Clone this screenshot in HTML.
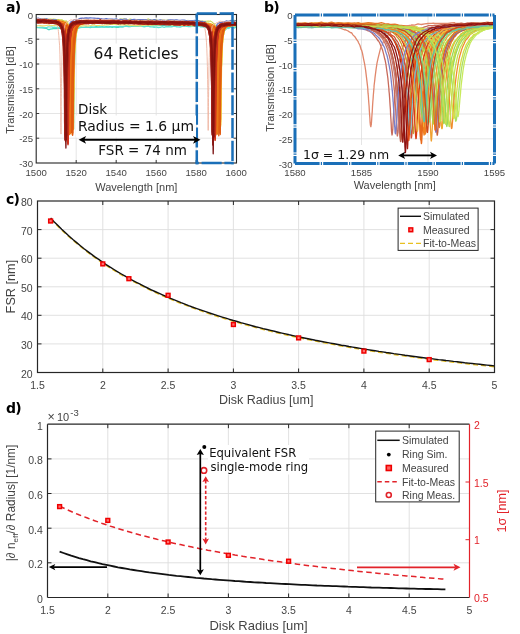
<!DOCTYPE html>
<html><head><meta charset="utf-8"><title>Figure</title>
<style>html,body{margin:0;padding:0;background:#fff;}svg{display:block;}</style>
</head><body>
<svg width="520" height="634" viewBox="0 0 520 634">
<rect width="520" height="634" fill="#fff"/>
<defs><clipPath id="ca"><rect x="36.2" y="14.5" width="200.3" height="148.5"/></clipPath><clipPath id="cb"><rect x="295" y="15" width="199.5" height="148.5"/></clipPath></defs>
<line x1="76.2" y1="14.5" x2="76.2" y2="163.0" stroke="#dedede" stroke-width="0.8"/>
<line x1="116.2" y1="14.5" x2="116.2" y2="163.0" stroke="#dedede" stroke-width="0.8"/>
<line x1="156.2" y1="14.5" x2="156.2" y2="163.0" stroke="#dedede" stroke-width="0.8"/>
<line x1="196.2" y1="14.5" x2="196.2" y2="163.0" stroke="#dedede" stroke-width="0.8"/>
<line x1="36.2" y1="39.2" x2="236.5" y2="39.2" stroke="#dedede" stroke-width="0.8"/>
<line x1="36.2" y1="64" x2="236.5" y2="64" stroke="#dedede" stroke-width="0.8"/>
<line x1="36.2" y1="88.8" x2="236.5" y2="88.8" stroke="#dedede" stroke-width="0.8"/>
<line x1="36.2" y1="113.5" x2="236.5" y2="113.5" stroke="#dedede" stroke-width="0.8"/>
<line x1="36.2" y1="138.2" x2="236.5" y2="138.2" stroke="#dedede" stroke-width="0.8"/>
<g clip-path="url(#ca)" fill="none" stroke-width="1.4" stroke-linejoin="round">
<polyline points="36.2,27.3 38.2,27.6 40.2,27.5 42.2,27.9 44.2,28 46.2,28.3 48.2,29.5 49.3,29.6 50.2,29.2 52.2,28.8 54.2,28.4 56.2,28.5 58,28.3 58.2,28.1 60.2,28.3 61.3,28.5 62.2,29.8 63.1,30.5 64.2,32.9 64.2,32.4 65,35.5 65.6,38.3 66.1,42.4 66.2,44.1 66.5,48.3 66.8,53.7 67.1,61 67.4,70.2 67.6,82.8 67.7,87.7 67.7,90.5 67.8,93.1 67.8,95.3 67.9,98.3 67.9,98.7 67.9,101.4 67.9,105 68,108 68,110.9 68.1,113.7 68.1,115.8 68.1,116.1 68.1,117.4 68.2,119.3 68.2,118.6 68.2,118.7 68.3,118.1 68.3,115.5 68.3,115 68.3,114.2 68.4,111 68.4,107.8 68.5,105 68.5,101.5 68.5,98.7 68.5,97.9 68.6,95.3 68.6,93.1 68.7,90.1 68.7,87.8 68.8,82.3 69,70.8 69.3,61.2 69.6,53.6 69.9,47.2 70.2,43.8 70.3,43.1 70.8,38.8 71.4,35 72.2,33.2 72.2,32.7 73.3,30.4 74.2,29 75.1,28.6 76.2,28.4 78.2,27.9 78.4,27.8 80.2,26.9 82.2,27.4 84.2,27.3 86.2,27 87.1,27.2 88.2,27.2 90.2,27.5 92.2,27.1 94.2,27.2 96.2,26.6 98.2,26.8 100.2,27 102.2,26.7 104.2,27.1 106.2,26.6 108.2,26.9 110.2,26.7 112.2,27.3 114.2,26.7 116.2,27.3 118.2,27.4 120.2,26.7 122.2,26.9 124.2,26.5 126.2,25.7 128.2,26.7 130.2,26.6 132.2,26.2 134.2,26 136.2,26.2 138.2,26.2 140.2,25.8 142.2,25.8 144.2,26.3 146.2,25.9 148.2,25.8 150.2,26.1 152.2,25.6 154.2,26 156.2,25.3 158.2,25.5 160.2,25.5 162.2,25.7 164.2,25.5 166.2,26.2 168.2,25.9 170.2,25.3 172.2,26.2 174.2,25.2 176.2,26.1 178.2,25.2 180.2,25.8 182.2,25.3 184.2,25.5 186.2,26.2 188.2,25.3 190.2,25.3 192.2,25.8 194.2,26 196.2,26.1 196.5,26.4 198.2,25.8 200.2,26.5 202.2,26.5 204.2,27.1 205.2,27.2 206.2,27.7 208.2,27.7 208.5,28.3 210.2,29.6 210.3,30 211.4,32.4 212.2,35 212.2,35.2 212.8,38.3 213.3,42.5 213.7,47.4 214,53.8 214.2,58.6 214.3,60.2 214.6,70.4 214.8,82.5 214.9,87.3 214.9,89.5 215,93.2 215,95.6 215.1,98.1 215.1,99.1 215.1,101.2 215.1,104.6 215.2,107.6 215.2,110.9 215.3,113.2 215.3,115 215.3,115.8 215.3,117.8 215.4,118.8 215.4,117.9 215.5,117.6 215.5,115.6 215.5,114.9 215.5,113.6 215.6,110.8 215.6,107.5 215.7,104.7 215.7,101.6 215.7,98.5 215.7,97.5 215.8,95.3 215.8,92.6 215.9,90.2 215.9,87.9 216,81.9 216.2,71.5 216.2,70.2 216.5,60.7 216.8,53.2 217.1,47.1 217.5,42.2 218,38.6 218.2,36.7 218.6,35.5 219.4,32.1 220.2,30.6 220.5,30 222.2,28.1 222.3,28.2 224.2,28.3 225.6,28.2 226.2,27.2 228.2,27.7 230.2,27.2 232.2,26.8 234.2,27.6 234.3,27.8 236.2,26.9" stroke="#3fd8c4" stroke-width="1.3"/>
<polyline points="36.2,27.2 38.2,27.5 40.2,27.7 42.2,27.2 44.2,27.5 46.2,27.7 48.2,26.9 50.2,27 52.2,26.8 52.5,27.3 54.2,27.1 56.2,27.3 58.2,27.3 60.2,27.1 61.2,27.6 62.2,27.4 64.2,28.1 64.5,27.7 66.2,30.4 66.3,29.7 67.4,32.2 68.2,34.9 68.2,35.4 68.8,38.3 69.3,42 69.7,47.2 70,53.1 70.2,58 70.3,60.2 70.6,69.9 70.8,82.4 70.9,86.9 70.9,89.8 71,92.9 71,94.6 71.1,96.4 71.1,97.3 71.1,100.6 71.1,103.4 71.2,105.6 71.2,108.7 71.3,111.2 71.3,112.7 71.3,113.3 71.3,114.6 71.4,115.5 71.4,115.7 71.5,115.3 71.5,113.3 71.5,112.9 71.5,111 71.6,109.3 71.6,106.1 71.7,103.2 71.7,100.8 71.7,96.8 71.8,96.3 71.8,94.8 71.8,91.6 71.9,89.1 71.9,87.7 72,81.6 72.2,71.9 72.2,69.8 72.5,61 72.8,53.3 73.2,47.3 73.6,41.9 74,38.1 74.2,37.2 74.6,34.4 75.4,32.5 76.2,30.8 76.5,30.8 78.2,28.1 78.3,28.3 80.2,27.6 81.7,27.3 82.2,27.5 84.2,27.3 86.2,27.4 88.2,27.3 90.2,27.2 90.4,26.7 92.2,27.1 94.2,27.3 96.2,27.5 98.2,27.5 100.2,26.7 102.2,27.1 104.2,27.2 106.2,27.2 108.2,27.4 110.2,27 112.2,26.5 114.2,26.9 116.2,26.7 118.2,26.6 120.2,26.4 122.2,26.9 124.2,26.4 126.2,26.5 128.2,25.9 130.2,26.4 132.2,26 134.2,25.7 136.2,26.4 138.2,26.5 140.2,26.3 142.2,26.5 144.2,26.9 146.2,26.5 148.2,26.1 150.2,26.9 152.2,27 154.2,27.4 156.2,27 158.2,27.6 160.2,27.5 162.2,26.7 164.2,27.5 166.2,26.8 168.2,26.6 170.2,26.9 172.2,26.8 174.2,26.2 176.2,26.8 178.2,26.9 180.2,27.1 182.2,26.5 184.2,25.9 186.2,26 188.2,26.7 190.2,26.6 192.2,26.5 194.2,26.2 196.2,26.5 198.2,26.4 199.7,26.4 200.2,26.7 202.2,26.7 204.2,26.9 206.2,27.2 208.2,27.4 208.4,27 210.2,28 211.7,28.9 212.2,29.9 213.5,30.5 214.2,32.6 214.6,33.4 215.4,35.3 216,38.7 216.2,40.7 216.5,43.6 216.9,48 217.2,54.1 217.5,61 217.8,69.5 218,81.7 218.1,87 218.1,89.5 218.2,91.6 218.2,92.9 218.2,94.6 218.3,96.2 218.3,97.2 218.3,99.1 218.3,101.8 218.4,104.4 218.4,107.5 218.5,109.4 218.5,110.7 218.5,111.5 218.5,112.8 218.6,113.9 218.6,113.9 218.7,112.4 218.7,111.5 218.7,110.6 218.7,109.2 218.8,107.9 218.8,105.1 218.9,102.1 218.9,99.4 218.9,97 218.9,95.9 219,94.1 219,92 219.1,89.5 219.1,86.5 219.2,81.7 219.4,71 219.7,60.8 220,53.8 220.2,49.9 220.3,48.2 220.7,43.2 221.2,39.5 221.8,34.9 222.2,34.4 222.6,32.6 223.7,31.2 224.2,30.4 225.5,29.9 226.2,29.1 228.2,27.9 228.8,28.6 230.2,27.5 232.2,27.5 234.2,27.7 236.2,27.4" stroke="#5ee4d4" stroke-width="1.2"/>
<polyline points="36.2,25.6 38.2,25.8 40.2,25.6 42.2,25.9 44.2,25.9 46.2,25.5 48.2,25.1 50.2,25.8 50.8,25.3 52.2,25.5 54.2,25.6 56.2,25 58.2,25.6 59.5,25 60.2,26 62.2,26.2 62.8,26.7 64.2,28.1 64.6,28.1 65.7,30.5 66.2,31.8 66.5,33.2 67.1,36.9 67.6,40.7 68,45.6 68.2,49.4 68.3,52 68.6,59.2 68.9,69.3 69.1,80.7 69.2,86.7 69.2,89.6 69.3,91.8 69.3,94.4 69.4,97.8 69.4,98.3 69.4,101.4 69.4,104.9 69.5,107.7 69.5,111.5 69.6,114.5 69.6,115.9 69.6,117.2 69.6,118.8 69.7,120.3 69.7,120.4 69.8,119.6 69.8,116.3 69.8,116.1 69.8,114.2 69.9,111.2 69.9,107.9 70,104.5 70,100.5 70,98.3 70.1,97.9 70.1,95.2 70.1,92.3 70.2,88.8 70.2,86.6 70.2,86.7 70.3,81.5 70.5,68.9 70.8,58.8 71.1,52.8 71.5,45.6 71.9,41.2 72.2,37.3 72.3,37.1 72.9,33.5 73.7,31.2 74.2,30 74.8,28.1 76.2,27.1 76.6,27.2 78.2,26.8 80,26.8 80.2,26.2 82.2,25.9 84.2,25.8 86.2,25.8 88.2,26.1 88.7,25.7 90.2,25.7 92.2,25.1 94.2,24.9 96.2,25.5 98.2,25.6 100.2,25.2 102.2,25.2 104.2,25.1 106.2,24.8 108.2,25 110.2,24.4 112.2,24.5 114.2,24.4 116.2,24.5 118.2,24.8 120.2,24.9 122.2,24.7 124.2,24.9 126.2,24.8 128.2,25 130.2,25.6 132.2,25.2 134.2,25.8 136.2,25.6 138.2,25.5 140.2,26.2 142.2,25.4 144.2,25.3 146.2,25.3 148.2,25.3 150.2,25.2 152.2,25.3 154.2,24.9 156.2,24.9 158.2,24.6 160.2,25 162.2,24.4 164.2,24.4 166.2,24.5 168.2,24.6 170.2,24.4 172.2,25.2 174.2,24.6 176.2,24.8 178.2,24.9 180.2,25 182.2,25.5 184.2,25.5 186.2,25.2 188.2,25.4 190.2,25.5 192.2,26.1 194.2,25.4 196.2,25.1 198.1,25.1 198.2,25.4 200.2,26 202.2,25.1 204.2,25.5 206.2,26.5 206.8,25.6 208.2,26.5 210.1,27.2 210.2,27 211.9,27.9 212.2,29 213,30.4 213.8,32.6 214.2,34.8 214.4,36.5 214.9,40.7 215.3,46 215.6,51.8 215.9,58.9 216.2,68.3 216.2,70.1 216.4,80.3 216.5,86.2 216.5,88.6 216.6,91.1 216.6,94 216.7,96.3 216.7,97.1 216.7,100.5 216.7,103.5 216.8,107.3 216.8,110.6 216.9,112.8 216.9,114.6 216.9,115.4 216.9,117.9 217,118.5 217,118.5 217.1,117.6 217.1,116.3 217.1,114.7 217.1,112.7 217.2,109.9 217.2,107.1 217.3,103.7 217.3,100.2 217.3,98.3 217.3,96.7 217.4,94.1 217.4,91.1 217.5,88 217.5,85.6 217.6,80.5 217.8,68.4 218.1,58.8 218.2,56.8 218.4,51.6 218.7,45.3 219.1,40 219.6,36.6 220.2,33.3 220.2,33.2 221,30.1 222.1,28.4 222.2,27.8 223.9,27.2 224.2,26.8 226.2,26.1 227.2,25.6 228.2,25.4 230.2,26.2 232.2,25.9 234.2,25.5 235.9,25.9 236.2,26.2" stroke="#e8e070" stroke-width="1.1"/>
<polyline points="36.2,18.8 38.2,19.1 40.2,18.6 42.2,19 44.2,18.6 46.2,19.3 48.2,19.3 50.2,19 52.2,19.4 53.9,19 54.2,19.1 56.2,19.6 58.2,19.5 60.2,19.9 62.2,19.8 62.6,20.4 64.2,20.8 65.9,21.1 66.2,20.9 67.7,22.5 68.2,24.1 68.8,25.4 69.6,27.7 70.2,31.6 70.2,32 70.7,35.7 71.1,40.6 71.4,47.2 71.7,55.1 72,64.8 72.2,75.6 72.2,77.3 72.3,82.8 72.3,85.6 72.4,88.5 72.4,92.1 72.5,94.6 72.5,95.8 72.5,99.3 72.5,103.4 72.6,106.7 72.6,111.2 72.7,115.4 72.7,117.5 72.7,118.8 72.7,121.2 72.8,123.5 72.8,123.3 72.9,121.6 72.9,117.8 72.9,117.2 72.9,115.1 73,110.9 73,106.3 73.1,103.1 73.1,99.3 73.1,95 73.2,94.6 73.2,91.7 73.2,88.9 73.3,85 73.3,82.2 73.4,77 73.6,64.1 73.9,55.4 74.2,47.2 74.2,47.1 74.6,40.8 75,35.7 75.4,31.9 76,29.1 76.2,27.6 76.8,26 77.9,23.8 78.2,23.5 79.7,22.2 80.2,22.6 82.2,20.7 83.1,20.9 84.2,20.4 86.2,20 88.2,20.5 90.2,21.1 91.8,20.7 92.2,20.8 94.2,20.6 96.2,20.3 98.2,21 100.2,20.1 102.2,20.7 104.2,20.1 106.2,20.2 108.2,20.2 110.2,20 112.2,20.1 114.2,20.1 116.2,20.4 118.2,19.8 120.2,19.1 122.2,19 124.2,19.1 126.2,19.3 128.2,19.8 130.2,19 132.2,19.5 134.2,19.5 136.2,19.6 138.2,19.5 140.2,19.7 142.2,19.6 144.2,20 146.2,19.8 148.2,18.9 150.2,19.8 152.2,20 154.2,19.8 156.2,19.8 158.2,20.5 160.2,20.3 162.2,20 164.2,20.3 166.2,20.4 168.2,20 170.2,20.8 172.2,20.6 174.2,20.9 176.2,20.3 178.2,21.5 180.2,21.1 182.2,21.1 184.2,20.7 186.2,20.7 188.2,20.4 190.2,21.4 192.2,20.6 194.2,20.9 196.2,21.1 198.2,20.6 200.2,21.1 200.9,21.5 202.2,21 204.2,21.4 206.2,21.2 208.2,21 209.6,21.2 210.2,20.9 212.2,22.1 212.9,23 214.2,23.8 214.7,24.4 215.8,26.6 216.2,27.3 216.6,29.2 217.2,33 217.7,36.2 218.1,41.5 218.2,43.7 218.4,47.5 218.7,54.9 219,64.8 219.2,77.2 219.3,83.1 219.3,86 219.4,89.1 219.4,93 219.5,95.3 219.5,96 219.5,99.5 219.5,103.9 219.6,106.9 219.6,111.5 219.7,115.9 219.7,118.2 219.7,119.1 219.7,121.7 219.8,123.5 219.8,123.2 219.9,121.9 219.9,118.8 219.9,117.9 219.9,115.5 220,111.2 220,106.6 220.1,103.8 220.1,99.8 220.1,96.2 220.1,94.9 220.2,92.9 220.2,91 220.2,89.2 220.3,86.5 220.3,83.6 220.4,77.7 220.6,65.6 220.9,55.6 221.2,47.7 221.5,41.3 221.9,36.5 222.2,34.6 222.4,32.4 223,28.6 223.8,26 224.2,25.3 224.9,24.3 226.2,22.5 226.7,22.6 228.2,22.1 230,21.5 230.2,20.7 232.2,20.9 234.2,20.4 236.2,20.9" stroke="#c8d850" stroke-width="1.1"/>
<polyline points="36.2,18.9 38.2,18 40.2,18.7 42.2,19.2 44.2,19.1 46.2,19 46.2,18.7 48.2,19.4 50.2,20 52.2,19.6 54.2,19.8 54.9,19.9 56.2,19.8 58.2,21 58.3,20.9 60,23.2 60.2,22.8 61.2,24.3 62,27.5 62.2,28.8 62.6,31.1 63,34.7 63.4,40.7 63.8,46.7 64.1,54.2 64.2,58.2 64.3,64.5 64.6,77.5 64.7,83.9 64.7,86.9 64.8,90.3 64.8,94.3 64.8,97.1 64.8,97.6 64.9,102.6 64.9,107 65,111.8 65,117.9 65,123.2 65.1,127.1 65.1,128.5 65.1,132.9 65.2,135.8 65.2,136.5 65.2,133.3 65.3,128.7 65.3,126.8 65.3,122.6 65.4,117.9 65.4,111.6 65.4,106.9 65.5,101.7 65.5,97.8 65.5,97.2 65.6,93.8 65.6,89.9 65.6,86.8 65.7,83.5 65.8,77.9 66,65 66.2,57.3 66.3,54.1 66.6,46.5 66.9,40.3 67.3,34.9 67.8,31.3 68.2,29 68.4,27.8 69.2,24.6 70.2,23.4 70.3,22.3 72.1,21.3 72.2,21.4 74.2,19.6 75.4,19.7 76.2,19.9 78.2,19.2 80.2,18.4 82.2,18.1 84.1,18.4 84.2,18.1 86.2,17.8 88.2,18.2 90.2,17.8 92.2,18 94.2,18.2 96.2,18.4 98.2,18.3 100.2,18.5 102.2,18.9 104.2,19.1 106.2,18.7 108.2,19.1 110.2,19 112.2,19 114.2,19.3 116.2,18.7 118.2,19.8 120.2,19.3 122.2,19.7 124.2,19 126.2,19.1 128.2,20.3 130.2,20 132.2,19.5 134.2,19.4 136.2,19.5 138.2,19.8 140.2,19.6 142.2,19.6 144.2,19.8 146.2,19.5 148.2,20.6 150.2,19.7 152.2,20.3 154.2,19.6 156.2,20 158.2,20.3 160.2,19.9 162.2,20.3 164.2,20.4 166.2,20.6 168.2,20.1 170.2,19.9 172.2,19.8 174.2,20.2 176.2,19.8 178.2,20.2 180.2,20.3 182.2,20.1 184.2,20 186.2,20.5 188.2,20.5 190.2,20.5 192.2,20.5 193.3,20.9 194.2,20.3 196.2,20.9 198.2,20.7 200.2,21.4 202,21.3 202.2,21.3 204.2,22.2 205.3,21.9 206.2,23.2 207.1,23.7 208.2,26.2 208.2,26.7 209,29.4 209.6,32.5 210.1,36.8 210.2,38.4 210.5,41.9 210.8,48.7 211.1,55.8 211.4,66.4 211.6,78.7 211.7,85 211.7,88.1 211.8,91.2 211.8,94.6 211.9,98.2 211.9,99.1 211.9,103 211.9,107.8 212,112.1 212,116.3 212.1,122.3 212.1,124.6 212.1,127.2 212.1,130.6 212.2,133.1 212.2,133.3 212.2,132.8 212.3,130.1 212.3,126.7 212.3,124.8 212.3,122.2 212.4,116.6 212.4,111.9 212.5,106.8 212.5,102.6 212.5,97.9 212.5,98.4 212.6,94.8 212.6,90.8 212.7,88 212.7,85.1 212.8,78.9 213,66.1 213.3,55.7 213.6,47.2 213.9,41.5 214.2,38.8 214.3,37.1 214.8,32.8 215.4,29 216.2,26.9 216.2,26.8 217.3,24.1 218.2,23.1 219.1,22.9 220.2,22.6 222.2,22.2 222.4,21.8 224.2,22.1 226.2,20.9 228.2,21.3 230.2,20.8 231.1,20.3 232.2,20.5 234.2,21.3 236.2,20.6" stroke="#5a6ec8" stroke-width="1.2"/>
<polyline points="36.2,22 38.2,21.7 40.2,21.7 42.2,21.6 44.2,21.6 46.2,21.8 48.2,21.4 50.2,22.5 52.2,21.8 54.2,22.2 54.7,21.9 56.2,21.9 58.2,22.4 60.2,22.5 62.2,22.3 63.4,22.6 64.2,23.2 66.2,23 66.7,23.2 68.2,25.8 68.5,25.6 69.6,27 70.2,29.4 70.4,30.6 71,34.1 71.5,38.3 71.9,43.3 72.2,48.9 72.2,49.1 72.5,57.2 72.8,66.9 73.1,80.3 73.1,85.6 73.2,88.8 73.2,91.7 73.3,94.7 73.3,97.8 73.3,98.5 73.3,102.4 73.4,106.7 73.4,111 73.5,115.6 73.5,119.6 73.5,122.9 73.5,123.4 73.6,127.1 73.6,129.2 73.7,129.1 73.7,127.4 73.7,123.9 73.8,122.7 73.8,119.5 73.8,115.8 73.9,111.9 73.9,107 73.9,103.3 74,98.8 74,97.6 74,94.9 74.1,92.2 74.1,88.8 74.1,85 74.2,81.4 74.2,79.8 74.5,66.5 74.8,56.2 75,49 75.4,43.2 75.8,38.1 76.2,34.3 76.3,34.3 76.9,31.1 77.6,28 78.2,27.2 78.8,25.9 80.2,24.5 80.6,23.5 82.2,23.9 83.9,23.2 84.2,23.2 86.2,22.7 88.2,22.4 90.2,22.9 92.2,23 92.6,23.2 94.2,23 96.2,22.5 98.2,22.7 100.2,23.1 102.2,22.9 104.2,22.8 106.2,22.6 108.2,23.1 110.2,23 112.2,23.5 114.2,23.3 116.2,22.4 118.2,23.8 120.2,23.1 122.2,23 124.2,23.2 126.2,23.4 128.2,23.1 130.2,23.1 132.2,23.2 134.2,23.8 136.2,23.2 138.2,23.5 140.2,23.4 142.2,23.1 144.2,22.9 146.2,22.9 148.2,23.3 150.2,22.9 152.2,22.8 154.2,22.8 156.2,22.7 158.2,23.2 160.2,23.3 162.2,22.9 164.2,23.7 166.2,23.2 168.2,23.4 170.2,23.4 172.2,23.9 174.2,23.6 176.2,23.4 178.2,23.1 180.2,23.1 182.2,23.5 184.2,23.6 186.2,23.9 188.2,23.5 190.2,23.8 192.2,23.5 194.2,23.2 196.2,23.9 198.2,24.5 200.2,24.4 201.6,24.7 202.2,24.6 204.2,23.9 206.2,24.4 208.2,25.3 210.2,24.9 210.3,24.7 212.2,25.8 213.6,26.6 214.2,26.9 215.4,28 216.2,29.2 216.5,29.9 217.3,32.6 217.9,36 218.2,38 218.4,40.2 218.8,46 219.1,51.6 219.4,58.9 219.7,68.6 220,80.4 220,86.2 220.1,89 220.1,91 220.2,94.2 220.2,96.8 220.2,96.7 220.2,97.2 220.2,100.6 220.3,104.9 220.3,107.6 220.4,110.8 220.4,114 220.4,115.3 220.4,115.8 220.5,118.3 220.5,119.6 220.6,118.5 220.6,118.3 220.6,116.7 220.7,115.2 220.7,113.5 220.7,110.9 220.8,107.1 220.8,104.2 220.8,101.1 220.9,97.5 220.9,96.7 220.9,94.7 221,91.4 221,88.8 221,85.1 221.1,81 221.4,68 221.7,59.1 222,51.6 222.2,46.8 222.3,45.2 222.7,40.1 223.2,36.4 223.8,33.4 224.2,31.7 224.6,30.3 225.7,28.1 226.2,27.2 227.5,26.5 228.2,25.9 230.2,25.2 230.8,25.5 232.2,25.9 234.2,25.6 236.2,25.6" stroke="#8ed050" stroke-width="1.2"/>
<polyline points="36.2,20.4 38.2,20.4 40.2,20.4 42.2,20.7 44.2,20.6 46.2,20.1 48.2,21.3 50.2,20.7 52.2,21.2 53.8,20.9 54.2,20.7 56.2,21.2 58.2,21 60.2,22.1 62.2,21.4 62.5,22.1 64.2,22.1 65.9,23 66.2,24.2 67.6,25 68.2,25.6 68.8,26.4 69.6,29.6 70.2,32.9 70.2,33.8 70.6,36.6 71,41.5 71.4,48.2 71.7,55.9 71.9,66 72.2,77.6 72.2,77.4 72.3,83.3 72.3,85.9 72.4,89.1 72.4,92.7 72.4,94.6 72.4,96.1 72.5,99.3 72.5,102.7 72.6,106.2 72.6,110.1 72.6,113.7 72.7,116.2 72.7,117.4 72.7,119.3 72.8,120.8 72.8,121 72.8,119.7 72.9,117.1 72.9,116.4 72.9,114.3 73,110.9 73,106.5 73,102.7 73.1,98.5 73.1,96.2 73.1,95.3 73.2,92.1 73.2,89.4 73.2,86.4 73.3,82.9 73.4,78.1 73.6,65.8 73.9,56.3 74.2,48.1 74.2,48 74.5,42.6 74.9,37.5 75.4,32.9 76,29.5 76.2,29.1 76.8,26.7 77.9,24.6 78.2,25 79.7,23.2 80.2,22.7 82.2,22.3 83,22.7 84.2,21.8 86.2,21.2 88.2,20.8 90.2,22 91.7,20.3 92.2,21.6 94.2,20.8 96.2,20.6 98.2,20.7 100.2,21 102.2,21.4 104.2,20.8 106.2,21.2 108.2,21.8 110.2,20 112.2,20.7 114.2,20.4 116.2,21.3 118.2,20.5 120.2,20.5 122.2,20.6 124.2,21.2 126.2,21.6 128.2,21.3 130.2,22.1 132.2,21.9 134.2,21.4 136.2,21.8 138.2,21.6 140.2,21.6 142.2,21 144.2,21.3 146.2,21.8 148.2,21.4 150.2,22.2 152.2,22.1 154.2,21.7 156.2,22.5 158.2,22.2 160.2,22.6 162.2,22.2 164.2,21.7 166.2,22.6 168.2,22.3 170.2,22.7 172.2,22.8 174.2,22.9 176.2,22 178.2,21.7 180.2,22.4 182.2,22.8 184.2,22.3 186.2,22.7 188.2,22.3 190.2,22.5 192.2,22.6 194.2,22.5 196.2,22.9 198.2,22.9 200.2,23.4 200.8,22.9 202.2,23.3 204.2,23 206.2,23.4 208.2,23.2 209.5,23.3 210.2,24.1 212.2,24.6 212.9,25 214.2,25.5 214.6,25.7 215.8,28.2 216.2,29.9 216.6,30.7 217.2,35.1 217.6,38.1 218,43.9 218.2,47.3 218.4,48.8 218.7,56.7 218.9,67.1 219.2,79 219.3,84.6 219.3,87.2 219.4,90.6 219.4,93.3 219.4,95.4 219.4,96.1 219.5,99.1 219.5,102.9 219.6,105.5 219.6,110 219.6,112.8 219.7,115.3 219.7,116.1 219.7,117.2 219.8,119.1 219.8,118.6 219.8,117.7 219.9,115.9 219.9,114.8 219.9,113 220,109.8 220,106 220,102.6 220.1,99.6 220.1,96.5 220.1,95.4 220.2,93 220.2,89.8 220.2,89.1 220.2,86.8 220.3,84.5 220.4,79.2 220.6,67 220.9,57.6 221.2,50.1 221.5,43.8 221.9,38.8 222.2,35.9 222.4,34.7 223,31.3 223.8,28.9 224.2,27 224.9,26.2 226.2,24.5 226.7,24.5 228.2,23.6 230,23.7 230.2,23.3 232.2,22.4 234.2,23.6 236.2,22.7" stroke="#a8d848" stroke-width="1.2"/>
<polyline points="36.2,20.5 38.2,20.5 40.2,20.4 42.2,20.4 44.2,20.4 46.2,21.2 48.2,20.1 50.2,20.5 51.5,20.7 52.2,21.1 54.2,21.2 56.2,21.2 58.2,21.5 60.2,22.6 60.2,21.7 62.2,21.6 63.6,24 64.2,23.4 65.3,24.9 66.2,26.6 66.5,26.7 67.3,30.4 67.9,33.3 68.2,35.5 68.3,37.5 68.7,42.6 69.1,48.6 69.4,56.4 69.6,65.3 69.9,78.8 70,83.8 70,87.4 70.1,89.7 70.1,93.2 70.1,96.8 70.1,96.6 70.2,100.5 70.2,101.8 70.2,103.4 70.3,108.2 70.3,112 70.3,114.9 70.4,117.6 70.4,118.2 70.4,121.1 70.5,123 70.5,122.7 70.5,120.8 70.6,118.4 70.6,117.5 70.6,115.4 70.7,111.7 70.7,108 70.7,103.3 70.8,100.2 70.8,97 70.8,96.1 70.9,93 70.9,89.8 70.9,87.1 71,84.4 71.1,78.5 71.3,66.5 71.6,56.7 71.9,48.4 72.2,43.2 72.2,42.4 72.6,37.1 73.1,33.2 73.7,30.1 74.2,27.5 74.5,27.2 75.6,25.4 76.2,24.3 77.4,23.5 78.2,23.5 80.2,22.6 80.7,22.6 82.2,23 84.2,22.2 86.2,22.1 88.2,22 89.4,22.4 90.2,21.9 92.2,21.8 94.2,21.7 96.2,22.1 98.2,21.4 100.2,22.1 102.2,21.7 104.2,21.1 106.2,21.8 108.2,21.7 110.2,21.1 112.2,21.6 114.2,21.6 116.2,21.4 118.2,21.1 120.2,22.2 122.2,21.7 124.2,21.8 126.2,21.8 128.2,21.8 130.2,21.8 132.2,21.4 134.2,21.8 136.2,21.5 138.2,21.4 140.2,21.8 142.2,21.6 144.2,21.1 146.2,21.6 148.2,22 150.2,21.8 152.2,22.2 154.2,21.8 156.2,21.7 158.2,22.4 160.2,22.2 162.2,21.8 164.2,22.5 166.2,22.3 168.2,22.8 170.2,22.8 172.2,22.8 174.2,21.9 176.2,22.9 178.2,23 180.2,23 182.2,23 184.2,22.7 186.2,23 188.2,22.4 190.2,23.1 192.2,22.7 194.2,23.2 196.2,23.1 198.2,23.9 198.7,23.5 200.2,23.5 202.2,23.7 204.2,24.5 206.2,23.7 207.4,24.3 208.2,24.5 210.2,25.2 210.7,25.4 212.2,26.5 212.5,27.4 213.6,29.5 214.2,31 214.4,31.8 215,35.3 215.5,39.5 215.9,44.5 216.2,50.3 216.2,50.1 216.5,58.2 216.8,66.8 217,79.3 217.1,85 217.1,87.2 217.2,90.8 217.2,93.8 217.3,96.3 217.3,96.5 217.3,99.6 217.3,103 217.4,106.1 217.4,110.2 217.5,112.3 217.5,114.7 217.5,115.3 217.5,117.2 217.6,118.5 217.6,118.6 217.7,117.5 217.7,115.2 217.7,114 217.7,112.4 217.8,109.9 217.8,106.6 217.9,103.3 217.9,99.5 217.9,97.1 217.9,95.4 218,93.5 218,90.6 218.1,87.4 218.1,84.5 218.2,79.4 218.2,78.5 218.4,67.2 218.7,57.4 219,49.9 219.4,44.3 219.7,38.8 220.2,35.2 220.2,35.1 220.8,32.1 221.6,29.2 222.2,27.5 222.7,27.4 224.2,25.2 224.5,25.1 226.2,24.4 227.8,24.8 228.2,24 230.2,23.5 232.2,23.8 234.2,23.4 236.2,24.1" stroke="#6cc8a0" stroke-width="1.2"/>
<polyline points="36.2,20.5 38.2,20.5 40.2,19.6 42.2,20.7 44.2,20.8 46.2,20.7 48.2,21.1 50.2,20.4 50.9,20.3 52.2,21.2 54.2,21.8 56.2,21 58.2,21.3 59.6,21.6 60.2,21.7 62.2,23.1 62.9,23.3 64.2,24.8 64.7,25.4 65.8,26.8 66.2,28.4 66.6,29 67.2,33.1 67.7,37.5 68.1,41.9 68.2,43 68.4,48 68.7,56 69,64.7 69.3,76.2 69.4,81.9 69.4,84.4 69.4,86.4 69.5,89.5 69.5,92.3 69.5,92.5 69.6,95.5 69.6,98.1 69.6,101 69.7,103.4 69.7,106.1 69.7,108.3 69.8,108.3 69.8,109.7 69.8,110.7 69.9,110.5 69.9,110.3 70,108.9 70,107.4 70,106.8 70,104.7 70.1,100.8 70.1,98.5 70.2,95.5 70.2,93 70.2,92.6 70.2,92.3 70.2,89.8 70.3,86.8 70.3,85.1 70.4,81.5 70.4,77.1 70.7,65.3 71,55.4 71.3,48.3 71.6,42.8 72,36.7 72.2,35.7 72.5,33.2 73.1,29.9 73.9,26.8 74.2,26.7 75,24.8 76.2,24.2 76.8,23.2 78.2,23.2 80.1,22.6 80.2,21.8 82.2,22 84.2,21.9 86.2,21.1 88.2,21.7 88.8,22.1 90.2,21.5 92.2,22.1 94.2,21.3 96.2,21.2 98.2,21.8 100.2,21.8 102.2,21.5 104.2,21.5 106.2,21.8 108.2,21.3 110.2,22.1 112.2,21.6 114.2,21.5 116.2,21.5 118.2,21.3 120.2,21.8 122.2,21.2 124.2,21.4 126.2,21.6 128.2,21.8 130.2,21.8 132.2,21.3 134.2,21.7 136.2,21.4 138.2,21.1 140.2,21.1 142.2,21 144.2,21.7 146.2,22 148.2,21.3 150.2,21.6 152.2,21.4 154.2,21.9 156.2,21.5 158.2,21.7 160.2,21.8 162.2,22 164.2,22.1 166.2,22.2 168.2,22.3 170.2,22.1 172.2,22.7 174.2,22 176.2,22.7 178.2,22.4 180.2,22.8 182.2,23 184.2,22.2 186.2,23.1 188.2,23.5 190.2,23.3 192.2,23.3 194.2,22.5 196.2,23.2 198.2,23 198.2,23.7 200.2,23.3 202.2,23.3 204.2,23.1 206.2,24.2 206.9,23.9 208.2,24.3 210.2,25.6 210.2,25.3 212,27 212.2,28 213.1,28.8 213.9,31.5 214.2,33.4 214.5,35.5 215,38.6 215.4,43.9 215.7,49.7 216,56.9 216.2,64.3 216.3,66.3 216.5,78.5 216.6,83.4 216.6,85.9 216.7,88.5 216.7,90.8 216.8,93.4 216.8,94.1 216.8,97 216.8,99.6 216.9,102.9 216.9,105.5 217,107.8 217,109.4 217,109.9 217,111.6 217.1,111.5 217.1,111.7 217.2,111.2 217.2,109.9 217.2,108.4 217.2,107.7 217.3,105.4 217.3,102.5 217.4,99.7 217.4,96.4 217.4,94 217.5,92.7 217.5,91.5 217.5,88.3 217.6,86.3 217.6,82.8 217.7,78.5 217.9,66.6 218.2,57.5 218.2,56.9 218.5,50.4 218.9,44.1 219.2,39.6 219.7,35 220.2,32.3 220.3,31.8 221.1,29.2 222.2,27 222.2,27.1 224,25 224.2,24.5 226.2,24.9 227.4,24 228.2,24 230.2,23.4 232.2,23.7 234.2,23.3 236.1,23.6 236.2,23" stroke="#bce048" stroke-width="1.2"/>
<polyline points="36.2,20.6 38.2,20.2 40.2,20.2 42.2,21.1 44.2,21 46.2,20.3 48.2,20.4 50.2,21.3 51.8,21.5 52.2,21.4 54.2,21.5 56.2,22 58.2,21.7 60.2,22.5 60.5,22.5 62.2,22.3 63.8,23.6 64.2,23.7 65.6,24.9 66.2,25.8 66.7,27.4 67.5,30 68.1,33.6 68.2,33.2 68.6,37.2 69,42.8 69.3,48.4 69.6,55.6 69.9,64.9 70.2,76.5 70.2,78.8 70.2,82.3 70.3,84.7 70.3,87.8 70.4,90 70.4,92.3 70.4,92 70.4,95.9 70.5,99.6 70.5,102.1 70.6,104.7 70.6,107.8 70.6,109.2 70.6,109.7 70.7,111.1 70.7,112.1 70.8,112.4 70.8,111 70.8,109.8 70.9,109 70.9,107.9 70.9,105.1 71,101.8 71,99.6 71,96 71.1,92.8 71.1,92.6 71.1,90.1 71.2,87.8 71.2,84.3 71.2,81.8 71.3,77 71.6,65.8 71.9,56.2 72.2,48.2 72.2,47 72.5,42.4 72.9,37.1 73.4,33.7 74,30.2 74.2,29.2 74.8,27.3 75.9,25.9 76.2,24.7 77.7,23.3 78.2,23.9 80.2,23.3 81,22.5 82.2,22.7 84.2,23.1 86.2,21.9 88.2,22 89.7,22.2 90.2,21.3 92.2,22 94.2,22.3 96.2,21.9 98.2,22.3 100.2,22.2 102.2,21.8 104.2,22.1 106.2,22.1 108.2,21.3 110.2,21.6 112.2,21.6 114.2,21.7 116.2,21.7 118.2,21.4 120.2,21.9 122.2,21.2 124.2,22.2 126.2,21.9 128.2,22.3 130.2,22 132.2,21.7 134.2,21.4 136.2,22.1 138.2,21.9 140.2,22 142.2,22.2 144.2,22.4 146.2,22 148.2,22.6 150.2,22 152.2,22.1 154.2,22.4 156.2,22.6 158.2,22.7 160.2,21.7 162.2,22.8 164.2,21.9 166.2,22.3 168.2,22.7 170.2,23 172.2,22.3 174.2,22.1 176.2,23.1 178.2,23 180.2,22.6 182.2,22.9 184.2,22.4 186.2,23.3 188.2,23 190.2,23.7 192.2,22.6 194.2,23.7 196.2,24.3 198.2,23.6 198.9,23.7 200.2,23 202.2,23.9 204.2,24 206.2,24 207.6,23.9 208.2,24.6 210.2,24.9 210.9,25.4 212.2,26.8 212.7,27.2 213.8,29.4 214.2,30.9 214.6,31.7 215.2,35.9 215.7,39.1 216.1,44.1 216.2,46.3 216.4,50.7 216.7,57.8 217,66.8 217.2,78.4 217.3,83.5 217.4,85.8 217.4,88.8 217.4,91.2 217.5,94 217.5,93.8 217.5,96.8 217.6,99.8 217.6,102 217.6,104.8 217.7,108.4 217.7,108.7 217.7,109.9 217.8,110.5 217.8,110.8 217.9,111.8 217.9,110.8 217.9,109.5 217.9,108.6 218,107.2 218,104.6 218,102.7 218.1,99 218.1,97.1 218.2,93.9 218.2,93 218.2,91.7 218.2,91.6 218.3,88.8 218.3,86.2 218.3,83.6 218.4,78.3 218.7,67.4 218.9,57.6 219.2,50.2 219.6,44.2 220,39.3 220.2,36.8 220.4,35.3 221,31.8 221.8,29.2 222.2,28 223,27.9 224.2,25.6 224.8,25.7 226.2,25.1 228.1,24.8 228.2,25.1 230.2,24.3 232.2,24.2 234.2,23.6 236.2,24.2" stroke="#8ed050" stroke-width="1.2"/>
<polyline points="36.2,21.1 38.2,21.2 40.2,21.7 42.2,21.4 44.2,21.7 46.2,21.4 48.2,20.9 50.2,21.4 52.2,21.8 54.1,22.3 54.2,22.3 56.2,22.5 58.2,21.8 60.2,22.5 62.2,22.5 62.8,22.9 64.2,23 66.1,23.4 66.2,24.2 67.9,25.7 68.2,26.3 69,27.5 69.8,30.9 70.2,32.9 70.4,34.4 70.9,38.5 71.3,42.9 71.6,48.4 71.9,57.3 72.2,66.2 72.2,66.7 72.5,80.2 72.5,85.6 72.6,88.5 72.6,91.9 72.7,94.4 72.7,98.8 72.7,98.5 72.7,102.5 72.8,106.9 72.8,111 72.9,115.3 72.9,120 72.9,122.7 72.9,124 73,128.2 73,128.9 73.1,128.6 73.1,127.2 73.1,124 73.2,123.3 73.2,120.3 73.2,116 73.3,111.5 73.3,106.5 73.3,103 73.4,98.9 73.4,98.7 73.4,95.2 73.5,91.7 73.5,88.8 73.5,85.9 73.6,79.1 73.9,67.2 74.2,57.3 74.2,56 74.5,48.9 74.8,42.4 75.2,38 75.7,34.2 76.2,31 76.3,30.3 77.1,28.2 78.2,25.2 78.2,25.2 80,24.1 80.2,23.7 82.2,22.9 83.3,22.4 84.2,23.1 86.2,22.1 88.2,22.5 90.2,22.6 92,22.2 92.2,22.3 94.2,22.5 96.2,22.7 98.2,22.5 100.2,21.6 102.2,21.5 104.2,21.9 106.2,21.7 108.2,22.3 110.2,22.2 112.2,22 114.2,22.5 116.2,22.5 118.2,22.1 120.2,22.3 122.2,22.6 124.2,22.1 126.2,22.3 128.2,21.9 130.2,22.3 132.2,22.4 134.2,22.3 136.2,22.5 138.2,22.7 140.2,22.6 142.2,22.3 144.2,22.3 146.2,22.2 148.2,23.2 150.2,22.8 152.2,22.9 154.2,22.7 156.2,23 158.2,23.1 160.2,22.7 162.2,22.9 164.2,23.4 166.2,22.6 168.2,22.8 170.2,23.4 172.2,22.9 174.2,23.5 176.2,22.9 178.2,23.4 180.2,23.6 182.2,23.5 184.2,23.7 186.2,23.4 188.2,23.4 190.2,23.5 192.2,23.8 194.2,24.9 196.2,23.6 198.2,24.4 200.2,23.7 201.5,23.4 202.2,23.8 204.2,24.1 206.2,24.2 208.2,24.3 210.2,24.8 210.2,24.8 212.2,25.5 213.5,25.4 214.2,26.3 215.3,27.2 216.2,29.1 216.5,29.6 217.3,32.4 217.9,35.6 218.2,38.3 218.3,39.8 218.7,45.1 219.1,51.3 219.4,58.1 219.6,68.5 219.9,81.2 220,86.1 220,89.1 220,92.3 220.1,95.9 220.1,97.9 220.1,99.1 220.2,102.6 220.2,105.7 220.2,107.1 220.3,111.1 220.3,114.5 220.3,118.3 220.4,120.8 220.4,122.3 220.4,125.1 220.4,126.2 220.5,126.6 220.5,124.3 220.6,121.6 220.6,119.7 220.6,118.3 220.6,114.9 220.7,111 220.7,108 220.8,103.2 220.8,99.4 220.8,98.3 220.9,95.7 220.9,92.4 220.9,89.5 221,86.5 221.1,80.6 221.3,68.7 221.6,58.8 221.9,51.5 222.2,44.6 222.2,44.5 222.6,39.6 223.1,36.2 223.7,32.4 224.2,30.6 224.5,29.7 225.6,27.6 226.2,26.7 227.4,26 228.2,25.2 230.2,24.8 230.7,24.9 232.2,24.6 234.2,24.5 236.2,23.9" stroke="#f4c038" stroke-width="1.4"/>
<polyline points="36.2,20.9 38.2,21.6 40.2,21.4 42.2,21.2 44.2,21.4 46.2,21.5 48.2,20.9 50.2,21.3 52.2,21.2 53.5,21.5 54.2,21.3 56.2,21.8 58.2,21.7 60.2,21.7 62.2,22.3 62.2,22.5 64.2,23.3 65.5,23.5 66.2,24 67.3,25.4 68.2,27.3 68.4,27.3 69.2,29.3 69.8,33.7 70.2,37 70.3,37.5 70.6,43.5 71,48.7 71.3,56.5 71.6,65.2 71.8,78 71.9,83.6 71.9,86 72,88.7 72,91.9 72.1,94.2 72.1,95.3 72.1,98.1 72.1,101 72.2,103.9 72.2,106 72.2,107.8 72.3,110.4 72.3,112.1 72.3,112.8 72.3,114.9 72.4,116.4 72.4,116.2 72.5,115.2 72.5,113.2 72.5,112.4 72.5,111 72.6,108.4 72.6,104.7 72.7,101.9 72.7,97.9 72.7,94.7 72.7,94.8 72.8,91.4 72.8,88.4 72.9,85.8 72.9,82.6 73,77.3 73.2,66.2 73.5,55.9 73.8,48.7 74.1,42.6 74.2,41.7 74.5,38.1 75,33.9 75.6,30.7 76.2,28.6 76.4,27.8 77.5,26.1 78.2,25.2 79.3,23.8 80.2,23.6 82.2,22.9 82.6,23.6 84.2,23 86.2,22.8 88.2,22.5 90.2,22.7 91.3,22.2 92.2,22.5 94.2,22.5 96.2,22.5 98.2,22.3 100.2,22.8 102.2,22.2 104.2,22.5 106.2,22.6 108.2,22.7 110.2,22.5 112.2,22.4 114.2,22.4 116.2,22.6 118.2,22.4 120.2,22.7 122.2,22.3 124.2,22.7 126.2,23.4 128.2,22.2 130.2,22.6 132.2,23.1 134.2,22.7 136.2,22.9 138.2,21.9 140.2,22.4 142.2,23.1 144.2,22.4 146.2,22.7 148.2,21.9 150.2,22.9 152.2,23.3 154.2,22.5 156.2,22.7 158.2,22.7 160.2,23.3 162.2,22.5 164.2,22.1 166.2,23.4 168.2,22.3 170.2,23 172.2,22 174.2,22.7 176.2,23 178.2,22.6 180.2,22.9 182.2,23.3 184.2,23 186.2,23.5 188.2,24 190.2,22.7 192.2,23.7 194.2,23.8 196.2,23.6 198.2,24.4 200.2,24.4 200.9,24.2 202.2,24.3 204.2,24.2 206.2,24.1 208.2,24.9 209.6,24.8 210.2,24.9 212.2,26.3 212.9,26.2 214.2,27.7 214.7,27.6 215.8,30 216.2,31.3 216.6,33.3 217.2,36.2 217.7,40.6 218.1,45 218.2,47.5 218.4,51.6 218.7,58.5 219,67.9 219.2,80.5 219.3,85.1 219.4,88.2 219.4,90.9 219.4,93.6 219.5,96.5 219.5,96.8 219.5,99.8 219.5,102.4 219.6,105.6 219.6,109.2 219.7,111.4 219.7,113.7 219.7,114.3 219.8,115.9 219.8,117.1 219.8,116.4 219.9,116.2 219.9,114.9 219.9,113.1 219.9,112.2 220,109.4 220,107.2 220.1,102.7 220.1,99.6 220.1,96.5 220.2,95.8 220.2,93.2 220.2,93.1 220.2,90.6 220.3,88.4 220.3,85.7 220.4,79.9 220.6,68.1 220.9,59.3 221.2,51.2 221.6,45.4 222,40.6 222.2,37.9 222.4,36.4 223,33.5 223.8,30.6 224.2,28.7 224.9,28.6 226.2,26.7 226.7,26.3 228.2,25.6 230.1,25.7 230.2,25.4 232.2,24.9 234.2,24.5 236.2,24.9" stroke="#f0b030" stroke-width="1.4"/>
<polyline points="36.2,19.8 38.2,20.6 40.2,20.1 42.2,20.3 44.2,20.6 46.2,20.2 48.2,20.3 50.2,20.6 52.2,20.3 53.8,21.1 54.2,20.6 56.2,20.6 58.2,20.8 60.2,20.7 62.2,21.8 62.5,22 64.2,21.9 65.9,22.6 66.2,22.2 67.7,24.2 68.2,25.6 68.8,26.4 69.6,29.7 70.2,33.3 70.2,32 70.6,36.8 71,41.6 71.4,47.8 71.7,54.9 72,65 72.2,76.8 72.2,77.9 72.3,83.6 72.3,85.3 72.4,88.2 72.4,91.7 72.4,94.3 72.5,95 72.5,98.7 72.5,101.5 72.6,105.4 72.6,109 72.7,112.4 72.7,114 72.7,115.3 72.7,117.4 72.8,119.3 72.8,118.7 72.9,116.9 72.9,115.6 72.9,114.5 72.9,112.2 73,108.8 73,105.3 73.1,102.5 73.1,98.2 73.1,95.4 73.1,94.6 73.2,91.6 73.2,88.8 73.3,85.5 73.3,82 73.4,77.4 73.6,64.9 73.9,55.9 74.2,48.4 74.2,48.4 74.5,42.2 74.9,37.4 75.4,33.1 76,29.6 76.2,29.1 76.8,27.3 77.9,25.2 78.2,24.2 79.7,23.1 80.2,22.5 82.2,21.8 83,22.2 84.2,21.6 86.2,22.2 88.2,20.8 90.2,21.1 91.7,21.6 92.2,21.9 94.2,21.4 96.2,22.1 98.2,21.8 100.2,21.3 102.2,21.5 104.2,21.7 106.2,21.2 108.2,21.9 110.2,21.5 112.2,21.8 114.2,21.9 116.2,21.4 118.2,22 120.2,21 122.2,21.8 124.2,20.9 126.2,22 128.2,21.4 130.2,22 132.2,22.1 134.2,21.6 136.2,21.4 138.2,22.1 140.2,21.2 142.2,21.9 144.2,21.6 146.2,21.5 148.2,21.5 150.2,22.3 152.2,21.1 154.2,21.5 156.2,21.9 158.2,22.1 160.2,22.4 162.2,22.3 164.2,21.7 166.2,22 168.2,22.3 170.2,22.1 172.2,21.5 174.2,22.2 176.2,22.3 178.2,21.7 180.2,22.1 182.2,22.3 184.2,22.6 186.2,23 188.2,22.9 190.2,22.7 192.2,22.7 194.2,22.6 196.2,22.6 198.2,22.8 200.2,22.9 201,23.4 202.2,23.8 204.2,23.4 206.2,23.7 208.2,23.9 209.7,24 210.2,24.5 212.2,25.1 213,25.2 214.2,26.1 214.8,27.1 215.9,28.9 216.2,30 216.7,32.1 217.3,35.1 217.8,38.6 218.2,44.4 218.2,44.3 218.5,49.8 218.8,57.3 219.1,67.5 219.3,78.7 219.4,84.7 219.5,87.5 219.5,90.3 219.5,92.9 219.6,95.6 219.6,96.3 219.6,99 219.7,102.9 219.7,106.4 219.7,109 219.8,112 219.8,113.6 219.8,115.2 219.9,116.4 219.9,117.6 219.9,117.2 220,117.2 220,114.8 220,114 220.1,112.8 220.1,109.5 220.1,105.6 220.2,102.9 220.2,100.7 220.2,99.1 220.3,95.9 220.3,95.3 220.3,93.4 220.3,90.2 220.4,87.1 220.4,85 220.5,79.7 220.8,66.9 221,57.2 221.3,50.7 221.7,45.1 222.1,39.8 222.2,38.2 222.5,35.2 223.1,31.6 223.9,29.2 224.2,28.7 225.1,26.9 226.2,26.1 226.8,25.4 228.2,24.9 230.2,23.3 230.2,23.9 232.2,24.2 234.2,24 236.2,23.7" stroke="#f8d040" stroke-width="1.4"/>
<polyline points="36.2,22 38.2,21.6 40.2,21.7 42.2,21.3 44.2,21.9 46.2,21.3 48.2,21.6 50.2,21.8 52.2,22.5 54.2,22.3 54.2,21.6 56.2,21.5 58.2,22 60.2,22 62.2,22.7 62.9,22.8 64.2,23.2 66.2,23.5 66.2,23.8 68,25.6 68.2,26 69.1,27.6 69.9,30.4 70.2,32.1 70.5,33.3 71,37.9 71.4,43 71.7,48.7 72,56.4 72.2,62.5 72.3,66.3 72.6,79.7 72.6,85.3 72.7,88.8 72.7,90.6 72.8,95 72.8,96.9 72.8,98.1 72.8,101.9 72.9,105.6 72.9,109.5 73,113.5 73,117.1 73,119.9 73,121.1 73.1,124.4 73.1,125.4 73.2,125.6 73.2,124.2 73.2,121.3 73.3,120 73.3,117.5 73.3,113.4 73.4,109.6 73.4,105.6 73.4,101.2 73.5,98.3 73.5,97.4 73.5,93.7 73.6,91.9 73.6,88.1 73.6,84.7 73.7,79.9 74,65.7 74.2,59.3 74.3,56.3 74.6,48.6 74.9,42.7 75.3,38.1 75.8,33.8 76.2,31.6 76.4,30.3 77.1,28.2 78.2,25.9 78.3,25.4 80.1,24.5 80.2,24.1 82.2,23.2 83.4,23.4 84.2,22.4 86.2,22.5 88.2,23 90.2,22.5 92.1,22.7 92.2,22.6 94.2,22.4 96.2,22.7 98.2,22.1 100.2,22.7 102.2,22.1 104.2,22.5 106.2,22.3 108.2,22.8 110.2,22.8 112.2,23.1 114.2,22.5 116.2,22.4 118.2,22.1 120.2,22.4 122.2,22.8 124.2,23 126.2,22.8 128.2,23 130.2,22.5 132.2,22.7 134.2,23.3 136.2,23.3 138.2,22.6 140.2,23 142.2,23.2 144.2,22.7 146.2,23.3 148.2,23.2 150.2,23.3 152.2,23.8 154.2,22.9 156.2,23.6 158.2,23.4 160.2,23.4 162.2,22.9 164.2,23.2 166.2,23.2 168.2,23.8 170.2,23.3 172.2,23.8 174.2,23.2 176.2,23.2 178.2,23.3 180.2,22.6 182.2,23.2 184.2,23.2 186.2,23.4 188.2,23.5 190.2,23.2 192.2,23.2 194.2,24.1 196.2,23.3 198.2,23.6 200.2,23.5 201.6,23.8 202.2,24.4 204.2,24.5 206.2,23.6 208.2,24.4 210.2,25.3 210.3,24.7 212.2,25.6 213.6,26.8 214.2,27.4 215.4,28.4 216.2,29.2 216.5,30 217.3,32.8 217.9,36 218.2,38.5 218.4,40.9 218.8,45.3 219.1,51.6 219.4,59.2 219.7,68.5 219.9,80.6 220,86.1 220,89.2 220.1,91.6 220.1,93.8 220.2,97.3 220.2,98.2 220.2,100.7 220.2,104 220.3,107.4 220.3,111.3 220.4,113.6 220.4,115.9 220.4,117 220.4,118.8 220.5,119.7 220.5,119.3 220.6,118.3 220.6,116.5 220.6,115.3 220.6,113.8 220.7,110.4 220.7,107.9 220.8,104.6 220.8,100.5 220.8,98 220.8,97.1 220.9,94.4 220.9,91.6 221,88.7 221,85.4 221.1,81.5 221.3,68 221.6,58.1 221.9,51.3 222.2,46 222.2,45 222.6,39.7 223.1,36.6 223.7,32.9 224.2,31.2 224.5,30 225.6,28 226.2,27.2 227.4,26.6 228.2,26.1 230.2,25.7 230.7,25.6 232.2,25.2 234.2,25 236.2,25.3" stroke="#f0a828" stroke-width="1.4"/>
<polyline points="36.2,21.8 38.2,21.9 40.2,22.2 42.2,22 44.2,21.4 46.2,23 48.2,22.3 50.2,22.2 52.2,22.8 54.1,23.1 54.2,21.8 56.2,22.9 58.2,22.2 60.2,22.9 62.2,23.4 62.8,23.4 64.2,23.7 66.1,24.4 66.2,24.7 67.9,26.4 68.2,26.8 69,28.2 69.8,31.1 70.2,33.6 70.4,35 70.9,38.8 71.3,44.1 71.6,50.1 71.9,58 72.2,66.7 72.2,67.2 72.5,79.7 72.6,85.5 72.6,87.7 72.6,91.4 72.7,93.5 72.7,97 72.7,97.8 72.8,101.8 72.8,106.3 72.8,109.3 72.9,113.1 72.9,116.3 72.9,119.7 73,119.7 73,123 73,124.1 73.1,125.2 73.1,122.9 73.2,120.5 73.2,118.9 73.2,117 73.2,113.7 73.3,109.1 73.3,105.2 73.4,101.5 73.4,97.8 73.4,97 73.4,94.7 73.5,92 73.5,89 73.6,85.2 73.6,79.7 73.9,67.3 74.2,57.8 74.2,56.6 74.5,50.1 74.8,44 75.2,39.1 75.7,34.1 76.2,31.7 76.3,31.7 77.1,29.2 78.2,26.8 78.2,26.3 80,24.7 80.2,24.9 82.2,24 83.3,23.8 84.2,24 86.2,22.9 88.2,23.1 90.2,22.2 92,23.3 92.2,23.1 94.2,22.6 96.2,23 98.2,23.3 100.2,23.2 102.2,22.8 104.2,22.7 106.2,22.8 108.2,22.4 110.2,22.4 112.2,22.7 114.2,22.8 116.2,22.9 118.2,22.6 120.2,22.5 122.2,22.8 124.2,22.7 126.2,23 128.2,23.4 130.2,23.3 132.2,22.7 134.2,22.8 136.2,22.5 138.2,23.1 140.2,22.8 142.2,22.7 144.2,22.9 146.2,23.5 148.2,23.4 150.2,23.4 152.2,23.8 154.2,23.4 156.2,23.2 158.2,23.8 160.2,23 162.2,23.9 164.2,23.9 166.2,24 168.2,24.2 170.2,23.9 172.2,24 174.2,23.5 176.2,23.9 178.2,24 180.2,24.3 182.2,24.7 184.2,24.3 186.2,24.6 188.2,24 190.2,24.4 192.2,23.8 194.2,24.2 196.2,24.2 198.2,24.4 200.2,24.5 201.2,24.4 202.2,24.3 204.2,25 206.2,24.7 208.2,24.2 209.9,25.4 210.2,25.5 212.2,26.2 213.2,27 214.2,26.8 215,28.1 216.1,30.2 216.2,29.8 216.9,32.2 217.5,36.7 218,40.1 218.2,42.5 218.4,45.3 218.7,51.4 219,59.2 219.3,68.2 219.6,81 219.7,86.5 219.7,89 219.7,92 219.8,95.2 219.8,98.1 219.8,98.1 219.9,101.9 219.9,105.7 219.9,109.6 220,113 220,116.7 220,118.3 220.1,119.2 220.1,122.3 220.1,122.8 220.2,122.6 220.2,122.1 220.2,122 220.3,119 220.3,118.5 220.3,116.9 220.3,113.4 220.4,109.4 220.4,105.5 220.5,101.8 220.5,98.7 220.5,98.6 220.5,95.8 220.6,92.8 220.6,89.6 220.7,87.4 220.7,81.2 221,68.5 221.3,59.2 221.6,51.4 221.9,45.8 222.2,42.1 222.3,40.7 222.8,36 223.4,32.7 224.2,30.5 224.2,29.8 225.3,28.3 226.2,26.6 227.1,26.4 228.2,26.1 230.2,25.1 230.4,25.6 232.2,25.4 234.2,25.4 236.2,24.7" stroke="#f4c038" stroke-width="1.4"/>
<polyline points="36.2,20.9 38.2,21.4 40.2,22.2 42.2,21.8 44.2,21.5 46.2,21.8 48.2,21.3 50.2,22.4 52.2,21.8 52.6,22.3 54.2,21.7 56.2,22.3 58.2,22.1 60.2,22.9 61.3,23.4 62.2,23.5 64.2,24.1 64.6,24.5 66.2,25.1 66.4,25.3 67.5,27.8 68.2,30.4 68.3,30.7 68.9,34.2 69.4,37.6 69.8,42.9 70.1,48.9 70.2,50.5 70.4,57.3 70.7,66.2 71,78.6 71.1,83.3 71.1,86.1 71.1,89.2 71.2,91.9 71.2,93.7 71.2,95.2 71.3,98.3 71.3,101.3 71.3,104.7 71.4,107.8 71.4,110.4 71.4,111.7 71.5,113.8 71.5,115 71.5,116 71.6,116.1 71.6,115.1 71.7,113.3 71.7,111.9 71.7,110.8 71.7,107.8 71.8,104.6 71.8,101.3 71.9,98.1 71.9,94.6 71.9,94.3 71.9,91.8 72,89 72,86.5 72.1,83.8 72.1,78.6 72.2,74.8 72.4,66.3 72.7,57 73,49 73.3,42.9 73.7,38.7 74.2,33.4 74.2,33.8 74.8,30.7 75.6,27.6 76.2,26.5 76.7,26 78.2,23.6 78.5,24.5 80.2,23.4 81.8,22.7 82.2,23.2 84.2,22.6 86.2,22.3 88.2,21.5 90.2,22.5 90.5,22.2 92.2,21.9 94.2,22.1 96.2,22.5 98.2,21.9 100.2,22 102.2,21.8 104.2,21.6 106.2,21.6 108.2,21.9 110.2,21.9 112.2,22.4 114.2,22.1 116.2,22 118.2,22.2 120.2,22.1 122.2,22.5 124.2,21.7 126.2,21.5 128.2,22.5 130.2,22.2 132.2,22.5 134.2,22.1 136.2,22.4 138.2,22.6 140.2,22.8 142.2,22.7 144.2,23.2 146.2,22.6 148.2,23.2 150.2,22.8 152.2,23 154.2,22.7 156.2,23.2 158.2,22.9 160.2,23.6 162.2,23.1 164.2,23.4 166.2,23.3 168.2,23.4 170.2,23.1 172.2,24.2 174.2,23.4 176.2,24.1 178.2,23.2 180.2,24.3 182.2,24 184.2,24.2 186.2,23.1 188.2,24.1 190.2,23.6 192.2,23.9 194.2,24.3 196.2,23.8 198.2,23.5 199.9,23.9 200.2,23.5 202.2,24 204.2,24 206.2,24.3 208.2,24.3 208.6,23.8 210.2,24.8 212,25.6 212.2,26 213.8,27.6 214.2,27.5 214.9,29.9 215.7,32.5 216.2,35.1 216.3,35.7 216.8,39 217.1,45.4 217.5,50.6 217.8,58 218.1,68.1 218.2,74.3 218.3,79.8 218.4,84.8 218.4,88.4 218.5,91.4 218.5,93.5 218.5,95.8 218.6,97.1 218.6,101 218.6,103 218.7,107 218.7,109.8 218.8,113.3 218.8,115 218.8,116 218.8,117.3 218.9,118.4 218.9,119.6 219,118.1 219,115.2 219,115 219,113.6 219.1,110 219.1,106.8 219.2,103.4 219.2,100.2 219.2,96.9 219.2,96.5 219.3,93.6 219.3,91 219.4,88 219.4,85.3 219.5,79.5 219.7,67.6 220,58.3 220.2,53 220.3,50.6 220.6,44.3 221,39.5 221.5,35 222.1,31.8 222.2,31.9 222.9,29.7 224,27.1 224.2,27 225.8,25.8 226.2,26.1 228.2,25.5 229.1,24.5 230.2,24.2 232.2,24 234.2,24.6 236.2,23.8" stroke="#f0b030" stroke-width="1.4"/>
<polyline points="36.2,21.6 38.2,20.8 40.2,21 42.2,20.7 44.2,21 46.2,21.3 48.2,21 50.2,21.3 52.2,21 54.1,21.2 54.2,21.6 56.2,21.4 58.2,21.5 60.2,21.8 62.2,21.6 62.8,21.5 64.2,22.5 66.1,23.4 66.2,24.1 67.9,25 68.2,25.5 69.1,27.9 69.9,29.8 70.2,31.4 70.5,33.5 70.9,37.5 71.3,42.7 71.7,48.3 72,56.8 72.2,64.8 72.2,65.4 72.5,79 72.6,84.8 72.6,88 72.7,91.5 72.7,94.6 72.7,97.3 72.7,98.6 72.8,102 72.8,105.9 72.9,110.4 72.9,116 72.9,120.3 73,123.1 73,123.8 73,127.4 73.1,129.2 73.1,129.8 73.1,128 73.2,124.1 73.2,122.7 73.2,120.2 73.3,115.3 73.3,110.5 73.3,106.3 73.4,102.5 73.4,98.9 73.4,97.5 73.5,94.5 73.5,91.2 73.5,88.1 73.6,85.2 73.7,78.8 73.9,66.1 74.2,56.3 74.2,56.1 74.5,48.8 74.8,42.4 75.2,37.7 75.7,33.7 76.2,30.4 76.3,29.5 77.1,27.1 78.2,24.5 78.2,25 80,23.4 80.2,23.7 82.2,22.6 83.3,21.7 84.2,21.9 86.2,21.6 88.2,21.4 90.2,21.6 92,21.6 92.2,21.5 94.2,21.3 96.2,21.4 98.2,21.4 100.2,21.5 102.2,21.9 104.2,21.7 106.2,22 108.2,21.3 110.2,22.5 112.2,21.8 114.2,21 116.2,22 118.2,22.3 120.2,22 122.2,21.6 124.2,22.1 126.2,21.9 128.2,22.1 130.2,22.3 132.2,21.1 134.2,22.2 136.2,22.5 138.2,22.5 140.2,22.2 142.2,22.3 144.2,22.2 146.2,22.4 148.2,23 150.2,22.3 152.2,22.6 154.2,22.7 156.2,23.1 158.2,22.8 160.2,22.9 162.2,22.6 164.2,23.1 166.2,22.6 168.2,22.6 170.2,23 172.2,22.9 174.2,23 176.2,22.4 178.2,23.6 180.2,22.8 182.2,23.3 184.2,22.9 186.2,22.5 188.2,23 190.2,22.8 192.2,23.1 194.2,22.2 196.2,22.6 198.2,22.6 200.2,23.5 201.7,23.5 202.2,22.8 204.2,23.3 206.2,23.5 208.2,23.5 210.2,24.4 210.4,23.7 212.2,24.5 213.8,25.1 214.2,25.8 215.5,26.8 216.2,28.3 216.7,28.8 217.5,31.5 218.1,34.9 218.2,36.1 218.5,39.2 218.9,45.3 219.3,50.2 219.6,58.3 219.8,67.7 220.1,80.7 220.2,86.6 220.2,87.2 220.2,88.7 220.3,91.4 220.3,95.4 220.3,98.2 220.3,98.1 220.4,102.5 220.4,105.2 220.5,109.8 220.5,114 220.5,117.2 220.6,119.2 220.6,121.4 220.6,122.9 220.7,125 220.7,124.4 220.7,123.6 220.8,121.5 220.8,119.5 220.8,117.3 220.9,113.1 220.9,109.3 220.9,105.8 221,102.3 221,98.8 221,98 221.1,95.5 221.1,92.1 221.1,89.9 221.2,86.1 221.3,80.5 221.5,67 221.8,57.9 222.1,50.8 222.2,48.3 222.4,44.9 222.8,39.7 223.3,36 223.9,31.5 224.2,30.6 224.7,29.7 225.8,27.2 226.2,26.4 227.6,25.4 228.2,25.1 230.2,24.9 230.9,24.7 232.2,24.3 234.2,23.8 236.2,24.3" stroke="#f8d040" stroke-width="1.4"/>
<polyline points="36.2,21.8 38.2,21.8 40.2,22.4 42.2,22.4 44.2,22 46.2,21.7 48.2,21.8 50.2,21.5 52.2,22.3 54,22.4 54.2,22.1 56.2,22.5 58.2,22.7 60.2,23.2 62.2,22.7 62.7,23.5 64.2,23.3 66,24.8 66.2,24 67.8,26.3 68.2,26.3 68.9,28.7 69.7,31 70.2,33.1 70.3,34.5 70.8,38.3 71.2,43.5 71.5,50.3 71.8,57.1 72.1,66.8 72.2,72.7 72.3,79.7 72.4,86 72.5,89 72.5,91.8 72.5,95.5 72.6,97.3 72.6,99.4 72.6,102.4 72.7,106.5 72.7,111.8 72.7,116.2 72.8,119.8 72.8,122.6 72.8,123.8 72.9,126.7 72.9,129 72.9,129.3 73,128 73,123.8 73,122.9 73.1,119.8 73.1,115.4 73.1,111.5 73.2,106.2 73.2,102.3 73.3,98.5 73.3,98.4 73.3,95.3 73.3,92 73.4,88.8 73.4,86.1 73.5,79.8 73.8,66.8 74,57.1 74.2,52.8 74.3,49.1 74.7,43.3 75.1,39.3 75.5,34.4 76.1,30.8 76.2,30.2 76.9,28.1 78.1,25.9 78.2,25.9 79.8,24 80.2,24.1 82.2,23.4 83.2,23.2 84.2,22.6 86.2,22.7 88.2,23 90.2,22.1 91.9,22.5 92.2,22.1 94.2,22.1 96.2,21.8 98.2,21.8 100.2,22.4 102.2,22.3 104.2,22.7 106.2,21.7 108.2,22.1 110.2,21.8 112.2,22.5 114.2,23.1 116.2,22 118.2,22.5 120.2,22.6 122.2,22.7 124.2,22.5 126.2,22.6 128.2,23.5 130.2,22.6 132.2,23.2 134.2,23.3 136.2,22.6 138.2,22.9 140.2,23.4 142.2,24 144.2,23.4 146.2,23.3 148.2,23.6 150.2,24 152.2,23.9 154.2,24.1 156.2,23.6 158.2,23.4 160.2,23.4 162.2,24 164.2,23.7 166.2,23.6 168.2,23.9 170.2,23.8 172.2,23 174.2,23.7 176.2,23.4 178.2,23.9 180.2,23.7 182.2,24.3 184.2,23.7 186.2,23.3 188.2,23 190.2,23.3 192.2,23.5 194.2,23.7 196.2,23.9 198.2,23.8 200.2,23.6 201,24.1 202.2,23.6 204.2,24.3 206.2,24.8 208.2,24.7 209.7,25.2 210.2,25.2 212.2,25 213,25.9 214.2,26.7 214.8,27.1 215.9,29.3 216.2,30.7 216.7,32 217.3,35.8 217.8,40 218.2,44.9 218.5,51.8 218.8,59.2 219.1,68.8 219.4,81.7 219.4,87.9 219.5,90.9 219.5,93.7 219.6,97 219.6,100.2 219.6,100.8 219.6,105.4 219.7,109.6 219.7,114 219.8,118.9 219.8,123.7 219.8,125.6 219.8,128 219.9,131.8 219.9,133.3 220,132.8 220,131.3 220,127.4 220.1,126.5 220.1,123.6 220.1,118.9 220.2,114 220.2,109.7 220.2,109.8 220.2,104.6 220.3,101.5 220.3,100.5 220.3,97.1 220.4,93.8 220.4,90.7 220.4,88.3 220.5,81.8 220.8,69.2 221.1,58.2 221.4,51.4 221.7,45.1 222.1,40.5 222.2,39.2 222.6,36.5 223.2,32.3 224,30 224.2,29.1 225.1,28 226.2,26.8 226.9,25.7 228.2,25.9 230.2,25.7 230.2,25 232.2,25.3 234.2,24.9 236.2,24.4" stroke="#e86a14" stroke-width="1.4"/>
<polyline points="36.2,21.7 38.2,21.5 40.2,21.2 42.2,22.2 44.2,21.5 46.2,22.3 48.2,22.3 50.2,22.7 50.4,21.4 52.2,22.2 54.2,22.3 56.2,22.8 58.2,22.5 59.1,23.8 60.2,23.4 62.2,23.5 62.4,24.5 64.2,26 64.2,25.8 65.3,28.5 66.1,31 66.2,31.2 66.7,34.3 67.2,38.4 67.5,43.7 67.9,49.7 68.2,57.5 68.2,57.4 68.5,67.1 68.7,80.7 68.8,87.4 68.8,89.4 68.9,92.7 68.9,96.8 69,100.2 69,100.7 69,104.2 69,109.3 69.1,113.9 69.1,118.7 69.2,123.4 69.2,126.8 69.2,128.7 69.2,132.9 69.3,134.4 69.3,134.6 69.4,132.6 69.4,129 69.4,127.2 69.4,123.5 69.5,118.8 69.5,113.2 69.6,108.6 69.6,104.2 69.6,100 69.6,99.4 69.7,96.7 69.7,92.9 69.8,88.7 69.8,86.9 69.9,80.8 70.1,67.1 70.2,64.9 70.4,57.8 70.7,50.2 71,43.4 71.4,38.2 71.9,33.9 72.2,32.6 72.5,30.7 73.3,28.7 74.2,26.4 74.4,26.4 76.2,24.4 76.2,24.2 78.2,23.3 79.5,23.6 80.2,22.7 82.2,23.1 84.2,23.1 86.2,22.7 88.2,23 88.2,22.5 90.2,22.4 92.2,22.5 94.2,22.2 96.2,22.5 98.2,22.3 100.2,22.8 102.2,22.3 104.2,22.5 106.2,22.4 108.2,22.3 110.2,22.2 112.2,22.8 114.2,22.8 116.2,22.3 118.2,22.1 120.2,22.1 122.2,22 124.2,21.9 126.2,22.2 128.2,22.4 130.2,22.8 132.2,22.8 134.2,22.7 136.2,22.5 138.2,22.6 140.2,22.7 142.2,22.8 144.2,22.6 146.2,22.8 148.2,22.8 150.2,22.9 152.2,23.3 154.2,23.5 156.2,23 158.2,23.1 160.2,23.4 162.2,23.6 164.2,22.7 166.2,23.8 168.2,23.7 170.2,23.5 172.2,24.1 174.2,23.7 176.2,23.2 178.2,23.5 180.2,23.6 182.2,23.7 184.2,23.9 186.2,23.6 188.2,24 190.2,24.1 192.2,24 194.2,23.8 196.2,24 197.6,23.9 198.2,24.9 200.2,23.8 202.2,23.5 204.2,24.1 206.2,24.9 206.3,25.1 208.2,25.2 209.7,26.4 210.2,26.1 211.5,27.9 212.2,28.6 212.6,29.4 213.4,33.3 214,35.9 214.2,37.9 214.4,40.6 214.8,45.3 215.2,51.4 215.5,58.6 215.8,69.3 216,81.5 216.1,87 216.1,90.5 216.2,93.8 216.2,96.2 216.2,97.8 216.2,100.1 216.3,101 216.3,104.8 216.3,108.4 216.4,113.5 216.4,118.3 216.5,122.6 216.5,126.2 216.5,127.8 216.5,131 216.6,133 216.6,132.5 216.7,130.9 216.7,126.7 216.7,125.3 216.7,122.7 216.8,118.5 216.8,113.5 216.9,108.9 216.9,105.3 216.9,100.9 216.9,100 217,97.2 217,93.3 217.1,90.2 217.1,88 217.2,81.9 217.4,69 217.7,58.8 218,51.6 218.2,47.1 218.3,45 218.7,39.7 219.2,36 219.8,33.1 220.2,30.4 220.6,29.9 221.7,27.2 222.2,26.9 223.5,25.7 224.2,25 226.2,24.8 226.8,24.3 228.2,25.1 230.2,24.1 232.2,24.3 234.2,24.2 235.5,24.1 236.2,24" stroke="#f08020" stroke-width="1.4"/>
<polyline points="36.2,21.4 38.2,21.1 40.2,21 42.2,21.6 44.2,21.5 46.2,22 48.2,21.5 49.1,21.3 50.2,21.9 52.2,21.4 54.2,22.6 56.2,22.8 57.8,22.9 58.2,22.6 60.2,23.1 61.2,23.6 62.2,24.4 63,25 64.1,27.6 64.2,28.2 64.9,30.6 65.5,32.8 66,38.5 66.2,40.6 66.3,42.2 66.7,48.7 67,56.8 67.3,66.3 67.5,79 67.6,84.7 67.6,88.4 67.7,91 67.7,94.5 67.7,97.1 67.8,97.8 67.8,102.2 67.8,106.7 67.9,110.4 67.9,114.4 68,119.2 68,121.9 68,122.7 68,127.1 68.1,128.2 68.1,128.7 68.2,126.6 68.2,123.4 68.2,122.5 68.2,122.4 68.2,119.6 68.3,115.5 68.3,110.3 68.4,106.3 68.4,101.9 68.4,98.5 68.4,97.5 68.5,94.2 68.5,91.2 68.6,87.8 68.6,84.8 68.7,79.4 68.9,66.8 69.2,56.2 69.5,48.8 69.8,42.3 70.2,38.8 70.2,38.2 70.7,34.3 71.3,30.4 72.1,27 72.2,27 73.2,25.2 74.2,24.1 75,23.3 76.2,23.1 78.2,22.3 78.3,22.3 80.2,22.9 82.2,22 84.2,21.3 86.2,21.9 87,21.7 88.2,21.9 90.2,21.8 92.2,21.2 94.2,21.7 96.2,22 98.2,22.7 100.2,21.9 102.2,22.4 104.2,22.4 106.2,21.5 108.2,21.6 110.2,22.5 112.2,21.6 114.2,21.8 116.2,22.3 118.2,21.8 120.2,22.7 122.2,22.6 124.2,22.7 126.2,22.7 128.2,22 130.2,22.8 132.2,22.8 134.2,22.8 136.2,22.5 138.2,22.7 140.2,22.3 142.2,22.9 144.2,23.2 146.2,22.9 148.2,22.8 150.2,23.2 152.2,22.8 154.2,22.3 156.2,23.1 158.2,22.9 160.2,22.5 162.2,23.2 164.2,23.3 166.2,23.4 168.2,22.9 170.2,22.8 172.2,23.1 174.2,23 176.2,22.6 178.2,22.7 180.2,23.5 182.2,23 184.2,23 186.2,22.8 188.2,23.2 190.2,23.3 192.2,23.3 194.2,23.8 196.2,23.3 196.4,23.5 198.2,23.2 200.2,23.8 202.2,23.8 204.2,24.3 205.1,24.5 206.2,24.1 208.2,25.3 208.5,25.2 210.2,27.3 210.2,27 211.4,29.8 212.2,32.1 212.2,32.3 212.8,35.1 213.2,39.4 213.6,44.6 214,50.4 214.2,56.2 214.3,58.2 214.5,67.8 214.8,80.9 214.9,86.8 214.9,89.5 215,92.9 215,95.9 215,98.5 215,99.3 215.1,103.5 215.1,107.9 215.2,111.6 215.2,116 215.2,119.7 215.3,122.8 215.3,124 215.3,126.7 215.4,128.8 215.4,128.7 215.4,126.4 215.5,123.5 215.5,122.3 215.5,120.1 215.6,116.3 215.6,111.5 215.6,107.4 215.7,103.4 215.7,99.8 215.7,98.9 215.8,96.2 215.8,92.7 215.8,89.2 215.9,86.6 216,81.5 216.2,69.3 216.2,68.6 216.5,58.6 216.8,50.5 217.1,44.4 217.5,39.8 218,35.3 218.2,34.4 218.6,32.6 219.4,29.8 220.2,28 220.5,26.7 222.2,26.1 222.3,25.2 224.2,24.4 225.6,24.6 226.2,24.4 228.2,24.4 230.2,24.1 232.2,23.8 234.2,24 234.3,23.7 236.2,23.6" stroke="#e05a10" stroke-width="1.4"/>
<polyline points="36.2,21.2 38.2,20.2 40.2,21.4 42.2,21.4 44.2,21.1 46.2,21.9 48.2,21.6 50.2,22 50.4,21.8 52.2,21.6 54.2,21.6 56.2,21.6 58.2,22 59.1,22 60.2,22.5 62.2,23.7 62.4,23.3 64.2,25.6 64.2,25.6 65.3,27.1 66.1,30.1 66.2,30.7 66.7,33.5 67.2,37.6 67.6,43.5 67.9,49.2 68.2,56.9 68.2,56.8 68.5,67 68.7,79.5 68.8,85.8 68.9,89.3 68.9,92.3 68.9,96.3 69,98.9 69,99.5 69,103.7 69.1,108.9 69.1,113.1 69.1,117.8 69.2,123 69.2,125.6 69.2,128.3 69.3,131.6 69.3,134.3 69.3,134 69.4,131.6 69.4,127.6 69.4,126.4 69.5,122.9 69.5,118.3 69.5,113.4 69.6,108 69.6,103.7 69.7,100.2 69.7,99.1 69.7,95.8 69.7,91.7 69.8,88.6 69.8,85.7 69.9,80.7 70.2,66.8 70.2,65.2 70.4,56.8 70.7,49.1 71.1,43.1 71.5,37.4 71.9,33.4 72.2,32.3 72.5,30.9 73.3,27.1 74.2,26.2 74.5,25.2 76.2,23.4 76.2,24.3 78.2,23.1 79.6,23 80.2,22.6 82.2,22.4 84.2,21.8 86.2,22.1 88.2,22.3 88.3,21.9 90.2,22.4 92.2,22.4 94.2,21.5 96.2,22.5 98.2,22.4 100.2,22.2 102.2,22.6 104.2,22.9 106.2,21.8 108.2,22.5 110.2,22.4 112.2,22.3 114.2,22.5 116.2,22.6 118.2,22.1 120.2,21.4 122.2,22 124.2,22 126.2,22.7 128.2,22.2 130.2,22.6 132.2,22 134.2,22.3 136.2,22.3 138.2,22.3 140.2,22.5 142.2,22.9 144.2,22.2 146.2,22.9 148.2,22.9 150.2,22.6 152.2,22.8 154.2,22.5 156.2,22.3 158.2,22.6 160.2,22.6 162.2,22.7 164.2,22.5 166.2,23.5 168.2,22.8 170.2,23.3 172.2,23.5 174.2,23.1 176.2,23.3 178.2,23 180.2,22.9 182.2,24.1 184.2,23.4 186.2,22.8 188.2,23.2 190.2,23.1 192.2,23.6 194.2,24.2 196.2,24.2 197.5,23.6 198.2,23.5 200.2,24.2 202.2,24.2 204.2,24.3 206.2,25.3 206.2,24.8 208.2,24.7 209.5,25.1 210.2,26.4 211.3,26.9 212.2,29.3 212.4,30 213.2,33.3 213.8,35.5 214.2,39 214.3,39.2 214.7,44.9 215,51.2 215.3,59.6 215.6,68.3 215.9,82 216,87.7 216,91.4 216,93.5 216.1,96.9 216.1,100.6 216.1,101 216.2,104.8 216.2,108.9 216.2,109.9 216.2,113.2 216.3,118.5 216.3,123.4 216.3,126.2 216.4,128.4 216.4,131.4 216.4,132.8 216.5,133.1 216.5,131.5 216.6,127.6 216.6,126.8 216.6,123.5 216.6,118.5 216.7,113.7 216.7,109.7 216.8,104.9 216.8,100.5 216.8,100.6 216.8,97.2 216.9,94.5 216.9,91.5 217,87.6 217,81.8 217.3,68.7 217.6,59.1 217.9,51.3 218.2,44.8 218.2,44.5 218.6,40.1 219.1,36.5 219.7,32.1 220.2,30.3 220.5,29.6 221.6,27.6 222.2,26.1 223.4,25.9 224.2,25.4 226.2,25.5 226.7,25 228.2,24.8 230.2,24.3 232.2,24.1 234.2,24.4 235.4,23.5 236.2,24.4" stroke="#ec7818" stroke-width="1.4"/>
<polyline points="36.2,22.1 38.2,22.1 40.2,22.5 42.2,22.8 44.2,22.5 46.2,22.4 48.2,22.5 50.2,22.2 50.8,23.3 52.2,22.9 54.2,23.3 56.2,22.3 58.2,23.2 59.5,23.4 60.2,23.8 62.2,23.8 62.8,24.5 64.2,25.5 64.6,26.8 65.7,27.8 66.2,29.6 66.5,30.8 67.1,33.9 67.6,38.5 68,43.6 68.2,47.2 68.3,49.5 68.6,57.4 68.9,67.1 69.1,80.3 69.2,85.7 69.3,88.6 69.3,92.1 69.3,94.8 69.4,98.9 69.4,99.2 69.4,102.4 69.5,107.3 69.5,112 69.5,115.4 69.6,120.2 69.6,123.3 69.6,124.2 69.7,128 69.7,129.9 69.7,129.5 69.8,127.8 69.8,124.7 69.8,123.1 69.9,120.6 69.9,115.8 69.9,111.4 70,106.8 70,103.1 70.1,99.5 70.1,98.7 70.1,95.5 70.1,91.5 70.2,88.5 70.2,87.6 70.2,85.6 70.3,80.6 70.6,66.7 70.8,57.5 71.1,49.4 71.5,43.3 71.9,38.6 72.2,35.3 72.3,34.7 72.9,31 73.7,27.9 74.2,25.7 74.9,25.8 76.2,24.7 76.6,24.8 78.2,23.3 80,23.8 80.2,23.5 82.2,22.8 84.2,23.2 86.2,22.1 88.2,22.2 88.7,22.8 90.2,22.8 92.2,23 94.2,23 96.2,22.4 98.2,22.4 100.2,22.5 102.2,22.5 104.2,22.9 106.2,22.6 108.2,23.3 110.2,22.8 112.2,22.3 114.2,22.4 116.2,23.1 118.2,23.1 120.2,22.6 122.2,22.5 124.2,23.7 126.2,23.4 128.2,23.2 130.2,22.9 132.2,23.6 134.2,23.2 136.2,23.6 138.2,22.7 140.2,23.4 142.2,23.6 144.2,23.7 146.2,23.3 148.2,23.4 150.2,24.1 152.2,23.6 154.2,24.2 156.2,24 158.2,24.2 160.2,24.2 162.2,24 164.2,24.1 166.2,23.6 168.2,23.5 170.2,23.9 172.2,24.2 174.2,23.5 176.2,24.5 178.2,24.5 180.2,23.6 182.2,23.6 184.2,23.5 186.2,24 188.2,24.4 190.2,24.1 192.2,23.8 194.2,24.3 196.2,24.3 198,24.6 198.2,24.6 200.2,24 202.2,24.2 204.2,25 206.2,25.3 206.7,25.2 208.2,25.2 210.1,26.7 210.2,26.4 211.9,28.7 212.2,28.9 213,30 213.8,32.6 214.2,35.6 214.4,36.6 214.8,40.2 215.2,45.6 215.6,51.9 215.9,59.2 216.1,69.1 216.2,71.1 216.4,82.1 216.5,88.4 216.5,91.3 216.6,94.5 216.6,98.4 216.6,101.2 216.6,101.3 216.7,106.2 216.7,109.6 216.8,114.5 216.8,119.4 216.8,123.9 216.9,126.9 216.9,128.2 216.9,132.4 217,134.4 217,134.4 217,131.6 217.1,128.4 217.1,127.3 217.1,124.3 217.2,119.7 217.2,114.7 217.2,110 217.3,105 217.3,102.4 217.3,100.6 217.4,97.9 217.4,94.8 217.4,91.4 217.5,88.5 217.6,82.3 217.8,68.9 218.1,60 218.2,56.1 218.4,51.9 218.7,45.1 219.1,40.4 219.6,36 220.2,32.9 220.2,32.7 221,30.3 222.1,28.5 222.2,27.9 223.9,26.3 224.2,25.7 226.2,26.4 227.2,25.5 228.2,25 230.2,25.6 232.2,25.1 234.2,24.3 235.9,24.5 236.2,25.3" stroke="#f49028" stroke-width="1.4"/>
<polyline points="36.2,20.6 38.2,20.5 40.2,20.1 42.2,20.3 44.2,19.8 46.2,20.6 48.2,21.3 50.2,20.7 52.2,20.5 53.8,20.6 54.2,20.7 56.2,21.1 58.2,20.5 60.2,21.5 62.2,21.3 62.5,21.7 64.2,22.5 65.8,22.4 66.2,24 67.6,24.9 68.2,25.5 68.7,27 69.5,29.3 70.1,33 70.2,33.7 70.6,36.4 71,42.3 71.3,48.5 71.6,56.5 71.9,66.3 72.2,79 72.2,81.9 72.2,85.3 72.3,88.6 72.3,91.4 72.4,95.7 72.4,98.3 72.4,99.1 72.4,103.4 72.5,107.5 72.5,112.5 72.6,117.6 72.6,121.8 72.6,125.1 72.6,126.8 72.7,131.1 72.7,133.1 72.8,133.1 72.8,130.6 72.8,126.2 72.9,125.5 72.9,122.1 72.9,117.1 73,113.3 73,107.9 73,102.9 73.1,98.6 73.1,98.4 73.1,94.6 73.2,91 73.2,88.3 73.2,84.7 73.3,78.7 73.6,66 73.9,56.6 74.2,48 74.2,47.6 74.5,42.4 74.9,37.2 75.4,33.3 76,29.4 76.2,28.5 76.8,26.7 77.9,24.7 78.2,24.8 79.7,23.4 80.2,22.7 82.2,22.5 83,21.2 84.2,22.2 86.2,22.1 88.2,21.4 90.2,21.5 91.7,21.8 92.2,21.9 94.2,21.6 96.2,21.5 98.2,21.5 100.2,21.9 102.2,21.7 104.2,21.6 106.2,21.6 108.2,23 110.2,22.2 112.2,22.2 114.2,22 116.2,21.9 118.2,21.6 120.2,21.7 122.2,22 124.2,21.9 126.2,21.3 128.2,22.1 130.2,21.8 132.2,21.4 134.2,21.8 136.2,22.6 138.2,21.8 140.2,22 142.2,21.9 144.2,21.5 146.2,21.7 148.2,21.9 150.2,21.6 152.2,21.7 154.2,21.8 156.2,21.8 158.2,21.8 160.2,22 162.2,22.1 164.2,22 166.2,22.3 168.2,22.5 170.2,21.6 172.2,22.2 174.2,22.2 176.2,22.3 178.2,22.3 180.2,22.4 182.2,22.4 184.2,22.8 186.2,22.3 188.2,22.9 190.2,22.4 192.2,23.5 194.2,23.3 196.2,22.7 198.2,23.2 200.2,23.4 200.9,23.1 202.2,23.7 204.2,23.5 206.2,24.5 208.2,24.1 209.6,24.5 210.2,24.2 212.2,24.8 213,25.8 214.2,26 214.7,27.4 215.9,30.1 216.2,31.2 216.7,31.6 217.3,35.6 217.7,39.9 218.1,45 218.2,46.3 218.5,50.5 218.8,58.6 219,67.8 219.3,81.6 219.4,88.2 219.4,90.1 219.5,93.8 219.5,97.2 219.5,99.5 219.5,100.9 219.6,104.4 219.6,109 219.7,113.8 219.7,118.1 219.7,123.1 219.8,125.2 219.8,126.9 219.8,130.7 219.9,132.5 219.9,132.4 219.9,130.7 220,126.8 220,125.7 220,122.5 220.1,118.4 220.1,113.4 220.1,108.7 220.2,104.9 220.2,102.2 220.2,100.9 220.2,99.8 220.3,97.2 220.3,93.4 220.3,89.8 220.4,87.2 220.5,82.1 220.7,68.4 221,58.3 221.3,51 221.6,44.4 222,39.5 222.2,37.8 222.5,35.7 223.1,32.4 223.9,29.6 224.2,28.7 225,27.2 226.2,26 226.8,25.8 228.2,25 230.1,24.4 230.2,25.1 232.2,24.5 234.2,24.3 236.2,24" stroke="#e86a14" stroke-width="1.4"/>
<polyline points="36.2,21.8 38.2,20.9 40.2,21.7 42.2,21.7 44.2,21.7 46.2,21.8 48.2,21.9 49.2,21.4 50.2,21.9 52.2,21.8 54.2,21.9 56.2,22.9 57.9,22.2 58.2,22.7 60.2,23.2 61.2,24.4 62.2,24.6 63,25.7 64.1,28.2 64.2,27.4 64.9,30.6 65.5,34.3 66,38.3 66.2,40.5 66.4,43 66.7,49.4 67,56.9 67.3,66.8 67.5,81 67.6,86.8 67.7,90 67.7,93 67.8,96.1 67.8,99.5 67.8,100.9 67.8,104.8 67.9,108.9 67.9,114.4 68,119.4 68,124.7 68,128.5 68,129.6 68.1,134.1 68.1,136.5 68.1,137 68.2,134.3 68.2,133.3 68.2,129.7 68.2,128 68.3,124.5 68.3,118.6 68.4,113.6 68.4,109.4 68.4,104.8 68.5,99.8 68.5,99.9 68.5,96 68.5,92.4 68.6,89.8 68.6,86.6 68.7,80.6 69,67.6 69.2,57.7 69.5,49.8 69.9,43.2 70.2,39.4 70.3,38.5 70.7,34.4 71.3,31.4 72.1,27.7 72.2,28.8 73.3,26.3 74.2,24.8 75.1,24.9 76.2,23.6 78.2,22.9 78.4,23.6 80.2,22.9 82.2,23.2 84.2,22.6 86.2,22.7 87.1,22.6 88.2,22.2 90.2,22.5 92.2,22.2 94.2,22.4 96.2,23 98.2,22.5 100.2,22.5 102.2,23.1 104.2,22.2 106.2,22.6 108.2,22.5 110.2,23 112.2,22.6 114.2,22.6 116.2,22.8 118.2,22.6 120.2,23.4 122.2,22.2 124.2,23.1 126.2,23.5 128.2,23.1 130.2,23 132.2,22.6 134.2,23.1 136.2,22.7 138.2,23.1 140.2,22.1 142.2,22.7 144.2,22.2 146.2,23.3 148.2,22.7 150.2,23.3 152.2,22.8 154.2,22.8 156.2,23.7 158.2,23.5 160.2,23.6 162.2,23.7 164.2,23.5 166.2,23.7 168.2,23.9 170.2,23.4 172.2,23.3 174.2,24 176.2,23.8 178.2,23.6 180.2,23.8 182.2,24 184.2,23.5 186.2,23.6 188.2,23.7 190.2,24 192.2,23.3 194.2,23.5 196.2,24.3 196.7,24.3 198.2,23.9 200.2,24.7 202.2,24.5 204.2,24.8 205.4,25.3 206.2,25.3 208.2,26.5 208.7,26.5 210.2,28.3 210.5,27.2 211.6,29.6 212.2,31.5 212.4,32.8 213,36 213.5,40 213.9,45.1 214.2,50.4 214.2,52 214.5,59.3 214.8,69.5 215.1,82.8 215.2,88.8 215.2,91.3 215.2,94.3 215.3,98.7 215.3,100.6 215.3,101.5 215.4,106.2 215.4,110.6 215.4,115.1 215.5,119.6 215.5,125 215.5,128.1 215.6,129.4 215.6,133.9 215.6,135.3 215.7,134.9 215.7,133 215.8,129 215.8,127.6 215.8,124.4 215.8,119.7 215.9,115.2 215.9,110.3 216,105.9 216,101.4 216,100.7 216,97.9 216.1,94.8 216.1,91.5 216.2,88.3 216.2,84.7 216.2,82.3 216.5,69.3 216.8,59.7 217.1,51.4 217.4,45.4 217.8,40.5 218.2,36.9 218.3,35.8 218.9,33 219.7,29.7 220.2,28.6 220.8,28 222.2,26.4 222.6,26.5 224.2,26 225.9,25.3 226.2,25.5 228.2,24.7 230.2,24.7 232.2,24.4 234.2,24.3 234.6,25.6 236.2,24.4" stroke="#f08020" stroke-width="1.4"/>
<polyline points="36.2,21.6 38.2,22.3 40.2,21.5 42.2,21.8 44.2,22.1 46.2,22.3 48.2,21 50.2,22.4 52.2,22.9 53.7,22.7 54.2,22.6 56.2,22.7 58.2,22.8 60.2,23.3 62.2,23.1 62.4,23.5 64.2,24.3 65.7,24.8 66.2,25 67.5,25.9 68.2,27.2 68.6,28.5 69.4,31.2 70,34.5 70.2,35.2 70.5,38.9 70.9,43.6 71.2,49.7 71.5,58 71.8,67.5 72.1,80.6 72.1,86.9 72.2,89.6 72.2,90.9 72.2,92.7 72.3,96.7 72.3,99.6 72.3,99.6 72.3,104.9 72.4,108.9 72.4,113.5 72.5,118.8 72.5,123.7 72.5,127.1 72.5,128.5 72.6,132.4 72.6,135.2 72.7,135.1 72.7,132.9 72.7,129 72.8,127 72.8,124.4 72.8,118.6 72.9,113.2 72.9,108.5 72.9,104.2 73,100.8 73,99.1 73,96.9 73.1,93.1 73.1,89.2 73.1,87.1 73.2,80.4 73.5,67.5 73.8,57.7 74.1,50.3 74.2,46.8 74.4,43.9 74.8,38.4 75.3,34.2 75.9,31.7 76.2,30 76.7,28.6 77.8,26.7 78.2,26.1 79.6,24.6 80.2,24.3 82.2,24.1 82.9,23.6 84.2,23 86.2,23.4 88.2,23.1 90.2,22.1 91.6,22.1 92.2,23.1 94.2,23 96.2,22.3 98.2,22.8 100.2,22.5 102.2,22.5 104.2,22.1 106.2,23.2 108.2,23.1 110.2,22.7 112.2,21.9 114.2,22.4 116.2,22.9 118.2,22.2 120.2,22.1 122.2,22.5 124.2,22.5 126.2,22.3 128.2,22.1 130.2,22.5 132.2,22.4 134.2,22.7 136.2,22.8 138.2,23.1 140.2,22.8 142.2,23 144.2,23.1 146.2,22.7 148.2,23 150.2,22.9 152.2,23.8 154.2,23.1 156.2,23.6 158.2,23.7 160.2,23.8 162.2,23.2 164.2,23.4 166.2,24 168.2,24.2 170.2,23.8 172.2,24 174.2,23.3 176.2,24.4 178.2,24.6 180.2,24.1 182.2,24 184.2,24 186.2,23.8 188.2,23.4 190.2,24.2 192.2,24.3 194.2,24.7 196.2,24.1 198.2,23.9 200.2,24.3 201.2,23.8 202.2,24.2 204.2,23.8 206.2,24.3 208.2,25 209.9,25.1 210.2,25.5 212.2,26.1 213.3,26 214.2,26.5 215,27 216.2,29.9 216.2,30 217,33 217.6,35.7 218,40 218.2,42.2 218.4,45 218.8,51.2 219.1,59.7 219.3,68.6 219.6,82 219.7,88.1 219.7,91.1 219.8,93.6 219.8,97.2 219.8,100 219.8,101.9 219.9,105.7 219.9,109.5 220,114.9 220,119.5 220,124.7 220.1,126.2 220.1,128.2 220.1,132.1 220.2,134.3 220.2,134.6 220.2,134.5 220.2,132 220.3,128.8 220.3,126.6 220.3,124.2 220.4,119.5 220.4,113.9 220.4,109.8 220.5,105.3 220.5,101.6 220.5,101.4 220.6,97.5 220.6,94.6 220.6,90.6 220.7,88.5 220.8,82.6 221,68.8 221.3,59 221.6,51.3 221.9,45.6 222.2,41.3 222.3,40.7 222.8,36.2 223.4,32.9 224.2,30 224.2,29.6 225.3,27.9 226.2,26.5 227.1,25.8 228.2,26.1 230.2,25.4 230.4,25 232.2,24.9 234.2,24.4 236.2,25" stroke="#e05a10" stroke-width="1.4"/>
<polyline points="36.2,20.9 38.2,20.6 40.2,21.1 42.2,20.5 44.2,21.8 46.2,21.4 48.2,21 50.2,21.8 52.2,21.1 52.2,21.8 54.2,21.5 56.2,22 58.2,22 60.2,22.2 60.9,22.4 62.2,22.9 64.2,22.9 64.2,23.7 66,25.7 66.2,25.3 67.1,27.3 67.9,29.9 68.2,31.1 68.5,34.1 69,37.5 69.4,42.5 69.7,49.1 70,56.7 70.2,63.4 70.3,66.7 70.6,78.9 70.6,86 70.7,88.5 70.7,91.4 70.8,94.7 70.8,97.2 70.8,99.1 70.8,102.4 70.9,106.2 70.9,111.3 71,115.3 71,119.1 71,121.8 71,123.6 71.1,127.9 71.1,128.8 71.2,128.7 71.2,127.1 71.2,123.8 71.3,121.2 71.3,119.8 71.3,115.6 71.4,110.8 71.4,106.6 71.4,102.5 71.5,98.5 71.5,97.5 71.5,94.8 71.6,91.9 71.6,88.4 71.6,85.2 71.7,79.7 72,66.2 72.2,58.4 72.3,57.2 72.6,49.1 72.9,42.4 73.3,37.5 73.8,33.9 74.2,31 74.4,30.8 75.2,28.3 76.2,25.6 76.3,25.6 78.1,23.9 78.2,24 80.2,23.1 81.4,23.2 82.2,22.7 84.2,22.4 86.2,22.6 88.2,22.2 90.1,23 90.2,22.7 92.2,21.9 94.2,21.8 96.2,22.3 98.2,22.4 100.2,22.8 102.2,22.3 104.2,22.1 106.2,22.9 108.2,22.2 110.2,22.2 112.2,22.2 114.2,22.7 116.2,22.2 118.2,22.9 120.2,21.8 122.2,22.3 124.2,22.7 126.2,21.8 128.2,21.9 130.2,22.5 132.2,21.5 134.2,22.6 136.2,22.2 138.2,21.9 140.2,23.1 142.2,22 144.2,22.3 146.2,22.3 148.2,22.7 150.2,22.3 152.2,22.8 154.2,22.8 156.2,22.6 158.2,22.9 160.2,22 162.2,23.1 164.2,22.9 166.2,22.8 168.2,22.8 170.2,22.6 172.2,22.6 174.2,23.1 176.2,23.2 178.2,23.1 180.2,22.9 182.2,23 184.2,23.5 186.2,24.1 188.2,22.7 190.2,23.2 192.2,23.5 194.2,23.6 196.2,24 198.2,24.2 199.5,24.1 200.2,24.1 202.2,24.3 204.2,24.8 206.2,24.6 208.2,24.6 208.2,25 210.2,25.4 211.5,26.8 212.2,26.6 213.3,27.8 214.2,29.7 214.4,30.5 215.2,32.5 215.8,36.3 216.2,38.9 216.3,40.3 216.7,45 217,51.5 217.3,59.5 217.6,68.8 217.9,81.7 218,87.2 218,90.5 218,93.6 218.1,96.5 218.1,99.2 218.1,100.1 218.2,103.8 218.2,108 218.2,108.5 218.2,112.1 218.3,116.5 218.3,120.8 218.3,123.2 218.4,123.8 218.4,127.6 218.4,129.4 218.5,129.4 218.5,127.6 218.6,124.5 218.6,123.7 218.6,121.4 218.6,116.4 218.7,112.8 218.7,108 218.8,104 218.8,99.9 218.8,98.9 218.8,96.6 218.9,93.6 218.9,90.7 219,87.6 219,81.7 219.3,69.4 219.6,59 219.9,51.4 220.2,45 220.2,45.3 220.6,40.1 221.1,36.3 221.7,32.8 222.2,31.3 222.5,29.9 223.6,27.2 224.2,27 225.4,26 226.2,26 228.2,24.5 228.7,25.2 230.2,24.4 232.2,24.4 234.2,24.6 236.2,23.9" stroke="#ec7818" stroke-width="1.4"/>
<polyline points="36.2,21.1 38.2,21.4 40.2,21.7 42.2,21.4 44.2,21.4 46.2,21.3 48.2,20.9 50.2,21.9 52.1,21.4 52.2,22.2 54.2,21.8 56.2,21.8 58.2,22.5 60.2,22.6 60.8,22 62.2,22.4 64.2,23.3 64.2,23.6 65.9,24.2 66.2,25.4 67.1,27.4 67.9,29.2 68.2,31.3 68.5,33.3 68.9,36.9 69.3,42.4 69.7,48.4 70,56.3 70.2,64.8 70.2,65.8 70.5,79.3 70.6,85.7 70.6,88.7 70.7,91.4 70.7,95.4 70.7,98.3 70.7,98.9 70.8,103.2 70.8,108.2 70.9,112.3 70.9,117.2 70.9,122.4 71,125.4 71,127.5 71,131.4 71.1,133.5 71.1,134.1 71.1,131.1 71.2,127 71.2,125.5 71.2,122.1 71.3,117.3 71.3,112.8 71.3,107.4 71.4,103.2 71.4,99 71.4,98.3 71.5,94.8 71.5,91.5 71.5,88.7 71.6,85.2 71.7,79.1 71.9,66.4 72.2,56.4 72.2,56.2 72.5,48.8 72.8,42.3 73.2,37 73.7,32.5 74.2,29.8 74.3,29.4 75.1,26.7 76.2,24.4 76.2,25 78,23 78.2,23 80.2,22.3 81.3,22.2 82.2,22 84.2,21.7 86.2,21.9 88.2,21.2 90,21.4 90.2,21.3 92.2,21.2 94.2,21.1 96.2,21.5 98.2,21.4 100.2,21.9 102.2,22.2 104.2,22.1 106.2,20.9 108.2,22.2 110.2,21.4 112.2,21.1 114.2,21.9 116.2,21.2 118.2,21.2 120.2,21.6 122.2,21.1 124.2,21.8 126.2,22.3 128.2,22 130.2,22.4 132.2,22.7 134.2,22.8 136.2,21.6 138.2,22.6 140.2,22.5 142.2,22.8 144.2,22.5 146.2,22.7 148.2,22.8 150.2,23.1 152.2,23.2 154.2,23 156.2,22.6 158.2,22 160.2,22.4 162.2,22.1 164.2,22.6 166.2,22.8 168.2,23.2 170.2,22.7 172.2,23.5 174.2,22.8 176.2,22.1 178.2,22.6 180.2,22.3 182.2,22.8 184.2,23.2 186.2,22.8 188.2,22.8 190.2,22.3 192.2,22 194.2,23 196.2,22.9 198.2,22.9 199.2,23 200.2,23.4 202.2,23 204.2,23.1 206.2,23.3 207.9,24.2 208.2,23.8 210.2,25 211.3,24.7 212.2,26.1 213,26.8 214.2,29.1 214.2,29.2 215,32 215.6,35.7 216,38.6 216.2,40.9 216.4,44.1 216.8,49.7 217.1,58.1 217.3,67.8 217.6,81 217.7,86.3 217.7,89.5 217.8,92.8 217.8,96.4 217.8,99.3 217.8,99.5 217.9,104.6 217.9,108.1 218,112.6 218,117.2 218,122.3 218.1,124.2 218.1,126.1 218.1,129.3 218.2,131.3 218.2,131.9 218.2,131.4 218.2,130 218.3,126.3 218.3,124.5 218.3,121.8 218.4,117.3 218.4,112.8 218.4,107.5 218.5,103.9 218.5,100.6 218.5,99.6 218.6,96.7 218.6,93.1 218.6,90.1 218.7,87.2 218.8,80.4 219,68 219.3,58.3 219.6,50.6 219.9,44.4 220.2,40.3 220.3,39.1 220.8,34.8 221.4,32.9 222.2,29 222.2,28.7 223.3,26.3 224.2,26 225.1,26 226.2,24.7 228.2,24.6 228.4,24.9 230.2,24.3 232.2,23.6 234.2,23.5 236.2,23.6" stroke="#f49028" stroke-width="1.4"/>
<polyline points="36.2,21.6 38.2,21.9 40.2,22 42.2,22 44.2,22.7 46.2,21.8 48.2,21.8 50.2,22.4 51.3,22.3 52.2,22.2 54.2,21.9 56.2,22.4 58.2,22.8 60,23.2 60.2,23.6 62.2,23.9 63.3,24.3 64.2,25 65.1,25.9 66.2,27.7 66.3,28 67,30.8 67.6,34 68.1,38.4 68.2,39.3 68.5,43.3 68.9,50.2 69.2,56.9 69.4,67.6 69.7,80.1 69.8,86.2 69.8,88.9 69.8,92.5 69.9,96.4 69.9,98.6 69.9,99.7 70,103.8 70,108.2 70,112.5 70.1,117.4 70.1,122.6 70.1,126.2 70.2,127.4 70.2,130.7 70.2,130.4 70.2,133.1 70.3,133.3 70.3,130.7 70.4,127.4 70.4,125.6 70.4,122.7 70.4,118.3 70.5,112.6 70.5,108.2 70.6,104 70.6,100.3 70.6,99 70.6,95.6 70.7,92.8 70.7,89.7 70.8,86.2 70.9,80.9 71.1,68 71.4,57.5 71.7,49.9 72,43.6 72.2,41 72.4,38.3 72.9,34.4 73.5,31.1 74.2,28.5 74.3,28 75.4,25.7 76.2,24.8 77.2,24.1 78.2,25 80.2,23.6 80.5,23.3 82.2,22.9 84.2,23.3 86.2,22.2 88.2,22.5 89.2,22.8 90.2,22.5 92.2,22.7 94.2,22.8 96.2,22.4 98.2,22.7 100.2,23 102.2,22.8 104.2,22.6 106.2,23 108.2,22.2 110.2,23.1 112.2,22.1 114.2,22.5 116.2,23.1 118.2,22.8 120.2,22.5 122.2,23 124.2,23.4 126.2,23 128.2,22.4 130.2,23.6 132.2,22.9 134.2,23.2 136.2,23.2 138.2,23.4 140.2,23.4 142.2,22.9 144.2,23.1 146.2,23.7 148.2,22.9 150.2,23.9 152.2,23.2 154.2,23.4 156.2,23.1 158.2,23.4 160.2,23.2 162.2,23.6 164.2,23.3 166.2,23.5 168.2,22.9 170.2,23.9 172.2,23.2 174.2,23.5 176.2,23.6 178.2,23.9 180.2,23.6 182.2,24.3 184.2,24.3 186.2,23.6 188.2,24.4 190.2,23.4 192.2,24 194.2,23.9 196.2,24 198.2,24 198.2,24.2 200.2,24.3 202.2,24.4 204.2,24.2 206.2,24.4 206.9,24.5 208.2,25.2 210.2,26.2 210.3,26.8 212.1,27.7 212.2,27.8 213.2,30.2 214,32.6 214.2,33.5 214.6,36.2 215,40 215.4,45.3 215.8,52.2 216.1,59.5 216.2,63.3 216.4,68.9 216.6,82.5 216.7,88.3 216.7,91.4 216.8,94.3 216.8,97.7 216.8,100.4 216.9,101.2 216.9,105.4 216.9,109.6 217,114.2 217,118.9 217.1,123.1 217.1,127.2 217.1,128 217.1,131.4 217.2,133 217.2,133.8 217.3,131.3 217.3,127.6 217.3,126.6 217.3,124.2 217.4,119 217.4,114.6 217.5,109.4 217.5,105.7 217.5,100.8 217.5,100.6 217.6,98 217.6,94.4 217.7,91.4 217.7,87.9 217.8,81.8 218,69.2 218.2,62.4 218.3,59.7 218.6,51.5 218.9,44.7 219.3,40.9 219.8,35.9 220.2,33.6 220.4,33.6 221.2,30.7 222.2,28.6 222.3,27.8 224.1,26.6 224.2,26.5 226.2,25.4 227.4,25.3 228.2,25.1 230.2,25.1 232.2,24.5 234.2,25.1 236.1,24.2 236.2,24.9" stroke="#e86a14" stroke-width="1.4"/>
<polyline points="36.2,20.2 38.2,20.9 40.2,20.5 42.2,20.8 44.2,20.1 46.2,20.9 48.2,21.4 49.3,21.4 50.2,21.4 52.2,21.2 54.2,21.4 56.2,21.3 58,21.9 58.2,22 60.2,22.6 61.3,23.3 62.2,23.9 63.1,24.7 64.2,26.9 64.2,27.4 65,30.6 65.6,33.6 66.1,37.4 66.2,39.8 66.5,42.8 66.8,48.7 67.1,56.8 67.4,66.9 67.6,79.3 67.7,85.4 67.8,89.1 67.8,91.9 67.8,95.5 67.9,99.7 67.9,99 67.9,104.5 68,109 68,114.3 68,119.3 68.1,125.4 68.1,128.6 68.1,130.1 68.2,135.1 68.2,138.1 68.2,137.6 68.2,138.4 68.3,135 68.3,130.8 68.3,128.5 68.4,125.2 68.4,119.5 68.4,114.2 68.5,109.4 68.5,104.6 68.6,99.9 68.6,99.3 68.6,96.5 68.6,92.7 68.7,89.4 68.7,86 68.8,79.8 69.1,66.5 69.3,56.9 69.6,48.9 70,43.1 70.2,40.4 70.4,37.6 70.8,34.1 71.4,30.4 72.2,27.9 72.2,27.2 73.4,25.6 74.2,24.2 75.1,23.8 76.2,23.5 78.2,23.1 78.5,22.3 80.2,22.1 82.2,21.8 84.2,21.3 86.2,21.8 87.2,21.7 88.2,21.9 90.2,21.7 92.2,21.9 94.2,22 96.2,21 98.2,22.4 100.2,21.6 102.2,21.6 104.2,21.6 106.2,22 108.2,21.8 110.2,21.9 112.2,22.1 114.2,21.7 116.2,21.8 118.2,21.9 120.2,21.5 122.2,22.1 124.2,21.6 126.2,21.9 128.2,21.6 130.2,21.7 132.2,21.7 134.2,22.1 136.2,22.1 138.2,22.2 140.2,21.8 142.2,21.7 144.2,21.6 146.2,22.2 148.2,22 150.2,22.6 152.2,22.9 154.2,22.5 156.2,22.5 158.2,22.8 160.2,23 162.2,22.2 164.2,22.7 166.2,23.1 168.2,21.8 170.2,22.6 172.2,22.8 174.2,22.5 176.2,23 178.2,22.3 180.2,23.4 182.2,23.4 184.2,23.1 186.2,23.3 188.2,22.6 190.2,23.7 192.2,23.5 194.2,23.2 196.2,23.2 196.7,23.1 198.2,23.4 200.2,22.8 202.2,23.9 204.2,23.9 205.4,23.9 206.2,24.5 208.2,25.2 208.8,25.6 210.2,26.9 210.5,27.5 211.7,29.5 212.2,31.5 212.5,31.9 213.1,36 213.5,38.8 213.9,44 214.2,49.1 214.3,50.9 214.6,58.7 214.8,67.9 215.1,81.4 215.2,87.2 215.2,90.7 215.3,93.3 215.3,97.4 215.3,100.1 215.3,101.5 215.4,105.2 215.4,109.2 215.5,114.1 215.5,118.9 215.5,123.4 215.6,126.5 215.6,127.8 215.6,132.8 215.7,133.9 215.7,133.9 215.7,132.4 215.8,128.6 215.8,126.3 215.8,124 215.9,118.9 215.9,113.7 215.9,109.4 216,104.8 216,101.2 216,100 216.1,96.7 216.1,93.5 216.1,91.1 216.2,87.1 216.2,85.4 216.3,81.7 216.5,67.8 216.8,59.1 217.1,50.1 217.4,44.8 217.8,39 218.2,36.1 218.3,35.9 218.9,32 219.7,29.2 220.2,28 220.8,26.8 222.2,26 222.6,25.3 224.2,24.5 225.9,24.4 226.2,24.6 228.2,24.3 230.2,23.5 232.2,23.4 234.2,23.9 234.6,24 236.2,23.1" stroke="#f08020" stroke-width="1.4"/>
<polyline points="36.2,20.6 38.2,21.5 40.2,21.2 42.2,21.2 44.2,21.8 46.2,22 48.2,21.3 50.2,22.1 52.2,22.1 52.6,22.2 54.2,22.2 56.2,22.5 58.2,22.3 60.2,22.4 61.3,23.2 62.2,23.8 64.2,24 64.7,24.8 66.2,25.9 66.4,25.6 67.6,27.4 68.2,30.2 68.4,31.4 69,34.1 69.4,39.3 69.8,43.8 70.2,49.2 70.2,50.3 70.5,58 70.7,67.9 71,80.2 71.1,86.3 71.1,89.5 71.2,92.3 71.2,96.1 71.2,99.6 71.2,99.4 71.3,103.9 71.3,108.3 71.4,113 71.4,117.2 71.4,122.3 71.5,124.8 71.5,126.6 71.5,129.7 71.6,132.3 71.6,132.4 71.6,130.8 71.7,127 71.7,124.6 71.7,121.1 71.8,117.8 71.8,113 71.8,108 71.9,103.6 71.9,100 71.9,99 72,96.6 72,92.7 72,89.1 72.1,85.8 72.2,80.5 72.2,78.2 72.4,67.2 72.7,57.1 73,49.7 73.3,43.9 73.7,38.5 74.2,34.2 74.2,34.7 74.8,31.6 75.6,28.2 76.2,26.9 76.7,25.9 78.2,24.8 78.5,24.8 80.2,24 81.8,23.8 82.2,23.7 84.2,23.3 86.2,23.2 88.2,22.5 90.2,23.3 90.5,22.8 92.2,23 94.2,22.2 96.2,22.6 98.2,22.8 100.2,22.4 102.2,22.6 104.2,22.8 106.2,22.1 108.2,22.4 110.2,22 112.2,22.2 114.2,22.3 116.2,22.5 118.2,23 120.2,22.3 122.2,22.6 124.2,22.4 126.2,22.6 128.2,22.8 130.2,23 132.2,22.4 134.2,22.2 136.2,22.8 138.2,22.6 140.2,22.3 142.2,23.1 144.2,22.9 146.2,23.2 148.2,22.5 150.2,22.9 152.2,23.2 154.2,23.6 156.2,23.2 158.2,22.8 160.2,23.3 162.2,23.4 164.2,23.1 166.2,23.8 168.2,23.5 170.2,23.3 172.2,23.9 174.2,23.9 176.2,23.6 178.2,23.8 180.2,23.9 182.2,23.8 184.2,23.9 186.2,24.3 188.2,24.3 190.2,23.9 192.2,23.8 194.2,23.7 196.2,24.5 198.2,23.9 199.9,24.1 200.2,24.4 202.2,24.3 204.2,24.3 206.2,24.2 208.2,25.5 208.6,25 210.2,25.6 211.9,26.4 212.2,26.2 213.7,27.7 214.2,29.2 214.8,30.3 215.6,32.9 216.2,36.8 216.2,36 216.7,40.5 217.1,45.5 217.4,51.6 217.7,58.8 218,69.2 218.2,80.3 218.2,81.8 218.3,88.5 218.4,91.6 218.4,95.1 218.4,97.8 218.5,101.1 218.5,101.8 218.5,106 218.6,110.4 218.6,115.3 218.6,120.2 218.7,124.7 218.7,127.7 218.7,128.9 218.8,133.5 218.8,135.6 218.8,135.7 218.9,132.7 218.9,129.8 218.9,127.6 219,124.3 219,119.9 219,114.7 219.1,111 219.1,106 219.2,102.4 219.2,101 219.2,98.1 219.2,94.8 219.3,91 219.3,88.2 219.4,82.6 219.7,69.4 219.9,59.9 220.2,52.5 220.2,51 220.6,45.7 221,40.3 221.4,36.5 222,32.7 222.2,32.1 222.8,30.3 224,28.6 224.2,27.9 225.7,25.9 226.2,26.2 228.2,25.1 229.1,25.3 230.2,25.6 232.2,24.6 234.2,24.5 236.2,24.7" stroke="#e05a10" stroke-width="1.4"/>
<polyline points="36.2,22 38.2,22.1 40.2,21.7 42.2,22.1 44.2,21.8 46.2,21.7 48.2,22.1 50.2,22.7 51,22.5 52.2,22 54.2,22.5 56.2,22.8 58.2,22.8 59.7,22.8 60.2,23 62.2,23.5 63,24.5 64.2,25.2 64.8,25.9 66,28 66.2,29.4 66.8,30.8 67.3,34.6 67.8,37.8 68.2,42.5 68.2,42.7 68.6,49.2 68.9,57.4 69.1,66.8 69.4,80.3 69.5,85.9 69.5,89.5 69.5,92.6 69.6,95.8 69.6,98.5 69.6,99.7 69.7,103 69.7,107.3 69.7,113.3 69.8,117.8 69.8,123.1 69.9,126 69.9,127.7 69.9,131.4 69.9,133.3 70,133.4 70,131.4 70.1,127.7 70.1,125.8 70.1,122.9 70.1,117.8 70.2,113 70.2,111.2 70.2,108.8 70.3,103.7 70.3,99.2 70.3,99 70.3,96.5 70.4,92.1 70.4,89.4 70.5,87.2 70.6,80.3 70.8,66.9 71.1,57 71.4,49.1 71.7,43.1 72.1,38.2 72.2,38 72.6,34.5 73.2,30.6 74,27.7 74.2,27.8 75.1,26 76.2,24.4 76.9,24.8 78.2,24.1 80.2,23 80.2,22.8 82.2,22.7 84.2,23.2 86.2,22.2 88.2,22.6 88.9,21.9 90.2,22.1 92.2,22 94.2,21.8 96.2,22.2 98.2,21.7 100.2,21.6 102.2,21.9 104.2,21.6 106.2,22.3 108.2,21.8 110.2,22 112.2,22.5 114.2,22.2 116.2,22.4 118.2,22.5 120.2,22.3 122.2,22.1 124.2,22.6 126.2,22.5 128.2,23.1 130.2,22.7 132.2,22.4 134.2,22.5 136.2,22.7 138.2,23.1 140.2,23.4 142.2,23.1 144.2,23.6 146.2,23.6 148.2,22.9 150.2,23.6 152.2,22.7 154.2,23.9 156.2,23.3 158.2,23.9 160.2,23.4 162.2,23.9 164.2,23.5 166.2,23.6 168.2,23.7 170.2,23.4 172.2,23.1 174.2,23.8 176.2,23.3 178.2,23.6 180.2,23.6 182.2,22.8 184.2,24.3 186.2,23.8 188.2,24.2 190.2,23.7 192.2,23.7 194.2,22.3 196.2,23.5 198.2,23.1 198.7,23.3 200.2,23.9 202.2,23.7 204.2,23.5 206.2,24.2 207.4,24.4 208.2,24.5 210.2,25.9 210.7,26 212.2,26.9 212.5,27.2 213.6,29.9 214.2,31.5 214.4,32.3 215,35.7 215.5,39.6 215.9,44.8 216.2,50.4 216.2,51.5 216.5,59.1 216.8,68.4 217,82.1 217.1,87.3 217.2,90.6 217.2,93.8 217.3,96.8 217.3,100.1 217.3,101 217.3,104.8 217.4,108.8 217.4,112.2 217.5,118.5 217.5,122.3 217.5,125 217.5,126.1 217.6,129.9 217.6,132.5 217.7,131.2 217.7,130.1 217.7,126.4 217.8,125.5 217.8,122.6 217.8,117.8 217.9,112.8 217.9,108.4 217.9,104.7 218,100.4 218,100 218,96.9 218.1,93.5 218.1,90.1 218.1,87.6 218.2,83.2 218.2,81.5 218.5,68.5 218.7,59.1 219,50.5 219.4,45.1 219.8,39.6 220.2,36.1 220.3,35.3 220.9,33.2 221.6,29 222.2,28.5 222.8,28 224.2,26.1 224.6,25.1 226.2,25 227.9,25.2 228.2,24.9 230.2,24.1 232.2,24.9 234.2,24.4 236.2,24.4" stroke="#ec7818" stroke-width="1.4"/>
<polyline points="36.2,20.9 38.2,20.1 40.2,20.1 42.2,20.6 44.2,20.3 46.2,20.4 48,20.7 48.2,20.7 50.2,20.9 52.2,20.8 54.2,21.4 56.2,21.2 56.7,21.8 58.2,21.7 60.1,22.6 60.2,23 61.9,23.9 62.2,24.1 63,25.9 63.8,29.6 64.2,30.9 64.4,32.5 64.9,36.7 65.2,42 65.6,48 65.9,55.3 66.2,65.5 66.2,67.8 66.4,79.3 66.5,85.3 66.5,88.1 66.6,91 66.6,95.6 66.6,98.4 66.7,99.4 66.7,103.8 66.7,108.1 66.8,113.1 66.8,119.2 66.9,124.7 66.9,127.3 66.9,129.7 66.9,134.3 67,137.3 67,137.2 67.1,134.1 67.1,129.8 67.1,128.1 67.1,124.1 67.2,118.2 67.2,113.4 67.3,107.7 67.3,103.1 67.3,99.4 67.3,98.5 67.4,95.1 67.4,91.3 67.5,87.9 67.5,85.5 67.6,79.5 67.8,65.4 68.1,55.7 68.2,52.9 68.4,47.9 68.7,41.3 69.1,37.2 69.6,32.2 70.2,29.6 70.2,29 71,26 72.1,24.8 72.2,24.1 73.9,22.8 74.2,22.6 76.2,21.8 77.2,21.9 78.2,21.8 80.2,21 82.2,20.8 84.2,21.2 85.9,21.5 86.2,20.2 88.2,20.6 90.2,20.9 92.2,21.4 94.2,21.3 96.2,21 98.2,21.5 100.2,20.6 102.2,21.2 104.2,21.1 106.2,21.6 108.2,21.6 110.2,21.6 112.2,21.3 114.2,21.5 116.2,21.6 118.2,21.4 120.2,21.5 122.2,21.1 124.2,21.7 126.2,22 128.2,21.7 130.2,21.2 132.2,21.9 134.2,21.7 136.2,21.9 138.2,21.6 140.2,21.7 142.2,22.1 144.2,21.9 146.2,21.5 148.2,21.4 150.2,21.5 152.2,21.5 154.2,22 156.2,22 158.2,21.5 160.2,22.3 162.2,21.9 164.2,22.5 166.2,22 168.2,22.1 170.2,22.3 172.2,21.7 174.2,22.2 176.2,22.1 178.2,22.1 180.2,22.3 182.2,21.6 184.2,22.3 186.2,22.1 188.2,22.7 190.2,22.5 192.2,22.5 194.2,22.6 195.1,22.7 196.2,22.5 198.2,22.2 200.2,23 202.2,23.2 203.8,23.6 204.2,22.7 206.2,23.7 207.1,24.6 208.2,25.4 208.9,26.7 210,28.7 210.2,29.2 210.8,31.4 211.4,35.1 211.9,39.2 212.2,43.1 212.3,44 212.6,51 212.9,58 213.2,67.5 213.4,81.4 213.5,87.2 213.5,90.9 213.6,93.4 213.6,97.7 213.7,100.8 213.7,101.3 213.7,104.6 213.7,110.2 213.8,115.4 213.8,120.1 213.9,125.6 213.9,128.3 213.9,131.3 213.9,135.7 214,137.8 214,137.6 214.1,135 214.1,130.4 214.1,129.5 214.1,125.8 214.2,120.2 214.2,117.4 214.2,114.7 214.3,110.1 214.3,105.7 214.3,100.8 214.4,100 214.4,96.3 214.4,93.7 214.5,89.8 214.5,87.7 214.6,81.5 214.8,68.2 215.1,58.2 215.4,50.6 215.8,44.3 216.1,39.1 216.2,38.7 216.6,34.7 217.2,31.6 218,28.9 218.2,27.9 219.1,26.6 220.2,25.5 220.9,25.1 222.2,24.5 224.2,23.8 224.2,24.3 226.2,23.3 228.2,23 230.2,23.1 232.2,23.6 232.9,24 234.2,23.6 236.2,23.3" stroke="#d0301a" stroke-width="1.4"/>
<polyline points="36.2,21.4 38.2,20.9 40.2,21.3 42.2,21.5 44.2,21.9 46.2,21.9 48.2,21.3 49.4,21.7 50.2,21.5 52.2,22.1 54.2,22.1 56.2,22.3 58.1,23.1 58.2,23.2 60.2,23.1 61.4,23.8 62.2,24.8 63.2,25.6 64.2,27.3 64.3,27.2 65.1,30.9 65.7,33.8 66.2,37.4 66.2,38.4 66.6,42.7 66.9,50.3 67.2,56.7 67.5,67.1 67.7,81 67.8,86.1 67.9,89.1 67.9,92.3 67.9,95.9 68,99.4 68,100.4 68,104.5 68.1,108.9 68.1,113.6 68.1,119 68.2,124.1 68.2,126.9 68.2,129 68.3,132.5 68.3,135 68.3,136 68.4,133.4 68.4,129.5 68.4,127.7 68.5,123.8 68.5,119.1 68.5,114 68.6,108.9 68.6,104 68.7,100.2 68.7,99.4 68.7,95.9 68.7,92.5 68.8,89.2 68.8,86 68.9,80.8 69.2,67.1 69.4,57.5 69.7,49.2 70.1,43 70.2,41.7 70.5,37.8 70.9,34.5 71.5,30.4 72.2,28.3 72.3,28.4 73.5,26.3 74.2,25.2 75.2,24.3 76.2,24.1 78.2,23 78.6,23.6 80.2,22.9 82.2,22.8 84.2,23.3 86.2,22.5 87.3,23 88.2,23.4 90.2,22.7 92.2,22.6 94.2,22.1 96.2,22.6 98.2,21.9 100.2,21.9 102.2,22 104.2,21.9 106.2,22.2 108.2,22.5 110.2,22.1 112.2,21.9 114.2,22.2 116.2,22.3 118.2,22.8 120.2,22 122.2,22.1 124.2,22.6 126.2,22.2 128.2,22 130.2,22.2 132.2,21.9 134.2,22 136.2,22.7 138.2,22.4 140.2,22.1 142.2,22 144.2,21.9 146.2,23.1 148.2,22.5 150.2,22.3 152.2,22.1 154.2,22 156.2,23 158.2,22.9 160.2,23.2 162.2,22.6 164.2,23.4 166.2,22.6 168.2,22.8 170.2,23 172.2,24 174.2,23.5 176.2,23.1 178.2,23.9 180.2,23.6 182.2,23.6 184.2,23.4 186.2,23.6 188.2,23.7 190.2,24 192.2,23.9 194.2,24.1 196.2,23.8 196.4,24.2 198.2,23.8 200.2,24.9 202.2,24.1 204.2,24.8 205.1,24.5 206.2,25.2 208.2,25.7 208.4,25.6 210.2,28 210.2,27.8 211.3,30 212.1,32.6 212.2,33.7 212.7,36.1 213.2,40.3 213.6,45.5 213.9,51.5 214.2,59.7 214.2,58.7 214.5,68.9 214.7,81.7 214.8,88.6 214.9,91.7 214.9,94.5 214.9,98.7 215,101.1 215,102.2 215,106.3 215.1,110.6 215.1,115.4 215.1,119.9 215.2,125.5 215.2,129.4 215.2,130.3 215.3,135.2 215.3,137.1 215.3,137.6 215.4,135.1 215.4,130.3 215.4,129 215.5,126 215.5,120.8 215.5,115.7 215.6,110.2 215.6,106.7 215.7,102.5 215.7,101.1 215.7,98.8 215.7,94.8 215.8,91 215.8,88.3 215.9,82.5 216.2,69.3 216.2,67.4 216.4,59.4 216.7,51.4 217.1,44.9 217.5,39.9 217.9,36.3 218.2,34.6 218.5,32.4 219.3,30.6 220.2,28.3 220.5,27.9 222.2,26.5 222.2,26.4 224.2,25.1 225.6,25.4 226.2,25.1 228.2,24.7 230.2,24.3 232.2,24.6 234.2,23.7 234.3,24.2 236.2,24.1" stroke="#c42818" stroke-width="1.4"/>
<polyline points="36.2,22.2 38.2,21.7 40.2,22 42.2,22.4 44.2,21.9 46.2,22.7 48.1,22.1 48.2,22.6 50.2,22.3 52.2,22.1 54.2,22.5 56.2,23.2 56.8,23.1 58.2,23.6 60.2,24.7 60.2,24.7 61.9,26 62.2,26.2 63.1,28.8 63.9,30.9 64.2,32.5 64.5,34.3 64.9,38.8 65.3,43.1 65.7,50.1 66,57.1 66.2,65 66.2,67.9 66.5,80.1 66.6,86 66.6,89 66.7,92.6 66.7,95.9 66.7,99.2 66.7,99.5 66.8,103.3 66.8,108 66.9,112.6 66.9,117.1 66.9,121.6 67,124.3 67,126 67,129.5 67.1,131.9 67.1,132.4 67.1,129.3 67.2,125.5 67.2,125 67.2,121.8 67.3,116.8 67.3,111.9 67.3,107.5 67.4,103 67.4,99.5 67.4,98.6 67.5,95.6 67.5,92.5 67.5,88.7 67.6,85.9 67.7,79.9 67.9,67.3 68.2,57 68.2,57.4 68.5,49.5 68.8,44.4 69.2,38.8 69.7,34.1 70.2,31.5 70.3,30.9 71.1,28.8 72.2,25.5 72.2,25.8 74,24.4 74.2,24.1 76.2,23.4 77.3,22.7 78.2,23 80.2,23.3 82.2,22.8 84.2,22.1 86,22.3 86.2,22.7 88.2,22.3 90.2,22.4 92.2,22.2 94.2,23 96.2,22.7 98.2,22.2 100.2,22.5 102.2,22.4 104.2,21.8 106.2,22.6 108.2,22.5 110.2,22.8 112.2,22.8 114.2,22.7 116.2,23.2 118.2,23.4 120.2,22.3 122.2,22.9 124.2,22.5 126.2,22.9 128.2,22.9 130.2,22.8 132.2,22.8 134.2,23.5 136.2,22.7 138.2,23.5 140.2,23.2 142.2,22.4 144.2,23.3 146.2,22.8 148.2,23.5 150.2,23.3 152.2,23.5 154.2,23.4 156.2,23.9 158.2,23.9 160.2,23.5 162.2,24.2 164.2,24 166.2,23.5 168.2,23.9 170.2,24 172.2,24.1 174.2,23.7 176.2,23.9 178.2,23.8 180.2,23.9 182.2,23.2 184.2,24 186.2,24.6 188.2,23.9 190.2,24 192.2,23.9 194.2,24.6 195.4,23.7 196.2,24.1 198.2,24.2 200.2,24.9 202.2,24.4 204.1,24.9 204.2,24.5 206.2,25.7 207.4,26.5 208.2,26.7 209.2,28.1 210.2,29.6 210.3,30.3 211.1,32.8 211.7,36.2 212.2,40.3 212.2,40.8 212.6,45.6 212.9,51.5 213.2,59.4 213.5,68.9 213.7,82.1 213.8,88.7 213.9,91 213.9,93.7 213.9,97.5 214,100.4 214,101.2 214,105.5 214.1,110 214.1,113.8 214.1,118.4 214.2,123.3 214.2,126 214.2,126.4 214.2,127.8 214.3,131.2 214.3,133.2 214.3,133.1 214.4,131.5 214.4,127.9 214.4,126 214.5,123.4 214.5,119.5 214.5,113.9 214.6,110.2 214.6,104.6 214.7,101 214.7,100.3 214.7,97.8 214.7,94.5 214.8,91 214.8,87.9 214.9,82.4 215.2,68.9 215.4,59 215.7,51.3 216.1,45.7 216.2,44.1 216.5,40.3 216.9,36.4 217.5,32.7 218.2,29.9 218.3,29.5 219.4,27.8 220.2,26.7 221.2,25.8 222.2,25.8 224.2,25.2 224.6,24.9 226.2,25 228.2,24.9 230.2,24.9 232.2,24.6 233.3,24.8 234.2,24.4 236.2,24.7" stroke="#d84018" stroke-width="1.4"/>
<polyline points="36.2,22 38.2,21.8 40.2,22.2 42.2,21.9 44.2,22 46.2,22.2 48.2,22.1 48.4,22.5 50.2,22.1 52.2,22.8 54.2,22.4 56.2,22.7 57.1,22.8 58.2,23.5 60.2,23.1 60.4,24.3 62.2,25.8 62.2,26.2 63.3,27.6 64.1,31 64.2,31 64.7,34.5 65.2,38.3 65.6,43.5 65.9,49.4 66.2,57.5 66.2,57.7 66.5,67.2 66.7,81 66.8,86.9 66.9,89.5 66.9,93.7 66.9,96.4 67,99.9 67,100.8 67,104.7 67,109.1 67.1,114.4 67.1,119.5 67.2,124.5 67.2,127.7 67.2,130 67.3,134.5 67.3,137 67.3,136.8 67.4,133.9 67.4,129.6 67.4,127.9 67.5,124.2 67.5,119.3 67.5,114.2 67.6,109.3 67.6,104 67.6,101.1 67.7,99.7 67.7,96.4 67.7,92.9 67.8,88.8 67.8,86.1 67.9,80.4 68.1,67.6 68.2,65 68.4,57.5 68.7,49.6 69.1,43.4 69.5,38.6 69.9,34.1 70.2,32 70.5,30.6 71.3,28.1 72.2,27 72.4,25.6 74.2,24 74.2,24.4 76.2,23.7 77.6,23 78.2,23.4 80.2,22.6 82.2,23.1 84.2,23 86.2,22.7 86.3,23.2 88.2,22.7 90.2,22.5 92.2,23.1 94.2,22.4 96.2,22.9 98.2,22.6 100.2,22.7 102.2,23 104.2,23 106.2,23.5 108.2,23.2 110.2,23.2 112.2,22.5 114.2,22.7 116.2,23.5 118.2,22.9 120.2,23.1 122.2,23.3 124.2,23.1 126.2,23 128.2,23.5 130.2,23.4 132.2,23.3 134.2,23.7 136.2,23.3 138.2,23.4 140.2,23.6 142.2,23.7 144.2,23.3 146.2,23.1 148.2,23.3 150.2,23.7 152.2,23.2 154.2,23.4 156.2,23.3 158.2,23.1 160.2,23.8 162.2,23.6 164.2,23.7 166.2,23.8 168.2,22.9 170.2,23.3 172.2,24.2 174.2,23.5 176.2,23.8 178.2,23.3 180.2,23.7 182.2,23.8 184.2,23.7 186.2,23.7 188.2,23.9 190.2,24 192.2,24.1 194.2,24 195.3,24.5 196.2,24.2 198.2,24.4 200.2,24.7 202.2,24.5 204,25.5 204.2,25.3 206.2,26.1 207.3,26.2 208.2,27.2 209.1,28.1 210.2,30 210.3,30.8 211,32.9 211.6,36.7 212.1,40.7 212.2,41.5 212.5,45.4 212.9,51.6 213.2,59 213.4,69.4 213.7,82.8 213.8,88.8 213.8,91.5 213.8,94.5 213.9,98.4 213.9,101.7 213.9,102.2 214,106.4 214,110.9 214,115.9 214.1,121.4 214.1,125.9 214.1,128.3 214.2,130.4 214.2,134.8 214.2,134.4 214.2,137.2 214.3,136 214.3,134.2 214.4,130.8 214.4,128.5 214.4,125.8 214.4,120.3 214.5,115.5 214.5,111.2 214.6,106.1 214.6,102.7 214.6,101 214.6,98.4 214.7,95.2 214.7,92.2 214.8,88.1 214.9,82.3 215.1,69.9 215.4,59.1 215.7,51.9 216,45.8 216.2,43.1 216.4,40.8 216.9,36.1 217.5,33.1 218.2,31.3 218.3,29.8 219.4,28 220.2,27.8 221.2,26.8 222.2,26.5 224.2,25.6 224.5,25.5 226.2,25.3 228.2,25.4 230.2,25.3 232.2,24.8 233.2,25 234.2,24.3 236.2,25.2" stroke="#c83420" stroke-width="1.4"/>
<polyline points="36.2,21.3 38.2,22 40.2,21.3 42.2,21.5 44.2,21.9 46.2,21.5 48.2,21.4 48.7,21.8 50.2,22 52.2,21.6 54.2,21.9 56.2,23 57.4,23 58.2,23.1 60.2,23.9 60.8,24.6 62.2,25.1 62.6,25.8 63.7,28 64.2,29.2 64.5,31 65.1,34.2 65.5,38.2 65.9,43.5 66.2,48 66.3,49.4 66.6,57.4 66.9,67 67.1,81.1 67.2,87 67.2,90.7 67.3,93.7 67.3,97.6 67.3,100.1 67.4,101.2 67.4,105.7 67.4,110.2 67.5,115.6 67.5,121.6 67.6,128.2 67.6,132.2 67.6,134.2 67.6,139.6 67.7,143 67.7,142.8 67.8,139.9 67.8,133.5 67.8,132.2 67.8,128.1 67.9,121.5 67.9,116.5 68,110.3 68,105.5 68,101.4 68,100.8 68.1,97.4 68.1,94.2 68.2,89.7 68.2,86.9 68.2,86.6 68.3,81.2 68.5,67.2 68.8,57 69.1,50.1 69.4,43.6 69.8,38.9 70.2,34.8 70.3,34.2 70.9,30.1 71.7,28.1 72.2,27.1 72.8,26.1 74.2,24.2 74.6,24.8 76.2,23.3 77.9,23 78.2,23.2 80.2,23.1 82.2,22.2 84.2,21.9 86.2,22.6 86.6,22.2 88.2,21.8 90.2,22.5 92.2,22.4 94.2,22.7 96.2,22.3 98.2,22.3 100.2,22.4 102.2,22.5 104.2,22.8 106.2,22.8 108.2,22.7 110.2,22.2 112.2,22.6 114.2,22.7 116.2,22.2 118.2,22.3 120.2,22.7 122.2,22.7 124.2,22.4 126.2,22.5 128.2,22.9 130.2,22.6 132.2,22.7 134.2,22.4 136.2,23.1 138.2,22.6 140.2,22.8 142.2,23.3 144.2,22.6 146.2,22.7 148.2,23.5 150.2,22.5 152.2,23.5 154.2,23.5 156.2,23.4 158.2,23 160.2,23.1 162.2,23.4 164.2,22.9 166.2,23.3 168.2,23 170.2,22.6 172.2,23.5 174.2,24.4 176.2,23.7 178.2,24 180.2,23.6 182.2,23.6 184.2,24.1 186.2,24.1 188.2,23.9 190.2,23.9 192.2,24.7 194.2,23.6 196.1,24 196.2,24 198.2,24 200.2,24.5 202.2,24.4 204.2,24.3 204.8,24.4 206.2,25 208.1,26.1 208.2,26.3 209.9,27.2 210.2,27.9 211,30 211.8,33.3 212.2,34.7 212.4,36.6 212.9,39.7 213.3,45.1 213.6,51.7 213.9,59.3 214.2,67.4 214.2,68.7 214.5,83 214.6,88.5 214.6,92 214.6,95.5 214.7,98.5 214.7,100.9 214.7,102 214.8,106.8 214.8,111.6 214.8,116.4 214.9,121.5 214.9,128 214.9,131.7 215,132.3 215,137.5 215,139.8 215.1,140.3 215.1,137.1 215.2,133.2 215.2,130.7 215.2,127.1 215.2,121.6 215.3,116.8 215.3,111.2 215.4,107.1 215.4,103.1 215.4,101.6 215.4,98.2 215.5,94.7 215.5,92.1 215.6,88.2 215.6,82.2 215.9,69.3 216.2,60 216.2,57.9 216.5,51.2 216.8,45.1 217.2,40.8 217.7,36.6 218.2,32.7 218.3,32.4 219.1,29.8 220.2,27.8 220.2,27.6 222,26.3 222.2,26.1 224.2,25.5 225.3,24.9 226.2,25 228.2,24.3 230.2,24.2 232.2,24.7 234,23.7 234.2,24.8 236.2,24.2" stroke="#d0301a" stroke-width="1.4"/>
<polyline points="36.2,22.7 38.2,22.5 40.2,22.7 42.2,22.2 44.2,23 46.2,22.4 48.2,22.8 49,23.5 50.2,23.4 52.2,23.4 54.2,23.4 56.2,23.3 57.7,24 58.2,23.8 60.2,25.3 61.1,26.3 62.2,26.3 62.9,26.8 64,29.2 64.2,30.1 64.8,31.7 65.4,34.6 65.8,39.5 66.2,44.2 66.2,44.8 66.6,50.1 66.9,58.6 67.1,68.3 67.4,81.6 67.5,87.7 67.5,91.5 67.6,94.3 67.6,98 67.6,101.6 67.6,102 67.7,107 67.7,111.6 67.8,117.1 67.8,122.4 67.8,129 67.9,132.6 67.9,135.2 67.9,140.2 68,143.7 68,143.7 68,140.4 68.1,135.2 68.1,132.8 68.1,129.8 68.2,122.6 68.2,118.5 68.2,117.3 68.2,112.2 68.3,106.7 68.3,102.9 68.3,101.6 68.4,98.1 68.4,94.2 68.4,91 68.5,88 68.6,82.4 68.8,68.1 69.1,58.2 69.4,50.5 69.7,44.3 70.1,39.5 70.2,39 70.6,35 71.2,31.5 72,29.6 72.2,28.4 73.1,27 74.2,25.6 74.9,25.3 76.2,24.4 78.2,23.9 78.2,23.9 80.2,24.4 82.2,23.5 84.2,23.6 86.2,23.9 86.9,23.3 88.2,23.9 90.2,23.1 92.2,22.8 94.2,23.5 96.2,23 98.2,23.1 100.2,23.1 102.2,23.7 104.2,23 106.2,23.2 108.2,23 110.2,23.2 112.2,22.9 114.2,23.2 116.2,23 118.2,22.8 120.2,23.2 122.2,23 124.2,23.3 126.2,23.2 128.2,23.6 130.2,23.2 132.2,23.1 134.2,23.6 136.2,23.3 138.2,23.5 140.2,24.1 142.2,23.6 144.2,23.3 146.2,24 148.2,24.5 150.2,23.9 152.2,24.2 154.2,23.4 156.2,24.2 158.2,24.2 160.2,24.5 162.2,24.2 164.2,24.6 166.2,24.7 168.2,24.5 170.2,24.8 172.2,24.1 174.2,25 176.2,24.7 178.2,25 180.2,25.2 182.2,24.2 184.2,25.6 186.2,24.4 188.2,25.4 190.2,24.9 192.2,24.2 194.2,25.8 196,25.6 196.2,24.7 198.2,25.1 200.2,25.5 202.2,25.5 204.2,26.1 204.7,25.8 206.2,25.7 208,27.1 208.2,27.1 209.8,28.3 210.2,28.7 210.9,31 211.7,33.5 212.2,36.6 212.3,37.2 212.8,41.2 213.2,46.3 213.5,52.9 213.8,60.7 214.1,70 214.2,76.3 214.3,82.6 214.4,89 214.4,91.8 214.5,94.8 214.5,98.2 214.6,101.5 214.6,102.2 214.6,105.6 214.6,110.6 214.7,115.2 214.7,120.3 214.8,124.4 214.8,127.5 214.8,128.3 214.8,132.6 214.9,134.3 214.9,134.3 215,132 215,129.4 215,126.8 215,124.6 215.1,119.9 215.1,115.2 215.2,110.7 215.2,106.4 215.2,103 215.3,101.3 215.3,98.5 215.3,95.4 215.4,91.9 215.4,88 215.5,82.8 215.7,70 216,59.4 216.2,55.2 216.3,52.4 216.6,46.3 217,41.2 217.5,36.7 218.1,33.4 218.2,33.5 218.9,30.9 220,28.6 220.2,28.6 221.8,27 222.2,27 224.2,26.3 225.1,25.8 226.2,26 228.2,25.3 230.2,25.3 232.2,25.5 233.9,25.4 234.2,25.3 236.2,25.2" stroke="#c42818" stroke-width="1.4"/>
<polyline points="36.2,21.4 38.2,21.7 40.2,21.6 42.2,20.8 44.2,21.5 46.2,21.5 48.2,22.1 49.1,21.8 50.2,21.3 52.2,22.1 54.2,22 56.2,22.2 57.8,22.7 58.2,22.5 60.2,23.6 61.1,24 62.2,25.3 62.9,25 64,28 64.2,28.5 64.8,30.3 65.4,34.4 65.9,38.4 66.2,42.6 66.3,43.4 66.6,49.8 66.9,57.2 67.2,67.4 67.4,80.9 67.5,86.9 67.6,89.9 67.6,93.4 67.6,96.6 67.7,99.8 67.7,100.8 67.7,105.5 67.8,109.6 67.8,115.2 67.8,120.1 67.9,125.8 67.9,129.3 67.9,131.5 68,136 68,137.7 68,138.4 68.1,135.6 68.1,130.6 68.1,129 68.2,125.2 68.2,121.2 68.2,120.3 68.2,113.5 68.3,109.6 68.3,105 68.4,100.6 68.4,99.7 68.4,97.1 68.4,93 68.5,89.8 68.5,86.4 68.6,80.7 68.9,67.6 69.1,57.7 69.4,50.5 69.8,43.1 70.2,38.9 70.2,38.2 70.6,33.7 71.2,31 72,28 72.2,27.8 73.2,25.8 74.2,24.9 74.9,24.5 76.2,23.3 78.2,23.3 78.3,23.6 80.2,23 82.2,22.6 84.2,23 86.2,22.3 87,22.3 88.2,21.8 90.2,22.7 92.2,22.2 94.2,23 96.2,22.6 98.2,22.4 100.2,22.3 102.2,22.5 104.2,22.5 106.2,22.7 108.2,22.6 110.2,22.4 112.2,22.3 114.2,22.3 116.2,22.2 118.2,22.1 120.2,23.2 122.2,22.8 124.2,22.7 126.2,22.9 128.2,22.3 130.2,22.5 132.2,22.8 134.2,22.7 136.2,22.4 138.2,23 140.2,23 142.2,22.6 144.2,22.8 146.2,22.5 148.2,22.9 150.2,22.8 152.2,23.3 154.2,23.5 156.2,23.2 158.2,24.1 160.2,23.2 162.2,23 164.2,23.4 166.2,23.5 168.2,23.1 170.2,23.5 172.2,23.2 174.2,22.9 176.2,23.4 178.2,23.4 180.2,23.5 182.2,23.7 184.2,23.7 186.2,23.8 188.2,23.5 190.2,24.5 192.2,24.1 194.2,23.8 196.2,24.4 196.3,24.1 198.2,24.4 200.2,24.2 202.2,24.2 204.2,24.3 204.9,24.7 206.2,25.5 208.2,26 208.3,25.9 210.1,27.3 210.2,28.7 211.2,29.9 212,33.3 212.2,33.6 212.6,36 213.1,40.1 213.4,45 213.8,51.5 214.1,59.5 214.2,62.9 214.4,68.9 214.6,82.6 214.7,88.7 214.7,92.2 214.8,94.7 214.8,98.9 214.9,102.1 214.9,102.9 214.9,107.3 214.9,111.7 215,116.2 215,121.8 215.1,127.1 215.1,130.4 215.1,133.3 215.1,137.4 215.2,139.7 215.2,139.4 215.3,137.9 215.3,133.3 215.3,130.9 215.3,127.5 215.4,122.2 215.4,116.4 215.5,111.8 215.5,107.6 215.5,102.6 215.5,101.9 215.6,98.4 215.6,94.7 215.7,91.6 215.7,88.7 215.8,82.9 216,69.8 216.2,63 216.3,59 216.6,51.4 216.9,44.7 217.3,40.4 217.8,36.8 218.2,33.6 218.4,32.4 219.2,30.4 220.2,28.6 220.3,27.8 222.1,26 222.2,26.6 224.2,25.5 225.4,25.3 226.2,25.3 228.2,25.1 230.2,24.5 232.2,24.6 234.1,24.7 234.2,25.3 236.2,23.8" stroke="#d84018" stroke-width="1.4"/>
<polyline points="36.2,21.4 38.2,22.1 40.2,22 42.2,21.9 44.2,21.1 46.2,22.4 48.2,21.8 49.1,22.2 50.2,21.9 52.2,21.9 54.2,22.2 56.2,22.4 57.8,22.7 58.2,23.1 60.2,23.6 61.2,24.6 62.2,25 62.9,26 64.1,28 64.2,28 64.9,30.6 65.5,33.9 65.9,37.9 66.2,42.2 66.3,43.2 66.7,49.6 67,57.3 67.2,67.7 67.5,80.4 67.6,86.4 67.6,89.5 67.7,93.3 67.7,96.7 67.7,99.7 67.7,100.2 67.8,104.8 67.8,109.8 67.9,114.9 67.9,120.4 67.9,126 68,129.6 68,131.4 68,136.5 68.1,139.3 68.1,138.9 68.1,136.3 68.2,131.5 68.2,130.2 68.2,128.4 68.2,125.9 68.3,120.2 68.3,114.6 68.3,109.6 68.4,105.2 68.4,100 68.4,100.2 68.5,96.4 68.5,92.5 68.5,89.9 68.6,86.6 68.7,80.9 68.9,67 69.2,57.5 69.5,49.9 69.8,42.9 70.2,38.3 70.2,38.6 70.7,33.8 71.3,30.7 72.1,27.2 72.2,27.2 73.2,26.1 74.2,25 75,24.6 76.2,23.7 78.2,23.2 78.3,22.9 80.2,22.9 82.2,23.3 84.2,23 86.2,22.2 87,22.3 88.2,22.7 90.2,22.7 92.2,22.7 94.2,22.7 96.2,23.3 98.2,22.4 100.2,23 102.2,22.7 104.2,23.6 106.2,22.8 108.2,22.4 110.2,23.6 112.2,22.4 114.2,22.8 116.2,23.2 118.2,23.5 120.2,22.6 122.2,23 124.2,22.9 126.2,23.2 128.2,23.4 130.2,22.8 132.2,23.4 134.2,22.8 136.2,23.7 138.2,23.5 140.2,23.7 142.2,22.8 144.2,23.8 146.2,23.6 148.2,23 150.2,23.1 152.2,22.5 154.2,22.6 156.2,23.1 158.2,23 160.2,23.9 162.2,23.6 164.2,23.4 166.2,23.4 168.2,23.8 170.2,23.7 172.2,23.7 174.2,23.1 176.2,23.4 178.2,23.7 180.2,23.7 182.2,23.5 184.2,23.9 186.2,23.8 188.2,24.4 190.2,23.7 192.2,23.6 194.2,23.9 196.2,24 196.3,24 198.2,23.6 200.2,24.4 202.2,25.1 204.2,25.3 205,24.9 206.2,25.1 208.2,26 208.3,26.1 210.1,28 210.2,28.7 211.2,30.5 212,33.6 212.2,33.9 212.6,36.9 213.1,40.6 213.5,45.7 213.8,52.5 214.1,59.3 214.2,61 214.4,69.9 214.7,82.6 214.8,88.4 214.8,91.8 214.8,94.7 214.9,98.5 214.9,101.2 214.9,102.3 215,106.5 215,110.8 215,115.5 215.1,120.7 215.1,126 215.1,129.1 215.2,130.9 215.2,134.9 215.2,137 215.3,137 215.3,134.7 215.4,130.7 215.4,129 215.4,125.3 215.4,120.3 215.5,115.9 215.5,110.8 215.6,106.6 215.6,102.4 215.6,101.6 215.6,98.7 215.7,95.4 215.7,92.5 215.8,88.6 215.8,82.3 216.1,69.8 216.2,65.2 216.4,59.8 216.7,51.8 217,46 217.4,40.8 217.9,36.6 218.2,35.3 218.5,33.1 219.3,30.5 220.2,29.4 220.4,28.1 222.2,26.7 222.2,26.6 224.2,25.7 225.5,25.7 226.2,25.8 228.2,25.3 230.2,25.2 232.2,24.2 234.2,24.3 234.2,25.1 236.2,25" stroke="#c83420" stroke-width="1.4"/>
<polyline points="36.2,22 38.2,21.8 40.2,21.5 42.2,21.5 44.2,21.9 46.2,22.5 48.2,22 49.1,21.9 50.2,22.2 52.2,22.5 54.2,22.4 56.2,22.8 57.8,23.5 58.2,23.2 60.2,24.4 61.1,24.1 62.2,25.1 62.9,26.4 64,28.2 64.2,28.4 64.8,31.8 65.4,34.5 65.9,38.1 66.2,43.1 66.3,43.8 66.6,50.5 66.9,57.8 67.2,68.5 67.4,81.9 67.5,87.6 67.6,90.5 67.6,93.9 67.6,97.6 67.7,100.6 67.7,101.6 67.7,106.1 67.8,111.6 67.8,116.8 67.8,121.6 67.9,128.2 67.9,132.9 67.9,135.1 68,140.7 68,144.8 68,144 68.1,141.3 68.1,135.5 68.1,132.2 68.2,129.8 68.2,123.6 68.2,123.3 68.2,117.1 68.3,111.4 68.3,106.6 68.4,101.9 68.4,101.4 68.4,97.9 68.4,94.5 68.5,90.8 68.5,88 68.6,81 68.9,68.2 69.1,57.5 69.4,50.2 69.8,43.9 70.2,38.3 70.2,38.3 70.6,35.2 71.2,31 72,29.4 72.2,27.9 73.2,26.4 74.2,25.6 74.9,24.6 76.2,24.1 78.2,22.7 78.3,23.6 80.2,22.4 82.2,22.4 84.2,23 86.2,23 87,22.2 88.2,22.6 90.2,22.5 92.2,22.6 94.2,22.8 96.2,22.5 98.2,22.7 100.2,22.8 102.2,22.4 104.2,21.6 106.2,21.7 108.2,22.2 110.2,22.1 112.2,22 114.2,21.7 116.2,22.1 118.2,22.3 120.2,22.3 122.2,21.8 124.2,21.3 126.2,22.5 128.2,23 130.2,22.1 132.2,22.4 134.2,22.4 136.2,22.1 138.2,22.5 140.2,23.1 142.2,23.4 144.2,22.8 146.2,23.2 148.2,22.8 150.2,23.4 152.2,23.2 154.2,23.7 156.2,23.3 158.2,23.5 160.2,23.2 162.2,23 164.2,23.6 166.2,23.9 168.2,23 170.2,23.6 172.2,23.6 174.2,23.6 176.2,23.4 178.2,23.6 180.2,23.7 182.2,23.7 184.2,24.3 186.2,24.3 188.2,24.1 190.2,24.1 192.2,24.2 194.2,24.1 196.1,24.2 196.2,24.4 198.2,24.9 200.2,24.1 202.2,24.4 204.2,25.1 204.8,24.8 206.2,25.1 208.1,26.1 208.2,26.8 209.9,28.1 210.2,28.4 211,29.3 211.8,32.9 212.2,34.8 212.4,36.4 212.9,40.3 213.3,45.1 213.6,52.1 213.9,60.1 214.2,68.8 214.2,69.6 214.4,82.5 214.5,87.9 214.6,91 214.6,95.3 214.6,98.2 214.7,101.1 214.7,102.3 214.7,106.3 214.8,110.4 214.8,115.7 214.8,121.2 214.9,126.3 214.9,129.9 214.9,131 215,136.1 215,137.6 215,138.6 215.1,135.6 215.1,131.9 215.1,129.6 215.2,126 215.2,120.6 215.2,115.4 215.3,111 215.3,106.4 215.4,102.1 215.4,101.2 215.4,98.5 215.4,94.4 215.5,91.3 215.5,87.9 215.6,82.1 215.9,68.8 216.1,59.4 216.2,57.4 216.4,51.8 216.8,45.3 217.2,40.2 217.6,35.7 218.2,33.2 218.2,31.4 219,29.9 220.2,27.2 220.2,27.2 221.9,26.8 222.2,25.9 224.2,24.5 225.3,25.6 226.2,24.3 228.2,24.7 230.2,24.4 232.2,24 234,24.7 234.2,24 236.2,24.2" stroke="#d0301a" stroke-width="1.4"/>
<polyline points="36.2,18.9 38.2,18.6 40.2,19.1 42,18.9 42.2,19.3 44.2,18.5 46.2,20 48.2,19.5 50.2,19.8 50.7,20 52.2,20.8 54.1,21.7 54.2,21.4 55.8,22.9 56.2,23.9 57,25.5 57.8,27.7 58.2,29.8 58.4,31.5 58.8,35.7 59.2,40.7 59.6,45.8 59.9,54.3 60.1,64.3 60.2,66.5 60.4,76.9 60.5,83.2 60.5,87.2 60.6,90.1 60.6,93.8 60.6,96.8 60.6,97.9 60.7,101.9 60.7,106.7 60.8,111.1 60.8,116.5 60.8,122.4 60.9,125.9 60.9,127.3 60.9,131.3 61,133.9 61,134.1 61,132.7 61.1,127.4 61.1,125.4 61.1,122.1 61.2,117 61.2,111.5 61.2,106.6 61.3,100.9 61.3,97.4 61.3,96.9 61.4,93.7 61.4,90.1 61.4,86.7 61.5,83.8 61.6,77.6 61.8,64 62.1,54.1 62.2,51.3 62.4,46.3 62.7,40.4 63.1,35.8 63.6,31.9 64.2,28.2 65,25.2 66.1,22.9 66.2,22.5 67.9,21.6 68.2,21.5 70.2,20.2 71.2,19.8 72.2,20.2 74.2,19.7 76.2,19.2 78.2,19.5 79.9,19.5 80.2,20.2 82.2,19 84.2,19.2 86.2,19.4 88.2,19.6 90.2,19.9 92.2,19.5 94.2,19.5 96.2,19.1 98.2,20 100.2,19.1 102.2,19.6 104.2,19.2 106.2,20 108.2,19.6 110.2,19.3 112.2,19.8 114.2,20.3 116.2,20 118.2,19.7 120.2,20.4 122.2,20.5 124.2,20 126.2,20.4 128.2,19.9 130.2,20.6 132.2,20.8 134.2,20.5 136.2,19.8 138.2,20.6 140.2,20.4 142.2,20.3 144.2,20.7 146.2,20.1 148.2,20.4 150.2,20.3 152.2,21.1 154.2,21.2 156.2,21.5 158.2,20.7 160.2,20.7 162.2,20.4 164.2,20.1 166.2,20.8 168.2,20.8 170.2,20.6 172.2,20.2 174.2,21.1 176.2,20.6 178.2,20.9 180.2,21 182.2,20.6 184.2,21.2 186.2,21.4 188.2,20.8 189.3,21.1 190.2,21.2 192.2,21.3 194.2,21.2 196.2,21.7 198,21.6 198.2,21.8 200.2,22.1 201.3,22.7 202.2,23.5 203.1,24.9 204.2,27 204.2,27.2 205,28.8 205.6,33.2 206.1,37.1 206.2,38.4 206.5,42.8 206.8,48.8 207.1,56.3 207.4,66.4 207.6,79.5 207.7,85.1 207.7,87.5 207.8,90.9 207.8,94.6 207.9,97.5 207.9,98.9 207.9,102 207.9,106.4 208,111.4 208,115.6 208.1,120.4 208.1,123.2 208.1,125 208.1,128.3 208.2,130.4 208.2,130.2 208.2,130 208.3,128 208.3,124.7 208.3,123.1 208.3,119.6 208.4,116.3 208.4,110.6 208.5,106.4 208.5,102.3 208.5,98.5 208.5,97.6 208.6,95 208.6,91.6 208.7,88 208.7,85.5 208.8,78.8 209,65.7 209.3,57.4 209.6,49.1 209.9,42.3 210.2,38.9 210.3,37.3 210.8,33.1 211.4,29.6 212.2,26.9 212.2,26.5 213.3,25 214.2,23.7 215.1,23.9 216.2,22.9 218.2,22.7 218.4,21.8 220.2,21.2 222.2,21.6 224.2,22.2 226.2,21.7 227.1,21.7 228.2,21.6 230.2,21.3 232.2,21.3 234.2,22.6 236.2,21.2" stroke="#eeb4a0" stroke-width="0.9"/>
<polyline points="36.2,20.2 38.2,20 40.2,20.6 42.2,20.8 44.2,20.1 46.2,20.9 46.6,20.2 48.2,20.7 50.2,20.8 52.2,21.1 54.2,21.2 55.3,21.6 56.2,21.9 58.2,22.5 58.6,22.9 60.2,23.9 60.4,24.3 61.6,26.6 62.2,28.7 62.3,29.3 62.9,32 63.4,36.8 63.8,42.1 64.2,48.2 64.2,48.9 64.5,55.9 64.7,65.8 65,79.2 65.1,85.2 65.1,88.3 65.1,91.6 65.2,96 65.2,99 65.2,100.4 65.3,103.5 65.3,108.2 65.3,113.3 65.4,119.2 65.4,124.7 65.4,128.6 65.5,130.9 65.5,136.3 65.5,139.1 65.6,139 65.6,135.5 65.7,130.3 65.7,128.8 65.7,125 65.7,119.2 65.8,114 65.8,109.2 65.9,104.1 65.9,100 65.9,98.8 65.9,95.5 66,91.9 66,88.5 66.1,85.1 66.1,79.5 66.2,75.8 66.4,66.4 66.7,55.8 67,47.9 67.3,42.1 67.7,37.3 68.2,32.4 68.2,32.7 68.8,29 69.6,26.2 70.2,25.1 70.7,24.3 72.2,22.5 72.5,22.5 74.2,22.2 75.8,21.4 76.2,21.2 78.2,21 80.2,20.9 82.2,20.9 84.2,20.8 84.5,21.1 86.2,21.2 88.2,20.3 90.2,20.9 92.2,20.6 94.2,21.2 96.2,20.7 98.2,21.1 100.2,19.8 102.2,21.2 104.2,21.2 106.2,20.6 108.2,20.6 110.2,21.8 112.2,21 114.2,20.8 116.2,21.6 118.2,21 120.2,21.5 122.2,21.7 124.2,21.5 126.2,21.6 128.2,22 130.2,20.8 132.2,21.8 134.2,22 136.2,21.5 138.2,21.8 140.2,21.4 142.2,22 144.2,21.8 146.2,21.9 148.2,21.9 150.2,22.1 152.2,22.1 154.2,21.5 156.2,22.3 158.2,22.3 160.2,22.2 162.2,21.9 164.2,21.9 166.2,21.8 168.2,22.6 170.2,22 172.2,22.2 174.2,22.2 176.2,22 178.2,22.8 180.2,22 182.2,22.1 184.2,22.6 186.2,22.2 188.2,21.7 190.2,22.4 192.2,22.1 194.1,22.4 194.2,22.6 196.2,22.8 198.2,22.7 200.2,22.3 202.2,22.8 202.8,23.4 204.2,23.2 206.1,24.4 206.2,24.7 207.9,25.9 208.2,26.9 209,28.8 209.8,30.6 210.2,33.7 210.4,34.3 210.9,39.1 211.3,43.7 211.6,50 211.9,57.8 212.2,68.3 212.2,67.9 212.4,80.8 212.5,87.2 212.6,90 212.6,93 212.7,97.1 212.7,99.9 212.7,101.2 212.7,104.9 212.8,109.4 212.8,113.7 212.9,119.5 212.9,125.1 212.9,128 212.9,130.8 213,134.5 213,137.7 213.1,137.7 213.1,134.5 213.1,130.4 213.1,128 213.2,125.8 213.2,119.8 213.3,114.8 213.3,109.7 213.3,105.7 213.4,100.5 213.4,99.9 213.4,97.3 213.5,93.8 213.5,90.3 213.5,86.4 213.6,80.9 213.9,67.7 214.1,57.5 214.2,56 214.4,49.9 214.8,43.5 215.2,38.6 215.6,34.3 216.2,31.8 216.2,31.2 217,28.6 218.2,26.3 218.2,26.3 220,24.9 220.2,24.7 222.2,23.5 223.3,23.8 224.2,23.9 226.2,23.1 228.2,22.9 230.2,23.2 232,23.1 232.2,23.4 234.2,23.2 236.2,22.8" stroke="#9a1c12" stroke-width="1.4"/>
<polyline points="36.2,20.8 38.2,21.4 40.2,21.3 42.2,22 44.2,21.3 46.2,21.5 47.7,21.4 48.2,21.7 50.2,21.9 52.2,21.7 54.2,22.6 56.2,22.5 56.4,22.4 58.2,23.5 59.7,24.4 60.2,24.2 61.5,25.6 62.2,26.6 62.7,27.6 63.4,30.9 64,33.9 64.2,34.8 64.5,38.3 64.9,43.3 65.3,49.8 65.6,56.9 65.8,66.3 66.1,80.6 66.2,85.9 66.2,88.6 66.2,89.4 66.2,92.6 66.3,96.4 66.3,99.4 66.3,99.8 66.4,103.8 66.4,108.5 66.4,113 66.5,118.3 66.5,123.9 66.5,126.3 66.6,128 66.6,132.7 66.6,134.2 66.7,134.7 66.7,132.5 66.8,127.8 66.8,127.4 66.8,124.1 66.8,118.2 66.9,113.4 66.9,108.9 67,103.6 67,99.8 67,99.6 67,96.3 67.1,92.3 67.1,88.6 67.2,86.9 67.3,80.1 67.5,67.1 67.8,57.7 68.1,49.4 68.2,47.4 68.4,43.4 68.8,37.6 69.3,33.8 69.9,30.3 70.2,29.1 70.7,27.7 71.8,25.3 72.2,25.6 73.6,24.1 74.2,23.4 76.2,23.2 76.9,23 78.2,22.2 80.2,21.8 82.2,22.4 84.2,22.4 85.6,21.8 86.2,21.9 88.2,22.2 90.2,21.7 92.2,21.7 94.2,21.8 96.2,20.8 98.2,21.4 100.2,21.5 102.2,21.5 104.2,20.8 106.2,21.5 108.2,22.1 110.2,21.8 112.2,21.9 114.2,22.1 116.2,21.9 118.2,21.9 120.2,22.1 122.2,22.3 124.2,21.9 126.2,22.8 128.2,22 130.2,22.3 132.2,22.3 134.2,23.3 136.2,22 138.2,23.2 140.2,22.9 142.2,22.5 144.2,23 146.2,23 148.2,23.7 150.2,23.1 152.2,22.9 154.2,22.8 156.2,23.2 158.2,23.1 160.2,23.1 162.2,23.5 164.2,23.5 166.2,22.7 168.2,23.6 170.2,23 172.2,23.4 174.2,22.9 176.2,23.7 178.2,23.3 180.2,23.4 182.2,23.6 184.2,23.4 186.2,23.8 188.2,23.6 190.2,23.7 192.2,23.3 194.2,23.7 194.8,24.1 196.2,23.8 198.2,23.8 200.2,24.2 202.2,23.7 203.5,24.2 204.2,24.2 206.2,25.4 206.9,25.7 208.2,26.3 208.6,27.7 209.8,29.3 210.2,30.7 210.6,32.3 211.2,35.5 211.6,40 212,44.6 212.2,48 212.4,51.4 212.7,58.2 212.9,68.8 213.2,82.5 213.3,87.5 213.3,91.1 213.4,95.4 213.4,97.8 213.4,100.5 213.4,101.5 213.5,105.2 213.5,110.3 213.6,114.9 213.6,120.6 213.6,125.4 213.7,128 213.7,130.3 213.7,134.5 213.8,137.6 213.8,137 213.8,134.9 213.9,130 213.9,128.9 213.9,125.2 214,120.4 214,114.3 214,110.5 214.1,105.6 214.1,100.6 214.1,100.8 214.2,97.9 214.2,93.9 214.2,93.4 214.2,90.5 214.3,88.4 214.4,81.7 214.6,69.3 214.9,58 215.2,50.9 215.5,44.9 215.9,39.5 216.2,36.9 216.4,35.9 217,31.6 217.8,29.5 218.2,29.1 218.9,26.8 220.2,25.4 220.7,25.2 222.2,24.7 224,24.8 224.2,24.1 226.2,23.5 228.2,23.8 230.2,23.4 232.2,24.2 232.7,23.6 234.2,23.6 236.2,24.4" stroke="#a82418" stroke-width="1.4"/>
<polyline points="36.2,20.9 38.2,20.7 40.2,20.7 42.2,21 44.2,20.9 46.2,21.2 47.4,20.8 48.2,21.2 50.2,20.6 52.2,21.3 54.2,21.4 56.1,22.1 56.2,22 58.2,22.4 59.5,23 60.2,23.8 61.3,25.1 62.2,26.5 62.4,26.9 63.2,29.5 63.8,32.7 64.2,36.9 64.2,37.9 64.6,42.4 65,49.2 65.3,56.8 65.5,65.9 65.8,79.5 65.9,85.8 65.9,89 66,92.1 66,96.4 66,98.9 66,99.8 66.1,103.4 66.1,109.1 66.2,113.5 66.2,118.4 66.2,118.9 66.2,125.3 66.3,128.4 66.3,130.7 66.3,135.6 66.4,138.2 66.4,138.1 66.4,135.3 66.5,130.2 66.5,128.3 66.5,126.1 66.6,119.6 66.6,114.7 66.6,109 66.7,104 66.7,100.3 66.7,99.5 66.8,95.9 66.8,92.4 66.8,88.3 66.9,85.6 67,79.5 67.2,65.7 67.5,56.5 67.8,48.6 68.1,42.7 68.2,41.4 68.5,37 69,32.7 69.6,29.8 70.2,27.9 70.4,27.3 71.5,25.4 72.2,24.1 73.3,22.8 74.2,23.7 76.2,23 76.6,21.7 78.2,22.6 80.2,21.7 82.2,22.2 84.2,21.5 85.3,21.5 86.2,21.7 88.2,21.5 90.2,21.8 92.2,21.7 94.2,21.3 96.2,21.6 98.2,22.2 100.2,22.3 102.2,22.2 104.2,22.2 106.2,22.2 108.2,22.4 110.2,22 112.2,22.3 114.2,22.2 116.2,22.4 118.2,22.2 120.2,22.8 122.2,21.9 124.2,22.3 126.2,22.3 128.2,22.3 130.2,22.1 132.2,22.2 134.2,22.4 136.2,22.5 138.2,23 140.2,22.4 142.2,22.6 144.2,22.5 146.2,21.6 148.2,23.1 150.2,22.4 152.2,22 154.2,22 156.2,21.9 158.2,22.8 160.2,22.7 162.2,22.2 164.2,22.5 166.2,21.8 168.2,22.3 170.2,22.4 172.2,22.3 174.2,22.6 176.2,22.5 178.2,22.8 180.2,22.6 182.2,22.8 184.2,22.6 186.2,23.3 188.2,23.4 190.2,22.8 192.2,23 194.2,23.5 194.6,23.3 196.2,23.7 198.2,22.8 200.2,24.3 202.2,23.4 203.3,24.5 204.2,24.3 206.2,25.4 206.7,25.7 208.2,26.6 208.5,27 209.6,29.6 210.2,31.8 210.4,31.5 211,35.2 211.4,39.8 211.8,45 212.2,51 212.2,51.5 212.5,58.4 212.8,69.1 213,81.9 213.1,88.2 213.1,90.6 213.2,93.7 213.2,97.9 213.2,100.7 213.3,101.2 213.3,106 213.3,110.7 213.4,114.8 213.4,120 213.5,125.4 213.5,127.8 213.5,130.2 213.5,134.9 213.6,136.5 213.6,136.6 213.7,133.5 213.7,130.1 213.7,128.5 213.7,125.1 213.8,120 213.8,115.5 213.9,110.2 213.9,105.9 213.9,101.1 213.9,100 214,98.2 214,94.6 214.1,91.2 214.1,88.1 214.2,82.3 214.2,80.6 214.4,68.4 214.7,59.4 215,51.7 215.3,45.6 215.7,39.6 216.2,35.4 216.2,36.3 216.8,33 217.6,29.7 218.2,28 218.7,27.2 220.2,26.1 220.5,25.7 222.2,25.1 223.8,25 224.2,24.1 226.2,24.6 228.2,24.8 230.2,24.5 232.2,24.8 232.5,24.3 234.2,23.9 236.2,24.7" stroke="#8e1810" stroke-width="1.4"/>
<polyline points="36.2,21 38.2,20.7 40.2,20.7 42.2,20.5 44.2,21.2 46.2,20.2 47.1,20.6 48.2,20.7 50.2,21.4 52.2,20.7 54.2,21.7 55.8,21.3 56.2,21.6 58.2,22.9 59.2,23.3 60.2,23.3 61,24.5 62.1,27.1 62.2,27.3 62.9,29.8 63.5,33.5 64,37.5 64.2,40.7 64.3,42.6 64.7,48.6 65,56.9 65.3,66.2 65.5,79.9 65.6,85.7 65.6,88.8 65.7,92.1 65.7,95.9 65.7,99.1 65.8,100.2 65.8,104.3 65.8,109.6 65.9,114.6 65.9,119.9 66,126 66,129.7 66,132.2 66,136.4 66.1,140.1 66.1,139.8 66.2,137 66.2,131.6 66.2,131 66.2,130 66.2,126.8 66.3,120.4 66.3,115.1 66.4,109.3 66.4,104.2 66.4,101.1 66.4,99.9 66.5,96.2 66.5,92.2 66.6,89.1 66.6,85.9 66.7,79.7 66.9,66.3 67.2,56 67.5,48.6 67.8,43 68.2,38.1 68.2,37.4 68.7,33.7 69.3,30.1 70.1,27.5 70.2,27.3 71.2,24.9 72.2,24.2 73,23.9 74.2,23.2 76.2,22.4 76.3,21.7 78.2,22 80.2,21.5 82.2,21.7 84.2,22.6 85,21.7 86.2,22.1 88.2,22.3 90.2,22.1 92.2,21.1 94.2,22.3 96.2,22 98.2,21.4 100.2,21.5 102.2,22.4 104.2,21.8 106.2,22 108.2,21.9 110.2,21.5 112.2,22 114.2,21.9 116.2,21.3 118.2,22.4 120.2,21.9 122.2,21.6 124.2,22.2 126.2,22 128.2,22.3 130.2,21.8 132.2,22.1 134.2,21.6 136.2,21.5 138.2,21.9 140.2,22 142.2,21.8 144.2,21.9 146.2,22.4 148.2,21.6 150.2,22 152.2,21.8 154.2,22.6 156.2,21.9 158.2,21.5 160.2,22 162.2,22.8 164.2,22.3 166.2,22.4 168.2,22.4 170.2,22.6 172.2,22.4 174.2,22.8 176.2,22.6 178.2,23 180.2,22.8 182.2,22.5 184.2,23.1 186.2,22.8 188.2,23.4 190.2,23.3 192.2,23.3 194.2,22.9 194.4,23.6 196.2,23 198.2,24.1 200.2,23.8 202.2,23.7 203.1,24 204.2,24.9 206.2,25.7 206.4,25.1 208.2,27.6 208.2,26.9 209.3,29.5 210.1,32.1 210.2,31.6 210.7,34.9 211.2,39.3 211.6,45.1 211.9,50.7 212.2,57.6 212.2,58.6 212.5,67.9 212.8,82.2 212.8,87.3 212.9,90.4 212.9,94 213,96.6 213,100.7 213,101 213,105 213.1,110.2 213.1,114.6 213.2,119.3 213.2,123.6 213.2,126.6 213.2,128.3 213.3,132.2 213.3,135.2 213.4,134.4 213.4,132.5 213.4,128.2 213.5,126.3 213.5,123.2 213.5,118.8 213.6,113.9 213.6,109.9 213.6,105.1 213.7,101.5 213.7,100 213.7,97.7 213.8,93.9 213.8,90.8 213.8,87.7 213.9,81.4 214.2,68.6 214.2,67.5 214.5,58.9 214.8,50.4 215.1,44.9 215.5,39.3 216,34.7 216.2,34.8 216.6,32.5 217.4,29.4 218.2,27.2 218.5,27.4 220.2,25.5 220.3,25.8 222.2,24.5 223.6,24.8 224.2,24 226.2,25.1 228.2,24.5 230.2,23.1 232.2,23.6 232.3,24 234.2,22.8 236.2,23.2" stroke="#b02a18" stroke-width="1.4"/>
<polyline points="36.2,20.3 38.2,20.3 40.2,21 42.2,21 44.2,20.7 46.2,20.6 47.5,21 48.2,20.9 50.2,20.7 52.2,20.9 54.2,20.8 56.2,21.5 56.2,21.9 58.2,22.7 59.5,22.5 60.2,23.3 61.3,24.5 62.2,26.1 62.4,27.1 63.2,29.5 63.8,33.7 64.2,36 64.3,37.2 64.7,41.3 65,48 65.3,56 65.6,65.9 65.9,79.1 65.9,85.6 66,88.5 66,91.9 66.1,94.6 66.1,98.6 66.1,100.2 66.1,103.5 66.2,107.6 66.2,110.9 66.2,112.4 66.3,119.2 66.3,124.6 66.3,129 66.3,130.8 66.4,136 66.4,139 66.5,139.4 66.5,135.3 66.5,131.3 66.6,128.5 66.6,125.1 66.6,119.6 66.7,113.8 66.7,108.7 66.7,104.1 66.8,99.6 66.8,98.8 66.8,96 66.9,92.4 66.9,88.9 66.9,85.4 67,78.8 67.3,65.4 67.6,55.8 67.9,47.9 68.2,41.9 68.2,41.5 68.6,36.9 69.1,32.6 69.7,29.5 70.2,27.4 70.5,26 71.6,24.9 72.2,23.8 73.4,23.1 74.2,22.1 76.2,21.2 76.7,21.8 78.2,22.5 80.2,21.1 82.2,21 84.2,21.8 85.4,21.3 86.2,21.2 88.2,22 90.2,21 92.2,21.1 94.2,21.2 96.2,21.7 98.2,21.6 100.2,21.7 102.2,21.3 104.2,21.9 106.2,21.1 108.2,21.6 110.2,22.5 112.2,21.2 114.2,21.8 116.2,22.1 118.2,22 120.2,22.7 122.2,22 124.2,23 126.2,22.5 128.2,21.7 130.2,21.8 132.2,22.4 134.2,22.6 136.2,21.9 138.2,22.3 140.2,22.2 142.2,22.1 144.2,22.7 146.2,22 148.2,23 150.2,21.7 152.2,22.8 154.2,22.5 156.2,22.5 158.2,22 160.2,21.9 162.2,22.1 164.2,22 166.2,22 168.2,22.2 170.2,22.9 172.2,23 174.2,23 176.2,22.2 178.2,22.3 180.2,22.3 182.2,22.2 184.2,22.4 186.2,22.7 188.2,22.9 190.2,23.2 192.2,22.1 194.2,22.3 194.6,23.2 196.2,22.9 198.2,22.8 200.2,22.6 202.2,23.7 203.3,23.6 204.2,23.5 206.2,25.4 206.6,25.2 208.2,26.5 208.4,26.9 209.5,28.1 210.2,30.9 210.3,31.6 210.9,35.4 211.4,38.9 211.8,44.1 212.1,50.7 212.2,53 212.4,58.8 212.7,68.2 212.9,81.1 213,87.1 213,90.3 213.1,93.5 213.1,97.6 213.2,100.7 213.2,100.9 213.2,105.3 213.3,110.3 213.3,114.7 213.3,119.7 213.4,125 213.4,128.3 213.4,130.5 213.4,134.3 213.5,136.2 213.5,136.7 213.6,134.6 213.6,130 213.6,128.9 213.6,125 213.7,119.9 213.7,114.4 213.8,109.8 213.8,105 213.9,100.4 213.9,100.7 213.9,97.6 213.9,93.6 214,90.5 214,87.3 214.1,81.7 214.2,75.2 214.3,68.2 214.6,59.1 214.9,50.7 215.3,44.3 215.7,39 216.1,35.5 216.2,35.1 216.7,31.5 217.5,29.4 218.2,27.7 218.6,26.9 220.2,25.3 220.4,25.4 222.2,25.1 223.8,24 224.2,24.5 226.2,24.3 228.2,23.3 230.2,23.6 232.2,24.3 232.5,24.1 234.2,24 236.2,24.2" stroke="#a01e14" stroke-width="1.4"/>
<polyline points="36.2,20.8 38.2,20.5 40.2,20.7 42.2,20.3 44.2,20.5 46.2,21.1 47.8,20.9 48.2,20.1 50.2,21.2 52.2,20.9 54.2,21.4 56.2,21 56.5,21.6 58.2,22.2 59.8,23.2 60.2,23.1 61.6,24.2 62.2,25.2 62.7,27.2 63.5,28.9 64.1,32.9 64.2,33.8 64.6,36.9 65,42.3 65.3,48.4 65.6,56.2 65.9,65.9 66.1,79.1 66.2,82.9 66.2,84.6 66.3,88 66.3,90.6 66.4,94.3 66.4,97.5 66.4,98.2 66.4,101.9 66.5,106.8 66.5,111.7 66.6,116 66.6,122 66.6,124.2 66.6,125.6 66.7,129.5 66.7,131.1 66.8,131.4 66.8,129.5 66.8,126 66.9,123.7 66.9,121.5 66.9,116.6 67,111.3 67,106.7 67,101.8 67.1,98.6 67.1,98.4 67.1,94.5 67.2,90.8 67.2,88 67.2,84.4 67.3,78.3 67.6,66.1 67.8,56.2 68.1,48.7 68.2,47 68.5,41.8 68.9,36.9 69.4,33.4 70,29.9 70.2,29.1 70.7,27.4 71.9,25.2 72.2,24.9 73.7,23.2 74.2,22.7 76.2,21.9 77,22 78.2,22.1 80.2,21.6 82.2,21.3 84.2,21.6 85.7,21.4 86.2,21.6 88.2,21.6 90.2,21.5 92.2,21.9 94.2,21.1 96.2,22.1 98.2,21.4 100.2,22.1 102.2,21.1 104.2,21.3 106.2,22 108.2,21.9 110.2,22.1 112.2,21.8 114.2,21.6 116.2,20.9 118.2,22.3 120.2,21.4 122.2,22 124.2,21.7 126.2,21.5 128.2,21.7 130.2,21.7 132.2,21.9 134.2,21.9 136.2,21.8 138.2,21.5 140.2,22.4 142.2,22.1 144.2,22.3 146.2,22.3 148.2,22.2 150.2,21.5 152.2,21.2 154.2,21.5 156.2,22.4 158.2,22 160.2,22.4 162.2,21.9 164.2,21.6 166.2,21.9 168.2,21.8 170.2,22.2 172.2,22.9 174.2,23 176.2,22.3 178.2,22.1 180.2,21.9 182.2,22.6 184.2,22.5 186.2,22.5 188.2,22.3 190.2,22.8 192.2,23.2 194.2,22.5 194.9,22.8 196.2,22.9 198.2,23.6 200.2,23.4 202.2,24.3 203.6,24.6 204.2,24.1 206.2,24.9 207,25 208.2,25.7 208.8,26.9 209.9,28.4 210.2,30.2 210.7,31.6 211.3,35.7 211.7,39.3 212.1,44.5 212.2,45.4 212.5,50.4 212.8,59 213,68.1 213.3,81.5 213.4,87 213.4,89.9 213.5,93.4 213.5,96.8 213.5,100.2 213.5,100.2 213.6,104.6 213.6,108.5 213.7,113.7 213.7,117.4 213.7,122.9 213.8,125 213.8,127.1 213.8,130.3 213.9,132.5 213.9,132.3 213.9,130.6 214,126.6 214,125.2 214,122.5 214.1,117.4 214.1,113.6 214.1,108.4 214.2,104.5 214.2,103.8 214.2,100.4 214.2,99.9 214.3,96.2 214.3,93.6 214.3,90.1 214.4,87.1 214.5,81.9 214.7,68 215,58.7 215.3,50.2 215.6,43.9 216,39.5 216.2,38.4 216.5,35.3 217.1,31.9 217.9,29 218.2,28.6 219,27.5 220.2,25.9 220.8,25.8 222.2,24.2 224.1,24.6 224.2,24.5 226.2,24 228.2,24.3 230.2,23.9 232.2,23.7 232.8,23.8 234.2,23.7 236.2,23.2" stroke="#b8301a" stroke-width="1.4"/>
<polyline points="36.2,21 38.2,21.2 40.2,21.3 42.2,21.6 44.2,21.2 46.2,21.8 47.3,20.9 48.2,21.5 50.2,21.7 52.2,21.5 54.2,22.1 56,22.4 56.2,22.4 58.2,23.3 59.4,24 60.2,24.5 61.1,25 62.2,27.6 62.3,27.7 63.1,30.5 63.7,33.5 64.1,37.2 64.2,38.9 64.5,42.8 64.9,49.1 65.2,57 65.4,66.6 65.7,80.4 65.8,85.6 65.8,88.9 65.9,92.6 65.9,95.2 65.9,98.5 65.9,99.2 66,104.2 66,108.3 66.1,113.1 66.1,117.7 66.1,122.5 66.2,126.6 66.2,127.8 66.2,129.6 66.2,131.4 66.3,134.1 66.3,134.5 66.3,131.9 66.4,128.2 66.4,126.2 66.4,123 66.5,118.1 66.5,112.8 66.5,108.7 66.6,102.9 66.6,99.2 66.6,98.6 66.7,96.3 66.7,93 66.7,89.3 66.8,86 66.9,79.2 67.1,66.3 67.4,57.1 67.7,48.8 68,42.6 68.2,40.7 68.4,37.6 68.9,33.7 69.5,30.7 70.2,28.4 70.3,27.8 71.4,25.3 72.2,25.2 73.2,24.6 74.2,23.3 76.2,23.9 76.5,22.3 78.2,22.8 80.2,22.3 82.2,21.8 84.2,22.9 85.2,22.8 86.2,21.6 88.2,22.5 90.2,22.4 92.2,22.3 94.2,22 96.2,21.9 98.2,22.4 100.2,22.6 102.2,22.5 104.2,22.4 106.2,22 108.2,22.5 110.2,21.9 112.2,22.8 114.2,22.3 116.2,21.9 118.2,22.1 120.2,22.4 122.2,22.9 124.2,22.8 126.2,22.6 128.2,22.4 130.2,22.6 132.2,23.1 134.2,22.8 136.2,22.4 138.2,22.3 140.2,23.1 142.2,22.7 144.2,23.2 146.2,22.8 148.2,21.4 150.2,22.6 152.2,22.8 154.2,22.9 156.2,23.2 158.2,23.4 160.2,22.8 162.2,22.9 164.2,22.4 166.2,23.5 168.2,22.8 170.2,22.5 172.2,23.8 174.2,22.9 176.2,23.8 178.2,23.1 180.2,22.8 182.2,23.4 184.2,23.3 186.2,23.8 188.2,23.5 190.2,23.3 192.2,23.8 194.2,23.9 194.5,23.7 196.2,23.7 198.2,24.7 200.2,24.3 202.2,24.9 203.2,24.6 204.2,24.7 206.2,25.8 206.5,25.6 208.2,27.9 208.3,27.9 209.5,30.3 210.2,32.5 210.3,32.7 210.9,36.2 211.3,40.7 211.7,45.3 212.1,51.6 212.2,54.6 212.4,59.2 212.6,68.6 212.9,81.9 213,88.6 213,90.9 213,94.6 213.1,97.2 213.1,99.9 213.1,101.2 213.2,105 213.2,109.9 213.2,114.6 213.3,118.7 213.3,123.1 213.4,126.2 213.4,127.3 213.4,130.6 213.4,132.3 213.5,132 213.5,130.3 213.6,127.3 213.6,125.7 213.6,122.7 213.6,118.7 213.7,113.2 213.7,108.9 213.8,105.1 213.8,101.3 213.8,99.2 213.8,97.1 213.9,93.6 213.9,90.1 214,87.5 214.1,82 214.2,73.7 214.3,69.3 214.6,58.9 214.9,52 215.2,45.2 215.6,40.1 216.1,36.7 216.2,34.7 216.7,33.2 217.5,29.7 218.2,28.7 218.6,27.8 220.2,26.6 220.4,25.4 222.2,25.1 223.7,24.5 224.2,24.7 226.2,24.5 228.2,24.5 230.2,24.6 232.2,24.2 232.4,24.3 234.2,24.4 236.2,24.8" stroke="#9a1c12" stroke-width="1.4"/>
<polyline points="36.2,21.8 38.2,21.7 40.2,21.8 42.2,21.4 44.2,22.2 45.9,22.6 46.2,21.7 48.2,22.2 50.2,22.2 52.2,21.5 54.2,22.2 54.6,22.5 56.2,22.8 57.9,23.9 58.2,23.8 59.7,25.9 60.2,26.7 60.8,28 61.6,30 62.2,33.4 62.2,34.2 62.7,37.7 63.1,43.2 63.4,49 63.7,57.3 64,66.8 64.2,78.2 64.2,80.6 64.3,86.5 64.4,89.6 64.4,93.3 64.4,97.2 64.5,99.5 64.5,100.8 64.5,105.7 64.6,110.6 64.6,115.9 64.6,120.7 64.7,125.8 64.7,130.7 64.7,132.2 64.8,137.7 64.8,139.7 64.8,140 64.9,137.1 64.9,131.9 64.9,129.5 65,126.2 65,121 65,115.7 65.1,110.4 65.1,105.9 65.2,100.3 65.2,100.1 65.2,96.9 65.2,93.1 65.3,89.1 65.3,86.9 65.4,80.1 65.7,67 65.9,57.2 66.2,50.9 66.2,49.1 66.6,43.5 67,38.3 67.4,33.9 68,30.6 68.2,29.5 68.8,28.1 70,25.6 70.2,25.3 71.7,24 72.2,23.5 74.2,23.1 75.1,22.4 76.2,22.9 78.2,22.9 80.2,22.3 82.2,21.7 83.8,22.3 84.2,22.3 86.2,22.2 88.2,21.9 90.2,22 92.2,21.9 94.2,22.6 96.2,21.4 98.2,21.8 100.2,22.3 102.2,21.5 104.2,21.9 106.2,21.5 108.2,22.5 110.2,21.5 112.2,22.1 114.2,22.9 116.2,22 118.2,22.4 120.2,22.7 122.2,22.4 124.2,23.1 126.2,22.3 128.2,22.6 130.2,22.7 132.2,22.1 134.2,22.7 136.2,23 138.2,23.1 140.2,22.9 142.2,22.5 144.2,23.1 146.2,23.4 148.2,22.7 150.2,23.1 152.2,23.1 154.2,22.4 156.2,23.6 158.2,23.2 160.2,23.9 162.2,23.4 164.2,23.1 166.2,22.9 168.2,23.8 170.2,23.1 172.2,23.1 174.2,23.5 176.2,22.5 178.2,23.4 180.2,23.8 182.2,23.3 184.2,24.2 186.2,23 188.2,23.2 190.2,23.7 192.2,23.4 193.3,23.5 194.2,23 196.2,24 198.2,24.4 200.2,24.9 202,24.6 202.2,25.1 204.2,25.2 205.3,25.5 206.2,26.5 207.1,27.7 208.2,29 208.2,29.6 209,32.2 209.6,35.3 210.1,40.3 210.2,41.4 210.5,44 210.8,51.1 211.1,59.2 211.4,68.7 211.6,82 211.7,88.2 211.8,90.9 211.8,94.1 211.9,97.6 211.9,100.4 211.9,102 211.9,106 212,109.6 212,114.8 212.1,119.2 212.1,124.5 212.1,128.3 212.1,129.2 212.2,133.7 212.2,135 212.2,135.1 212.3,134.8 212.3,133.4 212.3,129.2 212.3,127.5 212.4,124.4 212.4,120.6 212.5,114.8 212.5,109.9 212.5,105.4 212.6,101.7 212.6,100.4 212.6,97.2 212.7,94.1 212.7,90.9 212.7,87.9 212.8,81.8 213.1,68.2 213.3,58.2 213.6,51.3 214,45.2 214.2,42.1 214.4,39.5 214.9,35.6 215.4,32.2 216.2,29.5 216.2,29.5 217.4,27.5 218.2,26.9 219.2,26 220.2,25.3 222.2,24.6 222.5,24.8 224.2,24.6 226.2,23.8 228.2,24.4 230.2,24.1 231.2,24.2 232.2,24.4 234.2,24.7 236.2,24.3" stroke="#a82418" stroke-width="1.4"/>
<polyline points="36.2,21.6 38.2,22.6 40.2,22.2 42.2,22.4 44.2,21.7 46.2,22.3 47.6,22.1 48.2,21.7 50.2,22.6 52.2,22.6 54.2,22.6 56.2,23.2 56.3,22.7 58.2,23.4 59.6,24 60.2,24.7 61.4,26.1 62.2,27.5 62.5,28.3 63.3,31.5 63.9,34.2 64.2,36.2 64.4,38.5 64.8,43.7 65.1,49.7 65.4,57.4 65.7,67.3 66,80 66,86.8 66.1,89.5 66.1,92.7 66.2,96.5 66.2,99.8 66.2,100.7 66.2,104.7 66.3,108.8 66.3,113.4 66.4,119.2 66.4,124.1 66.4,127.4 66.4,128.9 66.5,133.4 66.5,135.8 66.6,135.7 66.6,134.1 66.6,129.5 66.7,128.2 66.7,125.2 66.7,119.5 66.8,114.6 66.8,109.1 66.8,104.4 66.9,100.6 66.9,99.8 66.9,96.7 67,93.2 67,89.7 67,86.6 67.1,80.8 67.4,67.7 67.7,57.7 68,49.5 68.2,45.2 68.3,43 68.7,38.6 69.2,33.9 69.8,31.4 70.2,29.5 70.6,28.1 71.7,25.9 72.2,25.5 73.5,23.7 74.2,24 76.2,23.3 76.8,23.4 78.2,22.4 80.2,22.5 82.2,22.5 84.2,23.2 85.5,22.4 86.2,22.7 88.2,22.4 90.2,22.2 92.2,22.7 94.2,22.4 96.2,22.2 98.2,22.4 100.2,22.6 102.2,22.9 104.2,22.8 106.2,23 108.2,22.2 110.2,22.6 112.2,23.1 114.2,22.7 116.2,23.2 118.2,23.9 120.2,22.4 122.2,22.4 124.2,23.4 126.2,23.2 128.2,22.9 130.2,23.2 132.2,23.4 134.2,23.3 136.2,23.3 138.2,23.4 140.2,23.2 142.2,23.4 144.2,23.6 146.2,23.4 148.2,24 150.2,23 152.2,24.1 154.2,23.6 156.2,23.4 158.2,23.5 160.2,23.5 162.2,23.2 164.2,24.1 166.2,23.7 168.2,23.7 170.2,23.9 172.2,24 174.2,23.3 176.2,24.1 178.2,24 180.2,23.9 182.2,23.9 184.2,23.8 186.2,24 188.2,23.8 190.2,24 192.2,23.9 194.2,23.6 194.8,24.4 196.2,23.6 198.2,24.5 200.2,24.2 202.2,24.6 203.5,25 204.2,25.8 206.2,25.2 206.8,26.4 208.2,27.6 208.6,27.5 209.8,30 210.2,30.7 210.5,32.2 211.1,35.9 211.6,40.2 212,45.1 212.2,49 212.4,51.5 212.6,59.2 212.9,69.3 213.2,82.3 213.3,88.9 213.3,91.1 213.3,94.2 213.4,98.7 213.4,101.2 213.4,101.5 213.5,106 213.5,111 213.5,115.7 213.6,120.1 213.6,124.8 213.6,128.8 213.7,130.2 213.7,134.5 213.7,136.6 213.8,136.3 213.8,134.1 213.9,130.4 213.9,127.8 213.9,125.4 213.9,120.3 214,114.9 214,110.5 214.1,106.2 214.1,101.7 214.1,101.6 214.1,97.9 214.2,94.3 214.2,92.9 214.2,91.4 214.3,88.3 214.3,83 214.6,69.2 214.9,59.2 215.2,51.3 215.5,45.4 215.9,40.5 216.2,37.9 216.4,36.3 217,32.8 217.8,29.7 218.2,29.1 218.9,28.2 220.2,26.7 220.7,26.5 222.2,25.7 224,26 224.2,25.7 226.2,25.3 228.2,24.6 230.2,24.7 232.2,24.6 232.7,24.3 234.2,25 236.2,24.3" stroke="#8e1810" stroke-width="1.4"/>
<polyline points="36.2,20.4 38.2,21.1 40.2,20.5 42.2,20.5 44.2,19.7 46.2,20.2 46.8,20.7 48.2,21.2 50.2,20.8 52.2,21.5 54.2,21.3 55.5,21.5 56.2,21.9 58.2,22.4 58.8,22.9 60.2,24.2 60.6,24 61.7,26.5 62.2,28.4 62.5,29.7 63.1,32.8 63.6,36.8 64,41.7 64.2,45.8 64.3,48.1 64.6,56.4 64.9,65.2 65.1,78.8 65.2,84.9 65.2,87.9 65.3,92.2 65.3,95.4 65.4,98.5 65.4,98.7 65.4,103.8 65.4,108 65.5,112.3 65.5,117.8 65.6,123.5 65.6,125.9 65.6,129 65.6,132.7 65.7,135.4 65.7,135.1 65.8,132.8 65.8,128.6 65.8,126.5 65.8,123.6 65.9,117.7 65.9,112.7 66,107.4 66,103.3 66,99.2 66,98.2 66.1,94.7 66.1,92.2 66.2,88.1 66.2,85.2 66.2,85.6 66.3,79.5 66.5,65.7 66.8,56.3 67.1,48.5 67.5,41.5 67.8,37.3 68.2,34 68.3,33.6 68.9,29.8 69.7,27.1 70.2,25 70.8,24.1 72.2,23.6 72.6,22.2 74.2,21.9 76,21.7 76.2,21.4 78.2,21.2 80.2,21.4 82.2,21.6 84.2,21.2 84.6,20.9 86.2,21 88.2,21.1 90.2,20.4 92.2,21.1 94.2,20.4 96.2,20.9 98.2,20.7 100.2,21.1 102.2,20.7 104.2,21 106.2,21.3 108.2,20.8 110.2,20.8 112.2,20.5 114.2,20.7 116.2,21.2 118.2,21.1 120.2,21.8 122.2,21.4 124.2,20.6 126.2,20.6 128.2,20.9 130.2,21.1 132.2,21.1 134.2,21.2 136.2,22 138.2,21.8 140.2,21.1 142.2,21.2 144.2,21.6 146.2,21.8 148.2,21.9 150.2,22 152.2,22.2 154.2,22.6 156.2,21.9 158.2,22.2 160.2,22.1 162.2,21.5 164.2,21.9 166.2,22.4 168.2,22 170.2,22.8 172.2,21.9 174.2,22.2 176.2,22.4 178.2,22.1 180.2,21.8 182.2,22.5 184.2,22.7 186.2,21.7 188.2,22.4 190.2,21.9 192.2,22.7 194,22.4 194.2,22.7 196.2,22.4 198.2,22.8 200.2,23.1 202.2,22.6 202.7,23.1 204.2,24.3 206,24.5 206.2,24.9 207.8,26.5 208.2,26.9 208.9,28.4 209.7,31 210.2,33.8 210.3,35 210.8,38.7 211.2,43.3 211.5,50.3 211.8,57.3 212.1,67.3 212.2,72.2 212.4,80.6 212.4,86.8 212.5,89.7 212.5,93.2 212.6,96.3 212.6,99.2 212.6,100.5 212.6,104 212.7,109.6 212.7,114 212.8,119.1 212.8,123.3 212.8,127.3 212.8,128.5 212.9,133.6 212.9,135.2 213,135.1 213,133 213,129.9 213.1,127 213.1,123.8 213.1,118.5 213.2,113.7 213.2,109.6 213.2,104.6 213.3,100.1 213.3,99.9 213.3,96.4 213.4,93.2 213.4,89.7 213.4,86.4 213.5,80.9 213.8,66.4 214.1,57.5 214.2,53.3 214.4,50.1 214.7,43.6 215.1,38.7 215.6,34.9 216.2,31.6 216.2,30.8 216.9,28.3 218.1,27.1 218.2,26.7 219.9,24.6 220.2,24.3 222.2,23.4 223.2,23.8 224.2,23 226.2,23.1 228.2,23 230.2,22.9 231.9,22.4 232.2,22.6 234.2,22.5 236.2,23" stroke="#b02a18" stroke-width="1.4"/>
<polyline points="36.2,21.4 38.2,21.6 40.2,21.4 42.2,21.8 44.2,21.5 46.2,21.8 46.3,21.7 48.2,22.1 50.2,22.6 52.2,22.9 54.2,22 55,22.7 56.2,22.9 58.2,24 58.3,24.2 60.1,24.7 60.2,26.3 61.2,27.9 62,30.6 62.2,32 62.6,34.4 63.1,38.4 63.5,43.3 63.8,49.6 64.1,56.8 64.2,60.9 64.4,66.8 64.6,79.6 64.7,85.9 64.7,89.6 64.8,93.5 64.8,95.7 64.9,98.9 64.9,100.1 64.9,103.5 64.9,108.6 65,113.2 65,118.6 65.1,123.2 65.1,126.4 65.1,128.3 65.1,131.7 65.2,134.3 65.2,134.8 65.3,131.8 65.3,127.7 65.3,126.7 65.3,123.3 65.4,118.1 65.4,113.2 65.5,108.3 65.5,103.7 65.5,100 65.6,98.3 65.6,96.2 65.6,92.6 65.7,88.5 65.7,85.3 65.8,80.2 66,67 66.2,61.4 66.3,56.7 66.6,49.3 67,43.5 67.4,38 67.8,33.5 68.2,31.5 68.4,29.9 69.2,27.5 70.2,25.8 70.3,25.7 72.1,23.9 72.2,23.6 74.2,22.9 75.5,22.5 76.2,22.7 78.2,22.2 80.2,21.9 82.2,22.3 84.2,22.6 84.2,21.6 86.2,21.9 88.2,22.2 90.2,22 92.2,22.1 94.2,22.6 96.2,22.1 98.2,22.6 100.2,22 102.2,22.1 104.2,21.7 106.2,22.2 108.2,22.1 110.2,22.3 112.2,22.4 114.2,22.8 116.2,22 118.2,22.3 120.2,22.6 122.2,22.4 124.2,22.7 126.2,22.8 128.2,22.5 130.2,22.2 132.2,22.8 134.2,23.3 136.2,23 138.2,22.2 140.2,23.2 142.2,22.6 144.2,23.1 146.2,22.8 148.2,23.1 150.2,23.7 152.2,23.3 154.2,22.5 156.2,23.3 158.2,23.1 160.2,23.4 162.2,23.4 164.2,23.2 166.2,23.2 168.2,22.6 170.2,23.4 172.2,23.5 174.2,23.7 176.2,23.9 178.2,24.1 180.2,23.3 182.2,24.2 184.2,23.1 186.2,23.3 188.2,23.7 190.2,24.1 192.2,23.7 193.3,23.7 194.2,23.4 196.2,24.1 198.2,24.1 200.2,24.2 202,24.6 202.2,24.8 204.2,25.8 205.3,26.3 206.2,26.6 207.1,27.5 208.2,29.1 208.3,28.8 209,31.7 209.6,35.6 210.1,39.2 210.2,40.8 210.5,45.1 210.9,50.3 211.2,59.2 211.4,68.8 211.7,81.9 211.8,87.3 211.8,91 211.8,93.8 211.9,97.7 211.9,101 211.9,101.2 212,105.3 212,110.1 212,114.7 212.1,119.5 212.1,123.7 212.1,126.7 212.2,128.5 212.2,131.6 212.2,132.4 212.2,134.2 212.3,134.5 212.3,132.6 212.4,128.6 212.4,126.8 212.4,123.8 212.4,118.6 212.5,114.7 212.5,109.6 212.6,105.1 212.6,101.5 212.6,100.5 212.6,97.5 212.7,94.3 212.7,90.3 212.8,88.1 212.9,81.5 213.1,68.9 213.4,59.2 213.7,51.4 214,45.2 214.2,42.6 214.4,39.8 214.9,36.4 215.5,32 216.2,29.6 216.3,29.2 217.4,27.9 218.2,27.4 219.2,26.1 220.2,25.5 222.2,24.7 222.5,25 224.2,24.6 226.2,24.3 228.2,24.8 230.2,23.6 231.2,24.6 232.2,24.1 234.2,23.8 236.2,24.5" stroke="#a01e14" stroke-width="1.4"/>
<polyline points="36.2,21.2 38.2,21.6 40.2,21.6 42.2,21.3 44.2,21.6 46.2,21.6 47.6,22.2 48.2,21.8 50.2,21.5 52.2,21.8 54.2,22.2 56.2,22.8 56.3,22.8 58.2,23 59.6,23.3 60.2,24.2 61.4,25 62.2,27 62.5,27.2 63.3,30.7 63.9,33.7 64.2,36.5 64.4,37.7 64.8,42.8 65.1,49.5 65.4,57.1 65.7,66.9 65.9,80.4 66,86.1 66.1,89.1 66.1,91.8 66.1,95.1 66.2,98.7 66.2,99.4 66.2,100.9 66.2,103.6 66.3,107.9 66.3,112.2 66.3,117.3 66.4,122.4 66.4,125.6 66.4,126.5 66.5,131 66.5,133 66.5,133.5 66.6,131.1 66.6,127.1 66.6,125.5 66.7,122.3 66.7,117.5 66.7,113.1 66.8,108.7 66.8,103.2 66.9,99.7 66.9,98.2 66.9,95.7 66.9,92.4 67,88.7 67,86 67.1,79.9 67.4,67.1 67.6,56.6 67.9,48.8 68.2,44.3 68.3,42.3 68.7,38.1 69.1,33.7 69.7,31 70.2,29.3 70.5,26.9 71.7,25 72.2,24.4 73.4,24.4 74.2,23.4 76.2,22.6 76.8,22.6 78.2,22.3 80.2,22.5 82.2,22.1 84.2,22.4 85.5,22.1 86.2,21.8 88.2,22.2 90.2,22 92.2,22 94.2,21.9 96.2,21.5 98.2,21.8 100.2,21.8 102.2,22.4 104.2,22.1 106.2,21.7 108.2,22.3 110.2,22.2 112.2,22.4 114.2,21.7 116.2,22.3 118.2,22.5 120.2,22 122.2,21.9 124.2,22.2 126.2,22.1 128.2,22.4 130.2,22.6 132.2,22.7 134.2,22.8 136.2,22.9 138.2,22.6 140.2,22.8 142.2,22.8 144.2,22.6 146.2,22.9 148.2,23.4 150.2,23.2 152.2,23.4 154.2,23.7 156.2,23 158.2,23.5 160.2,23.6 162.2,23.5 164.2,22.9 166.2,23.3 168.2,22.9 170.2,23.2 172.2,23.4 174.2,23.1 176.2,23.1 178.2,23.2 180.2,23.6 182.2,23.5 184.2,23.7 186.2,23.4 188.2,23.3 190.2,22.9 192.2,23 194.2,23.3 194.7,23.2 196.2,23.5 198.2,22.7 200.2,23.3 202.2,23.2 203.4,24.2 204.2,24.4 206.2,24.9 206.7,25.5 208.2,26.7 208.5,27.6 209.6,29.1 210.2,31.1 210.4,31.9 211,35.6 211.5,40.3 211.9,44.6 212.2,49.6 212.2,51.4 212.5,58.9 212.8,68.5 213.1,81.6 213.2,88 213.2,89.8 213.2,93.2 213.3,97.2 213.3,100.6 213.3,100.6 213.4,104 213.4,108.7 213.4,113.1 213.5,118.4 213.5,122.7 213.5,125.9 213.6,126.4 213.6,130.3 213.6,133.2 213.7,133.1 213.7,130.3 213.8,126.9 213.8,125.6 213.8,122.4 213.8,117.3 213.9,113.2 213.9,109.5 214,104.7 214,101.1 214,100.2 214,96.8 214.1,93.6 214.1,90.7 214.2,87.3 214.2,84.4 214.2,81.4 214.5,68.5 214.8,58.5 215.1,51 215.4,44.5 215.8,39.8 216.2,36.2 216.3,35.8 216.9,32.2 217.7,30.1 218.2,27.4 218.8,27.6 220.2,26 220.6,25.9 222.2,25.2 223.9,24.5 224.2,24.8 226.2,24.5 228.2,24.7 230.2,24.5 232.2,24.5 232.6,23.5 234.2,24.6 236.2,24.5" stroke="#b8301a" stroke-width="1.4"/>
<polyline points="36.2,22.9 38.2,22.7 40.2,22.2 42.2,22.5 44.2,22.3 46.2,22.7 46.6,22.7 48.2,22.5 50.2,22.9 52.2,22.9 54.2,23.6 55.3,23.7 56.2,23.5 58.2,24.5 58.6,24.9 60.2,25.8 60.4,26.2 61.6,28.5 62.2,30.9 62.3,31 62.9,33.8 63.4,39.1 63.8,44.4 64.2,50.4 64.2,51.5 64.5,58.3 64.7,68.2 65,80.7 65.1,86.8 65.1,89.6 65.1,93.2 65.2,97.3 65.2,99.8 65.2,101.2 65.3,105.3 65.3,110.2 65.3,114.3 65.4,119.6 65.4,125.5 65.4,128.6 65.5,130.5 65.5,134.8 65.5,137.1 65.6,137.4 65.6,134.7 65.7,131 65.7,128.8 65.7,125.9 65.7,119.3 65.8,114.2 65.8,109.5 65.9,104.8 65.9,100.3 65.9,99.8 65.9,97.6 66,93.5 66,90.9 66.1,87.3 66.1,81.4 66.2,77.9 66.4,67.6 66.7,58.2 67,50.2 67.3,43.8 67.7,38.9 68.2,34.8 68.2,35.4 68.8,31.5 69.6,28.3 70.2,27.1 70.7,26.9 72.2,25.1 72.5,24.7 74.2,24.3 75.8,23.4 76.2,23.8 78.2,23.4 80.2,23.1 82.2,22.2 84.2,23.1 84.5,23.1 86.2,22.7 88.2,23 90.2,22.8 92.2,23.6 94.2,22.8 96.2,22.9 98.2,23.3 100.2,22.4 102.2,23 104.2,23 106.2,23.4 108.2,23.6 110.2,23.2 112.2,23.6 114.2,22.9 116.2,22.9 118.2,23.4 120.2,23.8 122.2,23.4 124.2,23.7 126.2,23.3 128.2,23.3 130.2,23.6 132.2,23.5 134.2,23.2 136.2,23 138.2,23.8 140.2,23.4 142.2,23.8 144.2,24.1 146.2,23.3 148.2,23.7 150.2,23.8 152.2,23.8 154.2,24 156.2,24.3 158.2,23.3 160.2,23.7 162.2,23.9 164.2,23.7 166.2,23.6 168.2,24.1 170.2,23.9 172.2,24.2 174.2,23.9 176.2,24.3 178.2,23.3 180.2,24.3 182.2,24.1 184.2,24.1 186.2,24.4 188.2,24 190.2,24.4 192.2,24.6 193.8,24.5 194.2,24.8 196.2,24.2 198.2,24.5 200.2,24.6 202.2,25.7 202.4,25.2 204.2,26.1 205.8,26.5 206.2,26.4 207.6,28.1 208.2,29.3 208.7,30 209.5,32.8 210.1,35.9 210.2,38.1 210.6,40.6 210.9,45.8 211.3,52.2 211.6,59.5 211.9,69.7 212.1,83.1 212.2,88.4 212.2,88.3 212.2,90.4 212.3,94.5 212.3,98 212.4,101.2 212.4,101.3 212.4,105.2 212.4,109.1 212.5,114 212.5,118.2 212.6,123 212.6,124.7 212.6,126.8 212.6,130.3 212.7,130.7 212.7,130.9 212.8,129.1 212.8,126 212.8,125.1 212.8,121.7 212.9,118.1 212.9,112.6 213,108.9 213,105.6 213,100.8 213,99.8 213.1,97.6 213.1,93.7 213.2,91 213.2,88.2 213.3,83.2 213.5,68.9 213.8,59.7 214.1,51.8 214.2,50.4 214.4,46.1 214.8,40.3 215.3,36.7 215.9,33.4 216.2,32.5 216.7,30.5 217.8,28.1 218.2,28.1 219.6,26.8 220.2,26.9 222.2,25.3 222.9,25.8 224.2,25.5 226.2,24.7 228.2,25.2 230.2,25.6 231.6,25.4 232.2,25.2 234.2,24.4 236.2,25" stroke="#9a1c12" stroke-width="1.4"/>
<polyline points="36.2,20.9 38.2,20 40.2,19.7 42.2,20.3 44.2,19.5 46.2,20.3 46.2,20.7 48.2,20.3 50.2,20.5 52.2,20.5 54.2,21.2 54.9,20.8 56.2,21.8 58.2,22.5 58.2,23 60,24.5 60.2,24.4 61.2,26.7 62,29.4 62.2,30.5 62.5,32.5 63,36.5 63.4,41.6 63.8,47.7 64.1,55.6 64.2,60.7 64.3,66.1 64.6,78.9 64.7,85 64.7,88.4 64.7,90.4 64.8,95.1 64.8,97.4 64.8,98.1 64.9,102.4 64.9,105.8 64.9,111.4 65,116.6 65,120.6 65.1,124.4 65.1,126.4 65.1,130 65.1,132.1 65.2,131.8 65.2,129.5 65.3,126.4 65.3,124.1 65.3,120.4 65.3,116.5 65.4,111.4 65.4,106.5 65.5,101.9 65.5,98.5 65.5,97.8 65.5,94.8 65.6,90.6 65.6,87.4 65.7,85.4 65.8,79.5 66,66 66.2,58.8 66.3,55.7 66.6,48 66.9,41.2 67.3,36.6 67.8,32.7 68.2,29.8 68.4,29.7 69.2,27.2 70.2,24.7 70.3,24.2 72.1,23.5 72.2,22.5 74.2,21.8 75.4,22 76.2,21.6 78.2,21.6 80.2,21.3 82.2,21 84.1,21.6 84.2,20.9 86.2,21 88.2,20.9 90.2,22 92.2,21.9 94.2,21.1 96.2,21.5 98.2,21.6 100.2,21.6 102.2,21.8 104.2,21.5 106.2,21.6 108.2,21.6 110.2,21.2 112.2,21.8 114.2,21 116.2,22.2 118.2,20.5 120.2,21.9 122.2,21.2 124.2,21.1 126.2,21.4 128.2,21.2 130.2,21.5 132.2,22.1 134.2,21.3 136.2,21.1 138.2,21.7 140.2,22.1 142.2,21.7 144.2,21.4 146.2,21.4 148.2,21.2 150.2,21.4 152.2,21.4 154.2,22.3 156.2,20.9 158.2,21.7 160.2,21.4 162.2,21.9 164.2,21.9 166.2,21.8 168.2,21.3 170.2,21.4 172.2,21.8 174.2,21.4 176.2,22.3 178.2,22 180.2,22.4 182.2,21.8 184.2,22.4 186.2,22.1 188.2,21.9 190.2,23.4 192.2,22 193.3,22.7 194.2,22.9 196.2,23.6 198.2,23.3 200.2,24.2 202,23.7 202.2,23.8 204.2,23.7 205.3,25.1 206.2,25.3 207.1,26.2 208.2,28.1 208.2,28.9 209,31.3 209.6,35.5 210.1,39.5 210.2,40.8 210.5,44.2 210.8,50.8 211.1,58.2 211.4,67.6 211.6,81 211.7,86.8 211.7,90.1 211.8,92.5 211.8,95.8 211.9,99.3 211.9,100.1 211.9,103.5 211.9,108.1 212,113 212,117.9 212.1,122.3 212.1,124.2 212.1,126.6 212.1,128.8 212.2,131.8 212.2,132.1 212.2,131.3 212.3,129.9 212.3,126.3 212.3,125.1 212.3,122.5 212.4,117.7 212.4,112.7 212.5,108.6 212.5,104.8 212.5,100 212.5,99.4 212.6,96.5 212.6,93.2 212.7,90.6 212.7,86.2 212.8,81.1 213,67.7 213.3,57.5 213.6,50 213.9,44.1 214.2,40.8 214.3,39.1 214.8,34.7 215.4,31.5 216.2,29.1 216.2,28.8 217.3,26.6 218.2,25.6 219.1,25.1 220.2,24.1 222.2,24 222.4,23.7 224.2,23.7 226.2,23.7 228.2,23.7 230.2,23.4 231.1,23.1 232.2,22.8 234.2,23.2 236.2,23.4" stroke="#a82418" stroke-width="1.4"/>
<polyline points="36.2,21 38.2,21 40.2,21.4 42.2,20.7 44.2,20.5 46.2,21.6 47.1,21.1 48.2,21 50.2,20.5 52.2,21.6 54.2,22 55.8,21.9 56.2,21.3 58.2,22.7 59.1,23.1 60.2,23.4 60.9,25.6 62,27.8 62.2,27.3 62.8,29.5 63.4,33.7 63.9,37.2 64.2,41.5 64.3,42.3 64.6,48.9 64.9,56.5 65.2,66.5 65.4,79.3 65.5,85.4 65.5,87.7 65.6,91.4 65.6,95.7 65.7,98 65.7,98.4 65.7,102.9 65.7,107 65.8,112.1 65.8,116.7 65.9,122.3 65.9,124.5 65.9,127.1 65.9,130 66,133.2 66,133.4 66.1,130.2 66.1,126.7 66.1,125 66.1,121.8 66.2,116.9 66.2,115.5 66.2,112 66.3,107.2 66.3,102.8 66.3,98.2 66.4,98.4 66.4,95.1 66.4,91.4 66.5,88.5 66.5,85.7 66.6,79.5 66.8,65.8 67.1,56.5 67.4,48.4 67.8,42.7 68.1,37.3 68.2,37.1 68.6,33.6 69.2,29.9 70,27.2 70.2,26.2 71.1,25.6 72.2,23.8 72.9,22.9 74.2,22.4 76.2,22.5 76.3,22.6 78.2,22.2 80.2,21.8 82.2,21.8 84.2,21.7 85,21.6 86.2,22.2 88.2,22.2 90.2,22.3 92.2,22.4 94.2,21.9 96.2,21.8 98.2,21.1 100.2,21.8 102.2,22.1 104.2,21.6 106.2,22.4 108.2,22.1 110.2,21.9 112.2,22 114.2,22.1 116.2,22.4 118.2,22.8 120.2,22.4 122.2,22.6 124.2,22.1 126.2,22.5 128.2,22.2 130.2,23 132.2,22.1 134.2,22.7 136.2,23 138.2,22.9 140.2,22.7 142.2,22 144.2,22.2 146.2,22.9 148.2,22.4 150.2,22.5 152.2,23 154.2,22.8 156.2,23.2 158.2,22.8 160.2,23.4 162.2,22.8 164.2,22.8 166.2,22.8 168.2,22.8 170.2,22.2 172.2,22.7 174.2,22.6 176.2,22.4 178.2,22.4 180.2,22.5 182.2,23 184.2,23.3 186.2,23.2 188.2,23.2 190.2,23.1 192.2,23.2 194.2,22.9 194.5,23.4 196.2,22.8 198.2,23.2 200.2,24 202.2,23.8 203.2,25.3 204.2,24.1 206.2,25.2 206.6,25.4 208.2,27.7 208.3,26.4 209.5,29.6 210.2,32 210.3,31.9 210.9,35.7 211.3,40.1 211.7,44.6 212.1,51.4 212.2,53.9 212.4,58.7 212.6,68.1 212.9,82 213,87 213,90.3 213.1,92.9 213.1,97.2 213.1,99.3 213.1,100.4 213.2,104.3 213.2,109.1 213.3,113 213.3,117.5 213.3,122.6 213.4,125.3 213.4,126.8 213.4,129.3 213.5,131.6 213.5,131.3 213.5,129.6 213.6,126.3 213.6,124.8 213.6,122.3 213.7,117.2 213.7,113 213.7,108.5 213.8,104.9 213.8,100.4 213.8,100.2 213.9,97 213.9,93.1 213.9,90.7 214,87.4 214.1,81.4 214.2,73.6 214.3,68.8 214.6,58.7 214.9,51 215.2,45.3 215.6,40.7 216.1,36.5 216.2,34.9 216.7,32.4 217.5,30.2 218.2,28.4 218.6,27.7 220.2,26.2 220.4,25.9 222.2,24.4 223.7,25.1 224.2,24.7 226.2,24.8 228.2,24.6 230.2,24.6 232.2,24.3 232.4,24.4 234.2,24.1 236.2,24.1" stroke="#8e1810" stroke-width="1.4"/>
<polyline points="36.2,21.4 38.2,20.4 40.2,21.5 42.2,21 44.2,20.4 46.2,21.5 47,20.8 48.2,20.8 50.2,21.3 52.2,22.2 54.2,21.3 55.7,22 56.2,22.4 58.2,22.4 59,23.5 60.2,23.9 60.8,25.2 61.9,27 62.2,28.4 62.7,30.1 63.3,33.7 63.8,37.8 64.2,42.5 64.2,43.4 64.5,48.8 64.8,56.2 65.1,66.7 65.3,80.9 65.4,86.6 65.4,89.7 65.5,92.9 65.5,96.7 65.6,100 65.6,101.3 65.6,105.6 65.6,111.5 65.7,116.2 65.7,122.7 65.8,129.5 65.8,134.1 65.8,136.8 65.8,143.6 65.9,147.4 65.9,148 66,143 66,136.6 66,133.3 66,129.7 66.1,122.9 66.1,116.6 66.2,111 66.2,105.9 66.2,101.7 66.2,100.8 66.3,97.3 66.3,93.4 66.4,90.2 66.4,86.9 66.5,80.4 66.7,66.4 67,56.7 67.3,48.6 67.6,42.3 68,37.3 68.2,36.1 68.5,33.6 69.1,30.7 69.9,27.5 70.2,26.4 71,25.5 72.2,23.4 72.8,23 74.2,23 76.1,22 76.2,22.9 78.2,22.5 80.2,22.1 82.2,21.9 84.2,21.9 84.8,22.1 86.2,21.1 88.2,21.7 90.2,21.8 92.2,21.6 94.2,21.9 96.2,22 98.2,22.2 100.2,22.6 102.2,21.6 104.2,22.5 106.2,22.8 108.2,22.5 110.2,22.8 112.2,21.6 114.2,22.2 116.2,21.9 118.2,21.9 120.2,22.2 122.2,22.2 124.2,22.7 126.2,22.5 128.2,22.7 130.2,22.5 132.2,22.8 134.2,22.1 136.2,22.3 138.2,22.6 140.2,23.2 142.2,22.3 144.2,22.3 146.2,22.6 148.2,23 150.2,22.4 152.2,22.2 154.2,23.3 156.2,22.4 158.2,23.2 160.2,22.6 162.2,22 164.2,22.6 166.2,22.5 168.2,22.8 170.2,22.7 172.2,21.9 174.2,22.3 176.2,22.9 178.2,22.9 180.2,22.8 182.2,22.1 184.2,22.9 186.2,22.6 188.2,23.2 190.2,23.6 192.2,22.8 194.2,23.4 194.3,23.6 196.2,23.7 198.2,23.9 200.2,24.1 202.2,24.7 203,23.9 204.2,24.5 206.2,25.2 206.3,25.7 208.1,27.2 208.2,27.5 209.2,29.1 210,32 210.2,33.2 210.6,36 211.1,40.3 211.5,45.3 211.8,51.5 212.1,59.2 212.2,63.2 212.4,68.6 212.6,82.7 212.7,89.8 212.7,92.7 212.8,96.4 212.8,99.7 212.9,102.8 212.9,104.4 212.9,108.5 212.9,114.1 213,119.4 213,125.9 213.1,133.5 213.1,137.9 213.1,141.3 213.1,148.7 213.2,153.8 213.2,153.3 213.3,148.6 213.3,141.4 213.3,138.2 213.3,133.6 213.4,126.7 213.4,120 213.5,113.6 213.5,108.8 213.5,103.6 213.5,103.6 213.6,100.3 213.6,95.9 213.7,92.1 213.7,89.4 213.8,82.6 214,68.9 214.2,62.5 214.3,59.2 214.6,51.4 214.9,45.7 215.3,40 215.8,35.8 216.2,33 216.4,32.9 217.2,30 218.2,28.1 218.3,27.3 220.1,26.8 220.2,26.3 222.2,24.4 223.4,24.6 224.2,25.2 226.2,24.5 228.2,24.1 230.2,24.1 232.1,24.3 232.2,24.5 234.2,23.9 236.2,24.2" stroke="#7a1010" stroke-width="1.3"/>
<polyline points="36.2,20.1 38.2,20.3 40.2,20.6 42.2,20 44.2,20.7 46.2,20.5 46.7,20.9 48.2,20.8 50.2,21 52.2,21.3 54.2,21.2 55.4,21.1 56.2,21.1 58.2,22 58.7,22.9 60.2,23.7 60.5,24.4 61.6,26.1 62.2,29.2 62.4,29 63,33.1 63.5,36.7 63.9,42.3 64.2,48.1 64.2,48.7 64.5,56.8 64.8,66.5 65,79.7 65.1,85.8 65.1,89.7 65.2,92.8 65.2,96.4 65.3,99.4 65.3,100.1 65.3,104.9 65.3,110 65.4,114.7 65.4,120.8 65.5,126.5 65.5,130.7 65.5,132.8 65.5,138.7 65.6,141.7 65.6,141.7 65.7,138.3 65.7,133.3 65.7,130.6 65.7,127.1 65.8,120.7 65.8,114.6 65.9,108.5 65.9,104.6 65.9,100 65.9,99.3 66,95.7 66,92.2 66.1,88.6 66.1,85.7 66.2,78.8 66.2,78.4 66.4,66.8 66.7,56.1 67,48.4 67.3,43 67.7,37.5 68.2,33.3 68.2,33.3 68.8,29.6 69.6,27.6 70.2,25.4 70.7,24.5 72.2,23.2 72.5,23.3 74.2,22.5 75.8,22.2 76.2,21.6 78.2,21.6 80.2,21 82.2,21.7 84.2,21.1 84.5,21.8 86.2,21.6 88.2,21.9 90.2,21.4 92.2,21.6 94.2,21.4 96.2,21.1 98.2,21.7 100.2,21.6 102.2,21.4 104.2,21.8 106.2,21.9 108.2,21.6 110.2,21.6 112.2,21.5 114.2,21.5 116.2,22 118.2,21.7 120.2,21.4 122.2,22 124.2,21.7 126.2,22 128.2,21.8 130.2,21.2 132.2,21.8 134.2,22.2 136.2,21.7 138.2,21.8 140.2,21.4 142.2,22.3 144.2,22.2 146.2,21.9 148.2,22.4 150.2,21.5 152.2,22.6 154.2,22.2 156.2,22.4 158.2,22.2 160.2,21.7 162.2,21.8 164.2,21.7 166.2,21.9 168.2,22.9 170.2,22.1 172.2,22.9 174.2,22.5 176.2,22.5 178.2,22.6 180.2,22.3 182.2,22.8 184.2,22 186.2,22.5 188.2,22.4 190.2,22.6 192.2,22.7 193.9,23.1 194.2,22.4 196.2,23.6 198.2,23.2 200.2,23.6 202.2,24 202.6,23.9 204.2,24.7 205.9,25 206.2,25.2 207.7,27 208.2,27.6 208.8,29.6 209.6,32.6 210.2,35.6 210.2,35.6 210.7,38.7 211.1,44.7 211.4,50.5 211.7,58.3 212,67.9 212.2,81.3 212.2,81.9 212.3,88.4 212.3,91.8 212.4,95.3 212.4,98.9 212.5,101.4 212.5,102.7 212.5,107.3 212.5,112.2 212.6,117.8 212.6,123.5 212.7,129.8 212.7,133.4 212.7,135.8 212.7,142.3 212.8,145.1 212.8,144.7 212.9,142.1 212.9,136.2 212.9,133.5 212.9,129.4 213,123.3 213,117.7 213.1,112 213.1,106.9 213.1,102.6 213.1,101.3 213.2,98.5 213.2,95.3 213.3,91.8 213.3,88.4 213.4,82.2 213.6,68.4 213.9,58.5 214.2,50.5 214.2,50.6 214.5,44.2 214.9,39.9 215.4,35.6 216,31.8 216.2,31.3 216.8,29.1 217.9,27.1 218.2,27 219.7,24.9 220.2,24.9 222.2,25.1 223,24.6 224.2,24.2 226.2,23.7 228.2,23.8 230.2,24.2 231.7,23.4 232.2,23.7 234.2,23.2 236.2,23.5" stroke="#8a1410" stroke-width="1.3"/>
</g>
<rect x="36.2" y="14.5" width="200.3" height="148.5" fill="none" stroke="#262626" stroke-width="1.1"/>
<line x1="76.2" y1="163.0" x2="76.2" y2="160.0" stroke="#262626" stroke-width="0.9"/>
<line x1="76.2" y1="14.5" x2="76.2" y2="17.5" stroke="#262626" stroke-width="0.9"/>
<line x1="116.2" y1="163.0" x2="116.2" y2="160.0" stroke="#262626" stroke-width="0.9"/>
<line x1="116.2" y1="14.5" x2="116.2" y2="17.5" stroke="#262626" stroke-width="0.9"/>
<line x1="156.2" y1="163.0" x2="156.2" y2="160.0" stroke="#262626" stroke-width="0.9"/>
<line x1="156.2" y1="14.5" x2="156.2" y2="17.5" stroke="#262626" stroke-width="0.9"/>
<line x1="196.2" y1="163.0" x2="196.2" y2="160.0" stroke="#262626" stroke-width="0.9"/>
<line x1="196.2" y1="14.5" x2="196.2" y2="17.5" stroke="#262626" stroke-width="0.9"/>
<line x1="36.2" y1="39.2" x2="39.2" y2="39.2" stroke="#262626" stroke-width="0.9"/>
<line x1="236.5" y1="39.2" x2="233.5" y2="39.2" stroke="#262626" stroke-width="0.9"/>
<line x1="36.2" y1="64" x2="39.2" y2="64" stroke="#262626" stroke-width="0.9"/>
<line x1="236.5" y1="64" x2="233.5" y2="64" stroke="#262626" stroke-width="0.9"/>
<line x1="36.2" y1="88.8" x2="39.2" y2="88.8" stroke="#262626" stroke-width="0.9"/>
<line x1="236.5" y1="88.8" x2="233.5" y2="88.8" stroke="#262626" stroke-width="0.9"/>
<line x1="36.2" y1="113.5" x2="39.2" y2="113.5" stroke="#262626" stroke-width="0.9"/>
<line x1="236.5" y1="113.5" x2="233.5" y2="113.5" stroke="#262626" stroke-width="0.9"/>
<line x1="36.2" y1="138.2" x2="39.2" y2="138.2" stroke="#262626" stroke-width="0.9"/>
<line x1="236.5" y1="138.2" x2="233.5" y2="138.2" stroke="#262626" stroke-width="0.9"/>
<text x="33" y="18.7" font-size="9.6" text-anchor="end" fill="#444444" font-family="'Liberation Sans', Arial, sans-serif" font-weight="normal" >0</text>
<text x="33" y="43.5" font-size="9.6" text-anchor="end" fill="#444444" font-family="'Liberation Sans', Arial, sans-serif" font-weight="normal" >-5</text>
<text x="33" y="68.2" font-size="9.6" text-anchor="end" fill="#444444" font-family="'Liberation Sans', Arial, sans-serif" font-weight="normal" >-10</text>
<text x="33" y="93" font-size="9.6" text-anchor="end" fill="#444444" font-family="'Liberation Sans', Arial, sans-serif" font-weight="normal" >-15</text>
<text x="33" y="117.7" font-size="9.6" text-anchor="end" fill="#444444" font-family="'Liberation Sans', Arial, sans-serif" font-weight="normal" >-20</text>
<text x="33" y="142.4" font-size="9.6" text-anchor="end" fill="#444444" font-family="'Liberation Sans', Arial, sans-serif" font-weight="normal" >-25</text>
<text x="33" y="167.2" font-size="9.6" text-anchor="end" fill="#444444" font-family="'Liberation Sans', Arial, sans-serif" font-weight="normal" >-30</text>
<text x="36.2" y="176.4" font-size="9.6" text-anchor="middle" fill="#444444" font-family="'Liberation Sans', Arial, sans-serif" font-weight="normal" >1500</text>
<text x="76.2" y="176.4" font-size="9.6" text-anchor="middle" fill="#444444" font-family="'Liberation Sans', Arial, sans-serif" font-weight="normal" >1520</text>
<text x="116.2" y="176.4" font-size="9.6" text-anchor="middle" fill="#444444" font-family="'Liberation Sans', Arial, sans-serif" font-weight="normal" >1540</text>
<text x="156.2" y="176.4" font-size="9.6" text-anchor="middle" fill="#444444" font-family="'Liberation Sans', Arial, sans-serif" font-weight="normal" >1560</text>
<text x="196.2" y="176.4" font-size="9.6" text-anchor="middle" fill="#444444" font-family="'Liberation Sans', Arial, sans-serif" font-weight="normal" >1580</text>
<text x="236.2" y="176.4" font-size="9.6" text-anchor="middle" fill="#444444" font-family="'Liberation Sans', Arial, sans-serif" font-weight="normal" >1600</text>
<text x="136.3" y="191" font-size="11" text-anchor="middle" fill="#444444" font-family="'Liberation Sans', Arial, sans-serif" font-weight="normal" >Wavelength [nm]</text>
<text x="14.2" y="90" font-size="11" text-anchor="middle" fill="#444444" font-family="'Liberation Sans', Arial, sans-serif" font-weight="normal" transform="rotate(-90 14.2 90)">Transmission [dB]</text>
<line x1="195.6" y1="13.4" x2="233.7" y2="13.4" stroke="#1a6fb8" stroke-width="2.5" stroke-dasharray="20.1 2.7" stroke-dashoffset="-1.2" stroke-linecap="butt"/>
<line x1="196.8" y1="12.2" x2="196.8" y2="164.2" stroke="#1a6fb8" stroke-width="2.5" stroke-dasharray="20.1 2.7" stroke-dashoffset="-1.2" stroke-linecap="butt"/>
<line x1="232.5" y1="12.2" x2="232.5" y2="164.2" stroke="#1a6fb8" stroke-width="2.5" stroke-dasharray="20.1 2.7" stroke-dashoffset="8.2" stroke-linecap="butt"/>
<line x1="195.6" y1="163" x2="233.7" y2="163" stroke="#1a6fb8" stroke-width="2.5" stroke-dasharray="20.1 2.7" stroke-dashoffset="-6" stroke-linecap="butt"/>
<rect x="91.5" y="43.5" width="90" height="19" fill="#fff"/>
<text x="93.6" y="58.5" font-size="15.5" text-anchor="start" fill="#111" font-family="'DejaVu Sans', Verdana, sans-serif" font-weight="normal" >64 Reticles</text>
<text x="78" y="113.8" font-size="13.5" text-anchor="start" fill="#111" font-family="'DejaVu Sans', Verdana, sans-serif" font-weight="normal" >Disk</text>
<rect x="76" y="115.5" width="120" height="22" fill="#fff"/>
<rect x="96" y="142.5" width="94" height="16" fill="#fff"/>
<text x="78" y="131" font-size="13.9" text-anchor="start" fill="#111" font-family="'DejaVu Sans', Verdana, sans-serif" font-weight="normal" >Radius = 1.6 μm</text>
<text x="98.3" y="155" font-size="13.5" text-anchor="start" fill="#111" font-family="'DejaVu Sans', Verdana, sans-serif" font-weight="normal" >FSR = 74 nm</text>
<line x1="83.8" y1="139.8" x2="195.2" y2="139.8" stroke="#000" stroke-width="2.0"/><polygon points="78.6,139.8 86.1,135.9 84.2,139.8 86.1,143.7" fill="#000"/><polygon points="200.5,139.8 193,135.9 194.9,139.8 193,143.7" fill="#000"/>
<text x="6" y="11.6" font-size="14" text-anchor="start" fill="#000" font-family="'DejaVu Sans', Verdana, sans-serif" font-weight="bold" letter-spacing="-0.8">a)</text>
<line x1="361.5" y1="15.0" x2="361.5" y2="163.5" stroke="#dedede" stroke-width="0.8"/>
<line x1="428" y1="15.0" x2="428" y2="163.5" stroke="#dedede" stroke-width="0.8"/>
<line x1="295.0" y1="39.8" x2="494.5" y2="39.8" stroke="#dedede" stroke-width="0.8"/>
<line x1="295.0" y1="64.5" x2="494.5" y2="64.5" stroke="#dedede" stroke-width="0.8"/>
<line x1="295.0" y1="89.2" x2="494.5" y2="89.2" stroke="#dedede" stroke-width="0.8"/>
<line x1="295.0" y1="114" x2="494.5" y2="114" stroke="#dedede" stroke-width="0.8"/>
<line x1="295.0" y1="138.8" x2="494.5" y2="138.8" stroke="#dedede" stroke-width="0.8"/>
<g clip-path="url(#cb)" fill="none" stroke-width="1.3" stroke-linejoin="round">
<polyline points="295,25 298.3,25.3 301.6,25.2 305,25.1 308.3,25.2 311.6,25.5 314.9,25.6 318.3,25.2 321.6,25.2 324.9,25.3 328.2,25.5 331.6,25.2 334.6,25.5 334.9,25.9 338.2,25.5 341.6,25.5 344.9,25.5 348.2,26.1 351.5,26.1 354.9,25.9 356,26.2 358.2,26.1 361.5,26 364.8,26.3 368.1,26.1 369,26.6 371.5,26.4 374.8,26.9 377.7,26.8 378.1,27.6 381.4,28.1 384.1,28.1 384.8,28.8 388.1,29.5 389,29.6 391.4,30.3 392.9,31.4 394.8,31.8 396.1,32.7 398.1,33.9 398.7,34.3 401,36.4 401.4,36.5 403,38.5 404.7,41.2 404.7,41.2 406.3,43.7 407.7,47 408.1,47.7 409.1,50.9 410.3,55 411.4,58.9 411.4,59.7 412.5,64.5 413.5,71 414.5,78.7 414.7,80.5 415.4,85.9 415.5,87.3 415.6,88.9 415.9,92 416.2,94.1 416.4,97.2 416.4,97.5 416.7,100.5 417,103.8 417.2,107.2 417.3,108.3 417.5,110.5 417.8,114.1 418,115.7 418.2,117.3 418.3,117.8 418.6,118.3 418.8,119.2 419.1,118.6 419.1,117 419.4,115.8 419.6,113.8 419.9,110.5 420.1,108.2 420.2,107.5 420.4,103.7 420.7,100 421,97 421,97.2 421.2,94.3 421.4,93.1 421.5,91.4 421.7,88.7 421.9,87.4 422,86.4 422.9,77.9 423.9,71.1 424.7,66.4 424.9,65 426,59.1 427.1,54.3 428,51.9 428.3,50.6 429.6,46.7 431.1,43.9 431.3,43.6 432.6,41.2 434.4,38.3 434.6,38.2 436.4,36.4 438,34.6 438.7,33.6 441.3,31.9 441.3,32.2 444.5,29.9 444.6,30.6 448,29.2 448.4,29.4 451.3,28 453.2,27.8 454.6,28 457.9,27.2 459.6,26.2 461.2,26.3 464.6,26.1 467.9,25.6 468.4,26.2 471.2,25.8 474.6,25.7 477.9,25.4 481.2,25.1 481.4,24.8 484.5,24.6 487.9,24.5 491.2,23.9 494.5,24.7" stroke="#6cc8a0"/>
<polyline points="295,25 298.3,24.8 301.6,25.2 305,24.8 308.3,24.6 311.6,25.4 313.3,25.7 314.9,25 318.3,25.4 321.6,25.1 324.9,25.3 328.2,25.1 331.6,25 334.7,25.1 334.9,25.5 338.2,25.8 341.6,26.3 344.9,26.4 347.7,26.2 348.2,25.9 351.5,26.4 354.9,26.7 356.5,27.1 358.2,27.4 361.5,27.9 362.9,27.4 364.8,28.6 367.7,28.6 368.1,29.2 371.5,29.9 371.6,30.1 374.8,31.5 374.8,31.4 377.4,33.7 378.1,34.4 379.7,35.7 381.4,37.7 381.7,37.6 383.5,40.5 384.8,42.8 385,43.2 386.5,46.8 387.8,50 388.1,51.9 389,54.5 390.1,59.2 391.2,65.2 391.4,66.4 392.2,71.3 393.2,79.5 394.1,88.4 394.2,89.4 394.4,90.6 394.6,94.4 394.8,95.5 394.9,97.2 395.1,101.2 395.1,101.3 395.4,105.8 395.7,110.1 395.9,114.9 396,116.3 396.2,120 396.5,124.7 396.7,129.4 397,132.4 397,133.9 397.3,136 397.5,135.7 397.8,133.3 397.9,132.5 398.1,129.3 398.3,124 398.6,119.4 398.8,116.3 398.9,114.8 399.1,109.7 399.4,105.3 399.7,101.2 399.7,101.2 399.9,97.4 400.2,93.6 400.5,91.1 400.6,89.7 400.7,87.5 401.4,80.8 401.6,79.5 402.6,71.6 403.6,64.1 404.7,59.4 404.7,59.5 405.8,54.6 407,50.1 408.1,47.5 408.4,46.6 409.8,43.1 411.4,40.4 411.4,40.2 413.1,37.7 414.7,36.1 415.1,35.3 417.4,33.6 418,32.5 420,31.7 421.4,30.8 423.2,30.4 424.7,29.4 427.1,28.8 428,27.8 431.3,27.4 432,27.1 434.6,27.3 438,26.6 438.4,26.3 441.3,26.3 444.6,25.2 447.1,25.5 448,25.2 451.3,25 454.6,24.9 457.9,24.5 460.1,24.8 461.2,24.5 464.6,24.1 467.9,24.3 471.2,24.2 474.6,24.2 477.9,24 481.2,23.8 481.5,24 484.5,24.4 487.9,23.8 491.2,23.8 494.5,23.5" stroke="#c87060"/>
<polyline points="295,25.3 298.3,24.9 301.6,25.4 305,24.9 308.3,25 311.6,25.6 314.9,24.8 316.5,24.6 318.3,25 321.6,25.5 324.9,24.8 328.2,25.4 331.6,25.2 334.9,25.1 337.9,25.5 338.2,25.7 341.6,25.4 344.9,25.5 348.2,25.9 350.9,26 351.5,25.6 354.9,26.1 358.2,26.5 359.6,26.7 361.5,26.7 364.8,27.3 366,27.6 368.1,28.4 370.9,28.8 371.5,29.1 374.8,30.1 374.8,29.8 378,31.4 378.1,31.6 380.6,33.5 381.4,34.3 382.9,35.4 384.8,37.9 384.9,38 386.6,40.7 388.1,43.2 388.2,43.4 389.6,46.2 391,50.3 391.4,52.1 392.2,54.5 393.3,59.7 394.4,64.9 394.8,67.1 395.4,71 396.4,80.2 397.3,88.5 397.4,89.7 397.5,91.5 397.8,94.7 398.1,98.9 398.1,99 398.3,102.2 398.3,102.3 398.6,107.2 398.9,112.1 399.1,116.4 399.2,118.6 399.4,122 399.7,128.3 399.9,133.8 400.1,137.6 400.2,138.4 400.5,141.5 400.7,141.5 401,138.3 401,137.8 401.3,133.9 401.4,130.7 401.5,128.2 401.8,122.3 401.9,118.9 402.1,116.9 402.3,111.3 402.6,106.9 402.8,102.7 402.9,102 403.1,98.8 403.4,95 403.6,91.6 403.8,89.9 403.9,88.6 404.7,80.2 404.8,80.3 405.8,72 406.8,65.2 407.9,59.5 408.1,58.6 409,54.1 410.2,50.3 411.4,47.2 411.5,46.8 413,43.4 414.5,40.4 414.7,40.3 416.3,37.5 418,36.2 418.3,35.4 420.6,33.4 421.4,33.3 423.2,31.5 424.7,30.8 426.4,30.3 428,28.8 430.3,28.5 431.3,28.5 434.6,27.7 435.1,27.7 438,26.9 441.3,26.5 441.5,26.8 444.6,26.4 448,25.9 450.3,25.7 451.3,25.6 454.6,25.4 457.9,24.8 461.2,24.6 463.3,24.7 464.6,25.3 467.9,24.6 471.2,24.2 474.6,24.3 477.9,24.1 481.2,24 484.5,24.3 484.7,24.6 487.9,23.6 491.2,23.9 494.5,23.5" stroke="#c0604a"/>
<polyline points="295,25.1 298.3,24.8 301.6,25.1 305,24.8 308.3,24.7 311.6,24.7 314.9,24.8 318.3,25.3 321.6,24.9 324.9,24.7 328.2,24.7 331.6,24.4 334.9,24.9 336.6,25.4 338.2,25.3 341.6,25.2 344.9,25 348.2,25.7 351.5,25.2 354.9,25.3 358,25.9 358.2,25.5 361.5,26 364.8,25.9 368.1,26.2 370.9,26.2 371.5,26.6 374.8,26.4 378.1,27.5 379.7,27.2 381.4,27.4 384.8,27.3 386.1,27.9 388.1,28.6 391,29.4 391.4,29.3 394.8,30.7 394.9,29.9 398.1,32.9 398.1,32.1 400.7,34.6 401.4,34.2 403,36.2 404.7,37.5 405,38.4 406.7,40.5 408.1,43.1 408.3,43.4 409.7,47 411,51.5 411.4,52 412.3,55.4 413.4,59.5 414.5,65.3 414.7,66.6 415.5,71.9 416.5,79.9 417.4,88.6 417.5,89.2 417.6,91.5 417.9,94.9 418,97.1 418.2,98.7 418.4,102.1 418.4,102.5 418.7,106.8 419,111.3 419.2,116.6 419.3,118.2 419.5,122 419.8,127.3 420,132.5 420.2,135.7 420.3,136.6 420.6,139.4 420.8,139.7 421.1,136.9 421.1,135.8 421.4,131.9 421.6,127.4 421.9,121.6 422,118.2 422.1,116.1 422.4,111.2 422.7,106.4 422.9,102.8 423,101.6 423.2,98.8 423.5,94.8 423.7,91.3 423.9,89.3 424,88.1 424.7,81.3 424.9,79.5 425.8,71.9 426.9,65 428,59.2 428,59.6 429.1,55.1 430.3,50.7 431.3,47.1 431.6,46.4 433.1,43.5 434.6,40.4 434.6,40.3 436.4,37.5 438,36.4 438.4,35.6 440.7,33.5 441.3,32.8 443.3,31.5 444.6,30.9 446.5,29.8 448,30 450.4,27.6 451.3,28 454.6,27.1 455.2,27.4 457.9,26.6 461.2,25.6 461.6,25.6 464.6,25.8 467.9,25.8 470.4,25.2 471.2,25.3 474.6,24.7 477.9,25.1 481.2,24.7 483.4,24.5 484.5,24.6 487.9,24.1 491.2,24.6 494.5,24.5" stroke="#e86a1c"/>
<polyline points="295,25.1 298.1,24.7 298.3,24.9 301.6,25.1 305,24.9 308.3,25.1 311.6,24.9 314.9,25 318.3,25.3 321.6,25.3 324.9,25.3 328.2,25.1 331.6,25.1 334.9,25.5 338.2,25.3 340,25.2 341.6,25 344.9,25.3 348.2,24.8 351.5,25.4 354.9,25.3 358.2,25.7 361.4,25.9 361.5,25.6 364.8,25.6 368.1,25.8 371.5,26 374.4,26.3 374.8,26.4 378.1,26.5 381.4,26.6 383.1,26.6 384.8,28 388.1,27.4 389.5,27.5 391.4,27.9 394.4,28.9 394.8,28.9 398.1,30.3 398.3,30.3 401.4,31.7 401.5,32.2 404.1,33.9 404.7,34.1 406.4,36 408.1,37.5 408.4,38.4 410.1,40.5 411.4,42.8 411.7,43.6 413.1,47 414.5,50.6 414.7,51.8 415.7,54.7 416.8,59.4 417.9,64.7 418,65.9 418.9,71.7 419.9,79.1 420.8,87.3 420.9,89.2 421,90.6 421.3,93.8 421.4,94.6 421.6,97.9 421.8,101.4 421.8,101.2 422.1,104.8 422.4,109.9 422.6,114.1 422.7,115.8 422.9,119.8 423.2,124.5 423.4,128.6 423.6,131.8 423.7,132.6 424,135 424.2,134.8 424.5,132.9 424.5,131.4 424.7,130.6 424.8,129.5 425,124.3 425.3,119 425.5,116.5 425.6,114.5 425.8,110.1 426.1,105.5 426.4,101.6 426.4,101.4 426.6,98 426.9,94.2 427.2,90.3 427.3,89 427.4,87.7 428,81.2 428.3,79.6 429.3,71.8 430.3,64.8 431.3,59.9 431.4,59.3 432.5,54.2 433.7,50.6 434.6,47.7 435,46.1 436.5,43.5 438,40.6 438.1,40.2 439.8,37.8 441.3,36.2 441.8,34.9 444.1,33.5 444.6,32.8 446.7,31.6 448,30.9 449.9,30.3 451.3,29.1 453.8,28.6 454.6,27.9 457.9,27.8 458.6,27.5 461.2,26.7 464.6,26.3 465,26.5 467.9,26 471.2,26 473.8,25.4 474.6,26.2 477.9,25.1 481.2,24.6 484.5,24.6 486.8,24.5 487.9,24.8 491.2,24.5 494.5,24.6" stroke="#f08020"/>
<polyline points="295,24.4 298.3,24.5 301.6,24.4 305,24.9 305.3,24.4 308.3,24.5 311.6,25.2 314.9,25.1 318.3,24.6 321.6,24.8 324.9,24.6 328.2,24.8 331.6,24.2 334.9,25.2 338.2,25.1 341.6,25 344.9,25.2 347.3,25 348.2,24.9 351.5,25.3 354.9,24.9 358.2,24.7 361.5,24.8 364.8,24.6 368.1,25 368.6,25.3 371.5,24.9 374.8,25.4 378.1,25.2 381.4,26 381.6,26.6 384.8,26.5 388.1,26.5 390.4,26.6 391.4,27 394.8,27.1 396.8,28.1 398.1,28.2 401.4,28.6 401.7,28.9 404.7,30 405.5,29.9 408.1,31.2 408.7,32.1 411.3,33.6 411.4,34.2 413.6,35.7 414.7,36.8 415.6,38.5 417.4,40.1 418,41.2 418.9,43.4 420.4,46.5 421.4,49 421.7,50.6 422.9,54.4 424.1,59.5 424.7,63.1 425.1,65.5 426.2,72 427.2,79.5 428,88.3 428.1,89.3 428.3,91.6 428.5,95.2 428.8,97.9 429,101.3 429.1,102.3 429.3,106.8 429.6,111 429.9,116.7 430,118.5 430.1,122.2 430.4,127.3 430.7,132.9 430.9,136.9 430.9,137.8 431.2,140.8 431.3,141 431.5,140 431.7,137.7 431.8,136.4 432,133.2 432.3,127.5 432.5,121.9 432.7,118.5 432.8,116.2 433.1,111.9 433.3,106.4 433.6,102.2 433.6,102.1 433.9,98.4 434.1,94.8 434.4,91.2 434.5,89.5 434.6,88.5 435.5,79.7 436.5,71.5 437.5,65 438,62.5 438.6,59.4 439.7,54.7 441,50.4 441.3,49.8 442.3,46.6 443.7,42.9 444.6,41.5 445.3,40.5 447,37.4 448,36.4 449,35.3 451.3,33.1 451.3,33 454,31.4 454.6,31.2 457.1,29.2 457.9,29.4 461,28.5 461.2,28.2 464.6,27 465.9,27.4 467.9,26.3 471.2,26.1 472.3,25.4 474.6,25.5 477.9,25.3 481.1,24.7 481.2,24.7 484.5,24.9 487.9,24.5 491.2,24.6 494.1,24 494.5,24.7" stroke="#f0a030"/>
<polyline points="295,26.7 298.3,26.3 301.6,25.9 305,26.1 308.3,26.1 311.6,26.2 314.9,26.1 318.3,26.5 321.6,25.9 324.9,25.8 328.2,25.9 329.9,26.1 331.6,25.8 334.9,26 338.2,25.9 341.6,26.1 344.9,26.2 348.2,26.5 351.5,27.1 354.9,26.2 358.2,26.5 361.5,25.9 364.8,27.1 368.1,26.3 371.5,26.9 371.9,26.6 374.8,26.9 378.1,26.6 381.4,26.8 384.8,26.6 388.1,26.9 391.4,26.9 393.2,26.7 394.8,26.9 398.1,27.2 401.4,27 404.7,27.5 406.2,27.4 408.1,27.8 411.4,28.1 414.7,29.1 415,28.1 418,29 421.4,29 421.4,28.7 424.7,30.2 426.3,30 428,30.8 430.1,31.5 431.3,32.4 433.3,33.1 434.6,33.9 436,34.5 438,36 438.2,36.8 440.2,39.2 441.3,40 442,41.7 443.5,44.5 444.6,46.8 445,47.6 446.3,51.2 447.5,55.6 448,57.2 448.7,59.6 449.7,65.1 450.8,71.7 451.3,75.4 451.8,79.3 452.6,86.6 452.7,88.1 452.9,89.5 453.1,92.5 453.4,95.6 453.7,98.4 453.7,98.6 453.9,102.1 454.2,105.3 454.5,108.7 454.6,110.2 454.6,110.7 454.7,112.2 455,115.1 455.3,117.8 455.5,119.8 455.5,120.2 455.8,121.3 456.1,120.7 456.3,119.9 456.4,120.1 456.6,118.1 456.9,115.5 457.1,112.2 457.3,110.5 457.4,108.7 457.7,105.6 457.9,102 458.2,98.1 458.2,98 458.5,95.6 458.7,92.6 459,89.7 459.1,88.4 459.3,87.1 460.1,79.2 461.1,72 461.2,70.5 462.1,65.4 463.2,60.1 464.3,54.8 464.6,54.2 465.6,51.1 466.9,46.9 467.9,44.7 468.3,44.4 469.9,41.2 471.2,39.4 471.6,39.1 473.6,35.9 474.6,35.1 475.9,34.8 477.9,32.9 478.6,33.1 481.2,30.9 481.7,31 484.5,30 485.6,29.3 487.9,29 490.5,28.5 491.2,28 494.5,27.8" stroke="#a8e064"/>
<polyline points="295,24.2 298.3,24.2 301.6,24.7 305,23.9 308.3,24.5 311.6,24 314.9,24.7 318.3,24.6 321.6,24.7 323.3,24.3 324.9,24.7 328.2,24.5 331.6,25.1 334.9,24.8 338.2,24.7 341.6,24.8 344.7,25.4 344.9,24.7 348.2,25.2 351.5,24.5 354.9,25.2 357.6,24.6 358.2,25.1 361.5,25.4 364.8,25.9 366.4,26 368.1,26 371.5,27.2 372.8,26.6 374.8,27.6 377.7,28.1 378.1,28.9 381.4,29.2 381.6,29.2 384.8,30.9 384.8,30.9 387.4,32.8 388.1,33.2 389.7,34.4 391.4,36.9 391.7,36.9 393.4,39.5 394.8,42.1 395,42.5 396.4,45.8 397.7,49.8 398.1,50 399,54 400.1,58.3 401.2,64.2 401.4,66.3 402.2,71.1 403.2,79 404.1,87.8 404.2,89.6 404.3,91.2 404.6,95.1 404.7,96.9 404.9,98.6 405.1,102.4 405.1,102.3 405.4,107.2 405.7,112.1 405.9,118.3 406,120.6 406.2,124.3 406.5,130.3 406.7,138.2 406.9,143.4 407,144.1 407.3,147.7 407.5,148.6 407.8,144.1 407.8,143.3 408.1,137.3 408.3,130.6 408.6,124.1 408.7,120.3 408.8,118 409.1,112.3 409.4,107.5 409.6,103 409.7,102.7 409.9,98.5 410.2,95 410.4,91 410.6,89.9 410.7,87.9 411.4,80.8 411.6,78.9 412.5,71.3 413.6,64.9 414.7,59 414.7,58.2 415.8,53.9 417,49.7 418,46.8 418.3,45.9 419.8,42.6 421.3,40 421.4,39.7 423.1,36.7 424.7,34.7 425.1,34.7 427.4,32.8 428,31.7 430,30.8 431.3,30.4 433.2,29.2 434.6,28.4 437.1,27.4 438,27.7 441.3,26.6 441.9,26.7 444.6,25.8 448,25.6 448.3,25.6 451.3,25.6 454.6,25.1 457.1,24.9 457.9,25.8 461.2,24.3 464.6,24.4 467.9,24.3 470.1,24.2 471.2,24.1 474.6,23.9 477.9,24.2 481.2,23.7 484.5,23.6 487.9,23.6 491.2,23.9 491.4,23.5 494.5,23.8" stroke="#a81c10"/>
<polyline points="295,24.6 298.3,24.6 301.6,24.6 305,24.3 308.3,24.6 311.6,24.5 314.9,25.1 318.3,24.6 320.6,24.5 321.6,24.5 324.9,23.9 328.2,24.6 331.6,24.6 334.9,24 338.2,24.5 341.6,24.2 344.9,24.1 348.2,24.2 351.5,24.4 354.9,23.9 358.2,23.8 361.5,24.5 362.6,24.3 364.8,24 368.1,24.4 371.5,24.7 374.8,24.6 378.1,24.3 381.4,24.9 383.9,24.6 384.8,24.6 388.1,25 391.4,24.8 394.8,25 396.9,25 398.1,25.2 401.4,26.1 404.7,25.8 405.7,26 408.1,26.2 411.4,27.3 412.1,26.9 414.7,27.7 416.9,28.7 418,28.3 420.8,30 421.4,30.3 424,31.2 424.7,31.9 426.6,33 428,34.4 428.9,35.1 430.9,37.2 431.3,38 432.7,39.8 434.2,42.7 434.6,44 435.7,45.9 437,49.6 438,53.1 438.2,53.7 439.3,58.2 440.4,63.9 441.3,69.9 441.5,70.4 442.4,78 443.3,85.9 443.4,86.8 443.6,88.6 443.8,91 444.1,94.5 444.3,97.6 444.4,97.6 444.6,101.1 444.9,104.6 445.2,108.4 445.3,110 445.4,112.2 445.7,116.3 446,119.1 446.2,120.3 446.2,121.1 446.5,121.7 446.8,121.7 447,121.4 447.1,120.5 447.3,117.9 447.6,115.9 447.8,112.1 448,110.5 448,110 448.1,108.6 448.3,104.9 448.6,101.1 448.9,98.1 448.9,97.5 449.1,94.8 449.4,91.3 449.7,88.4 449.8,87.1 449.9,85.7 450.8,78.1 451.3,74.3 451.8,70.1 452.8,64.6 453.9,58.5 454.6,55.4 455,54 456.3,49.4 457.6,45.8 457.9,45.5 459,42.6 460.6,39.7 461.2,39 462.3,37.1 464.3,34.7 464.6,34.9 466.6,33.5 467.9,31.8 469.3,31.3 471.2,30.5 472.4,29.5 474.6,29.3 476.3,28.1 477.9,27.1 481.2,27.6 481.2,26.6 484.5,26.4 487.6,25.8 487.9,25.9 491.2,25 494.5,24.9" stroke="#f0cc30"/>
<polyline points="295,25 298.3,25.7 301.6,25.3 305,25.4 308.3,26.1 311.6,25.2 314.9,25.6 315.3,24.9 318.3,25.1 321.6,25.8 324.9,25.8 328.2,26.1 331.6,26.3 334.9,25.8 336.7,26.1 338.2,26.2 341.6,26.3 344.9,26.2 348.2,26.3 349.7,26.7 351.5,26.8 354.9,27 358.2,26.8 358.5,28 361.5,28.2 364.8,28.3 364.9,28.4 368.1,28.8 369.7,29.2 371.5,29.5 373.6,31.1 374.8,31.3 376.8,32.5 378.1,33 379.4,34.2 381.4,35.8 381.7,36.5 383.7,38.5 384.8,40.2 385.4,41.2 387,44.2 388.1,46.7 388.5,47 389.8,50.9 391,54.9 391.4,57.2 392.1,60.6 393.2,65.8 394.2,72.1 394.8,75.6 395.2,79.5 396.1,87.7 396.2,88.9 396.3,90.9 396.6,94.2 396.9,97.9 397.1,100.9 397.1,101.5 397.4,105.5 397.7,109.3 397.9,113.8 398,115.4 398.1,116.4 398.2,118.2 398.5,123 398.7,127.3 399,130.3 399,131 399.3,133 399.5,132.1 399.8,131.1 399.9,129.9 400.1,127.3 400.3,123.2 400.6,118.6 400.8,115.6 400.9,113.6 401.1,109.3 401.4,105.2 401.7,101.7 401.7,101.5 401.9,97.1 402.2,94.5 402.5,91.5 402.6,88.9 402.7,88.5 403.6,79.5 404.6,71.7 404.7,70.8 405.6,65.1 406.7,60.2 407.8,55.4 408.1,54.2 409,50.8 410.4,47.1 411.4,44.5 411.8,44 413.4,41.4 414.7,38.7 415.1,38.3 417.1,35.6 418,34.4 419.4,33.8 421.4,32.2 422,32.2 424.7,30.3 425.2,30.3 428,29.2 429.1,28.7 431.3,28.6 434,27.5 434.6,27.4 438,26.5 440.3,27.2 441.3,26.5 444.6,25.5 448,26 449.1,25.9 451.3,25.1 454.6,24.7 457.9,25.2 461.2,25.3 462.1,25.2 464.6,25 467.9,25.1 471.2,25 474.6,24.6 477.9,24.6 481.2,24.4 483.5,24.4 484.5,24.8 487.9,24.2 491.2,24.3 494.5,24.4" stroke="#c07878"/>
<polyline points="295,26.5 298.3,26.2 301.6,26.1 305,26.5 308.3,26.4 308.9,26.7 311.6,26.4 314.9,26.2 318.3,26.1 321.6,26.3 324.9,26.3 328.2,26.5 331.6,26.3 334.9,26.7 338.2,26.3 341.6,26.4 344.9,26.7 348.2,26.3 350.9,26.5 351.5,26.3 354.9,26.6 358.2,26.4 361.5,26.2 364.8,26.6 368.1,26.6 371.5,27.1 372.2,27 374.8,27.6 378.1,27.2 381.4,27.7 384.8,27.5 385.2,28.2 388.1,28 391.4,28.1 394,28.3 394.8,29 398.1,29.1 400.4,28.7 401.4,29.4 404.7,30.4 405.3,31.4 408.1,31.8 409.1,31.8 411.4,32.9 412.3,33.4 414.7,34.8 415,35.3 417.2,37.1 418,38.7 419.2,38.9 421,42.2 421.4,42.9 422.6,44.6 424,48.1 424.7,49.8 425.3,52.1 426.5,55.9 427.7,60.5 428,62.6 428.8,66.2 429.8,72.5 430.8,79.8 431.3,84.8 431.6,87.8 431.7,88.4 431.9,90 432.1,92.6 432.4,96 432.7,99.1 432.7,99.5 432.9,102.4 433.2,105.9 433.5,108.6 433.6,109.9 433.7,112.1 434,116 434.3,118.9 434.5,120.3 434.5,120.8 434.6,120.7 434.8,121.6 435.1,121.8 435.3,120.6 435.4,119.8 435.6,118.8 435.9,115.6 436.1,113 436.3,110.6 436.4,109.4 436.7,105.7 436.9,102.3 437.2,98.7 437.2,98.6 437.5,96.1 437.7,93.3 438,90.6 438,90.2 438.2,88.5 438.3,87.6 439.1,79.4 440.1,72 441.1,66.1 441.3,65.3 442.2,60.7 443.4,55.9 444.6,51.7 444.6,52 445.9,48.2 447.3,45.3 448,43.6 448.9,41.7 450.7,39.6 451.3,38.5 452.6,37.2 454.6,35.4 454.9,34.4 457.6,32.8 457.9,32.8 460.7,31.6 461.2,31.2 464.6,30.1 464.6,29.9 467.9,29.4 469.5,28.8 471.2,28.6 474.6,28.3 475.9,27.2 477.9,27.2 481.2,27.3 484.5,27.2 484.7,27 487.9,26.8 491.2,26.5 494.5,26.6" stroke="#a8d848"/>
<polyline points="295,25.7 298.3,25.1 301.6,25.4 305,25.4 308.3,25.3 311.6,25.4 314.9,25.1 316.7,25.1 318.3,25.4 321.6,25.6 324.9,25 328.2,25.1 331.6,25.6 334.9,25.9 338,25.7 338.2,25.6 341.6,26.3 344.9,25.8 348.2,26.6 351,26.4 351.5,27 354.9,27.1 358.2,27.6 359.8,27.6 361.5,27.6 364.8,28.7 366.2,28.8 368.1,29 371.1,30 371.5,29.4 374.8,31.6 374.9,30.5 378.1,33 378.1,32.6 380.8,34.2 381.4,35.1 383,37.1 384.8,38.8 385,39 386.8,41.4 388.1,43.7 388.4,44.1 389.8,47.3 391.1,51.7 391.4,52.2 392.3,56.2 393.5,60.5 394.5,66.4 394.8,67.9 395.6,72.5 396.6,80.6 397.4,88.8 397.5,90.8 397.7,92.5 397.9,95.5 398.1,97.4 398.2,99 398.5,102.8 398.5,103 398.7,107.4 399,111.2 399.3,116.5 399.4,118.7 399.5,121.3 399.8,126.6 400.1,131.8 400.3,135.2 400.3,136.1 400.6,138.5 400.9,139.1 401.1,136.4 401.2,135.6 401.4,131.7 401.7,126.4 401.9,121.5 402.1,118.4 402.2,116 402.5,111.6 402.7,106.8 403,102.7 403,102.9 403.3,98.8 403.5,95.3 403.8,92.4 403.9,90.5 404.1,89.3 404.7,81.7 404.9,79.9 405.9,72.3 406.9,65.5 408,60.7 408.1,59.7 409.2,54.8 410.4,50.7 411.4,48.5 411.7,47.1 413.1,44.1 414.7,40.8 414.7,41.3 416.5,38.4 418,36.7 418.4,36 420.7,34 421.4,33.2 423.4,31.9 424.7,31.3 426.5,30.5 428,29.9 430.4,29 431.3,28.5 434.6,27.8 435.3,27.6 438,27.2 441.3,26.6 441.7,26.7 444.6,26.7 448,25.6 450.5,25.4 451.3,25.8 454.6,24.7 457.9,25.4 461.2,24.6 463.5,24.7 464.6,24.6 467.9,24.2 471.2,24.2 474.6,24.4 477.9,24.6 481.2,24.6 484.5,24.1 484.8,23.7 487.9,23.9 491.2,24.1 494.5,24" stroke="#c0604a"/>
<polyline points="295,24.2 298.3,24.4 301.6,24.8 305,24.9 308,24.3 308.3,24.6 311.6,24.8 314.9,24.8 318.3,24.6 321.6,25 324.9,24.6 328.2,25.3 329.4,25.5 331.6,25.4 334.9,25.8 338.2,25.7 341.6,25.5 342.4,25.4 344.9,25.9 348.2,26.3 351.1,26.9 351.5,27 354.9,27 357.5,27.5 358.2,27.9 361.5,28.6 362.4,28.2 364.8,29.2 366.3,30 368.1,30.8 369.5,31.2 371.5,32.8 372.1,33.3 374.4,35.8 374.8,36.3 376.4,38.2 378.1,40.8 378.1,40.2 379.7,43 381.1,46.6 381.4,47 382.5,49.9 383.7,54.3 384.8,59.3 384.8,58.6 385.9,64.2 386.9,71.4 387.9,78.5 388.1,80.7 388.8,87.7 388.9,88.8 389,91 389.3,93.8 389.6,97.7 389.8,100.4 389.8,100.9 390.1,105.5 390.4,109.4 390.6,114.7 390.7,116 390.9,119 391.2,124.1 391.4,129.2 391.6,132.1 391.7,132.8 392,135 392.2,134.5 392.5,132.2 392.5,131.6 392.8,129.1 393,124.4 393.3,119.1 393.5,115.9 393.6,114.8 393.8,109.6 394.1,104.5 394.4,101.3 394.4,100.9 394.6,97.3 394.8,95.2 394.9,93.6 395.1,90.4 395.3,89 395.4,87.1 396.3,78.9 397.3,71.2 398.1,65.6 398.3,64.2 399.4,59.2 400.5,54.4 401.4,51 401.7,49.9 403,46.8 404.5,42.8 404.7,41.8 406,39.8 407.8,36.7 408.1,37.6 409.8,34.7 411.4,32.8 412.1,32.1 414.7,30.9 414.7,31 417.9,29 418,29.4 421.4,27.9 421.8,28.2 424.7,26.9 426.6,26.5 428,25.7 431.3,25.6 433,25.6 434.6,25.3 438,25.3 441.3,24.6 441.8,24.6 444.6,24.3 448,23.9 451.3,24.7 454.6,23.9 454.8,23.7 457.9,24.2 461.2,23.2 464.6,23.9 467.9,22.9 471.2,23.4 474.6,23.3 476.2,23.5 477.9,23.2 481.2,23.8 484.5,23.7 487.9,24 491.2,23.2 494.5,23.6" stroke="#c86a5a"/>
<polyline points="295,24 298.3,24.5 301.6,23.9 305,24 308.3,24.1 311.6,24 314.9,24.2 318.3,24.2 321.6,23.9 324.9,24.6 328.2,24.7 329.3,24.6 331.6,24.1 334.9,24.5 338.2,23.9 341.6,25.5 344.9,24.9 348.2,24.9 350.6,24.7 351.5,24.5 354.9,25 358.2,25.4 361.5,25.1 363.6,25 364.8,26.3 368.1,25.6 371.5,26 372.4,26.5 374.8,26.7 378.1,27 378.8,27.2 381.4,27.9 383.7,28.7 384.8,28.6 387.6,29.9 388.1,29.9 390.7,31.5 391.4,31.7 393.4,32.9 394.8,34.2 395.7,34.9 397.7,37.8 398.1,37.8 399.4,39.9 401,43.1 401.4,43.8 402.4,47 403.7,49.8 404.7,53.3 405,54.8 406.1,58.7 407.2,64.7 408.1,69.9 408.2,71.1 409.2,78.7 410,87.2 410.2,88.5 410.3,90 410.6,93.2 410.8,97.6 411.1,100.4 411.1,100.8 411.4,105 411.6,108.6 411.9,113.3 412,115.7 412.2,118.7 412.4,123 412.7,128 412.9,130.9 413,132 413.2,133.6 413.5,133.2 413.8,131.6 413.8,130.8 414,127.2 414.3,123 414.6,118 414.7,115.8 414.7,115 414.8,114.1 415.1,109.2 415.4,105.1 415.6,99.9 415.6,100.3 415.9,96.9 416.2,93.6 416.4,90.4 416.6,89.2 416.7,86.4 417.5,78.8 418,74.7 418.5,71.3 419.6,64.4 420.6,58.6 421.4,55.6 421.8,53.7 423,49.9 424.3,45.8 424.7,44.8 425.8,42.4 427.3,39.6 428,38.6 429.1,37.3 431.1,34.6 431.3,34.6 433.3,32.9 434.6,31.5 436,31.3 438,29.9 439.2,29 441.3,28.1 443,27.9 444.6,27.3 447.9,26.3 448,26.5 451.3,26.1 454.3,25.3 454.6,25.4 457.9,25 461.2,24.4 463.1,24.4 464.6,24.6 467.9,24.2 471.2,23.5 474.6,24.1 476.1,23.9 477.9,24 481.2,23.5 484.5,23.9 487.9,23.3 491.2,23.1 494.5,23.5" stroke="#c8a030"/>
<polyline points="295,27.4 296.7,27.2 298.3,27.2 301.6,27.3 305,26.8 308.3,26.6 311.6,27.7 314.9,27.3 318.3,27 321.6,27.4 324.9,27.2 328.2,27 331.6,26.7 334.9,26.8 338.2,27.2 338.6,27.1 341.6,27.3 344.9,27.2 348.2,27.6 351.5,27.8 354.9,27.5 358.2,27.1 360,27.2 361.5,28.1 364.8,27.7 368.1,27.9 371.5,27.8 372.9,28.3 374.8,27.9 378.1,28.5 381.4,28.6 381.7,28.5 384.8,29.8 388.1,29.8 388.1,29.3 391.4,30.5 393,30.6 394.8,31.3 396.9,32.4 398.1,32.7 400,33.5 401.4,34.3 402.7,35.2 404.7,37.7 405,37.4 407,40.3 408.1,41.4 408.7,42.5 410.3,45.1 411.4,47.6 411.7,48.1 413,52.3 414.3,56 414.7,57.8 415.4,60.9 416.5,66.6 417.5,72.3 418,75.9 418.5,79.4 419.4,87.1 419.5,88.3 419.6,89.6 419.9,92.3 420.2,95.1 420.4,97.6 420.4,98.5 420.7,100.8 421,105.5 421.2,107.5 421.3,109.2 421.4,108.7 421.5,111.1 421.7,113.4 422,116.4 422.2,117.9 422.3,117.6 422.5,118.6 422.8,119 423.1,117.2 423.1,117.7 423.3,115.6 423.6,114 423.9,111.1 424,108.9 424.1,108.1 424.4,104.4 424.7,102 424.9,98.3 425,98.3 425.2,95.6 425.5,92.4 425.7,89.8 425.9,88.3 426,86.8 426.9,79.6 427.8,72.3 428,71 428.9,66.2 430,60.6 431.1,56.3 431.3,55.2 432.3,51.9 433.6,48.6 434.6,46.5 435.1,45.6 436.6,42.6 438,40.2 438.4,39.8 440.4,37.6 441.3,36.4 442.7,35.2 444.6,33.6 445.3,33.8 448,32.1 448.5,31.8 451.3,31.3 452.4,30.6 454.6,30.3 457.2,29.5 457.9,29.2 461.2,29.2 463.6,28.6 464.6,28.5 467.9,27.9 471.2,27.8 472.4,27.4 474.6,27.6 477.9,27.3 481.2,26.7 484.5,26.7 485.4,26.7 487.9,26.6 491.2,26.2 494.5,26" stroke="#8ed050"/>
<polyline points="295,24.4 298.3,25.2 301.6,25.3 305,24.8 308.3,24.6 311.6,25.3 314.9,25 316,25.4 318.3,25.1 321.6,24.5 324.9,24.9 328.2,25 331.6,24.9 334.9,24.9 338.2,25 341.6,25.3 344.9,25.3 348.2,24.4 351.5,25.2 354.9,24.7 357.9,25.3 358.2,24.7 361.5,24.9 364.8,25.2 368.1,24.5 371.5,25.5 374.8,25.3 378.1,25.6 379.2,25.6 381.4,25.5 384.8,25.8 388.1,25.8 391.4,25.4 392.2,26.4 394.8,26.4 398.1,26.6 401,26.8 401.4,26.4 404.7,27 407.4,27.5 408.1,27.7 411.4,27.8 412.3,29.1 414.7,29.9 416.2,30.2 418,31 419.3,31.8 421.4,33.3 422,33.9 424.3,35.6 424.7,36.2 426.2,38 428,40.7 428,40 429.6,43.2 431,46.1 431.3,47.6 432.3,50.3 433.5,54.6 434.6,59.1 434.7,59.4 435.8,64.9 436.8,71.9 437.8,79 438,80.4 438.6,87.6 438.8,88.4 438.9,89.8 439.2,92.7 439.4,96.4 439.7,99.6 439.7,99.4 440,103.3 440.2,107.8 440.5,112.1 440.6,113.2 440.8,116.1 441,120.4 441.3,124.1 441.5,126.4 441.6,127.1 441.8,128.7 442.1,128.7 442.4,127.4 442.4,126 442.6,123.7 442.9,119.8 443.2,116.2 443.3,113.4 443.4,111.7 443.7,107.5 444,104.2 444.2,99.8 444.2,100 444.5,96.4 444.6,94.9 444.8,92.6 445,89.8 445.2,88.2 445.3,86.6 446.1,79 447.1,71.5 448,66 448.2,64.9 449.2,59.2 450.4,54.2 451.3,51.3 451.6,50.2 452.9,46.2 454.3,43.2 454.6,42.5 455.9,40.3 457.7,38.1 457.9,37.8 459.7,35.9 461.2,33.6 461.9,33.3 464.6,31.7 464.6,31.9 467.8,29.9 467.9,29.9 471.2,28.6 471.6,28.8 474.6,28.1 476.5,26.9 477.9,27.4 481.2,26.5 482.9,25.9 484.5,26.6 487.9,25.5 491.2,25.4 491.7,25.4 494.5,25.1" stroke="#f0a82c"/>
<polyline points="295,25.9 295.4,25.5 298.3,25.5 301.6,25.7 305,25.6 308.3,25.6 311.6,25.3 314.9,25.6 318.3,25.4 321.6,25.8 324.9,25.8 328.2,25.7 331.6,25.6 334.9,25.5 337.4,25.1 338.2,25.4 341.6,25.7 344.9,25.1 348.2,25.7 351.5,25.7 354.9,25.7 358.2,26 358.7,26.3 361.5,26 364.8,26.2 368.1,26.5 371.5,26.5 371.7,26.6 374.8,26.9 378.1,27.6 380.5,27.3 381.4,26.9 384.8,27.7 386.9,28 388.1,28.6 391.4,29.1 391.7,29.7 394.8,30.7 395.6,30.7 398.1,32.5 398.8,32.5 401.4,34.2 401.4,33.8 403.7,36.6 404.7,37.3 405.7,38.9 407.5,41.4 408.1,43.1 409,44.5 410.5,47.2 411.4,49.9 411.8,51.2 413,54.8 414.2,60.2 414.7,63.5 415.2,66.1 416.3,72.7 417.3,80.2 418,88.7 418.1,89.2 418.2,90.3 418.4,92.7 418.6,95.8 418.9,100.1 419.1,103.2 419.2,104.2 419.4,108 419.7,112.1 420,117.7 420.1,119.9 420.2,123.3 420.5,128.6 420.8,134.9 421,138.8 421,140.1 421.3,143.1 421.4,143.6 421.6,143 421.8,140.2 421.9,138.8 422.1,134.8 422.4,129.3 422.6,123.6 422.8,120.8 422.9,118 423.2,112.6 423.4,107.7 423.7,104.4 423.7,103.9 424,99.5 424.2,96.2 424.5,92.5 424.6,90.7 424.7,90 424.7,89.9 425.6,80.9 426.6,72.4 427.6,66 428,64.2 428.7,60.3 429.8,55.4 431.1,51.5 431.3,50.3 432.4,47.3 433.8,44.3 434.6,42.3 435.4,41.6 437.1,38.5 438,37.7 439.1,36.6 441.3,34.6 441.4,34 444.1,32.6 444.6,32.3 447.2,31.1 448,30.8 451.1,29.2 451.3,28.8 454.6,28.1 456,28.1 457.9,27.6 461.2,27.4 462.4,27.3 464.6,27.2 467.9,26.1 471.2,26.3 471.2,26.4 474.6,26.2 477.9,25.7 481.2,25.7 484.2,25.4 484.5,25.3 487.9,24.8 491.2,25.4 494.5,24.8" stroke="#e86a1c"/>
<polyline points="295,26.7 298.3,27 301.6,26.7 305,26.8 308.3,26.4 311.6,26.8 314.9,26.5 318.3,26.6 320.8,26.5 321.6,26.6 324.9,26.7 328.2,26.4 331.6,26.1 334.9,26.6 338.2,26.5 341.6,26.3 344.9,26.6 348.2,26.1 351.5,26.2 354.9,27.1 358.2,26.6 361.5,26.8 362.7,26.3 364.8,26.3 368.1,26.9 371.5,26.9 374.8,26.8 378.1,27 381.4,26.8 384.1,26.8 384.8,26.9 388.1,26.9 391.4,27.2 394.8,27.7 397.1,28 398.1,28.1 401.4,28 404.7,28.3 405.9,28.4 408.1,29.1 411.4,29.7 412.2,29.7 414.7,30 417.1,30.9 418,31.2 421,32.6 421.4,32.4 424.2,33.8 424.7,34.6 426.8,35.3 428,37 429.1,37.5 431.1,40.1 431.3,40.4 432.8,42.9 434.4,45.7 434.6,45.8 435.8,48.8 437.2,52.5 438,54.9 438.4,56.4 439.5,61.3 440.6,66.7 441.3,70.4 441.6,73.2 442.6,80.6 443.5,88.4 443.6,90.1 443.7,91.9 444,94.3 444.3,97.2 444.5,100.5 444.5,100.9 444.6,102.1 444.8,104.1 445.1,108 445.3,112.2 445.4,113 445.6,115.4 445.9,118.9 446.1,121.9 446.3,123.8 446.4,124.4 446.7,126 446.9,126.5 447.2,124.5 447.3,124.2 447.5,121.8 447.7,118.7 448,115.9 448,115 448.2,113.2 448.3,111.7 448.5,108.2 448.8,104.3 449.1,100.7 449.1,100.2 449.3,97.6 449.6,94 449.9,90.6 450,90 450.1,88.5 451,80.6 451.3,77.8 452,72.5 453,66.3 454.1,61.2 454.6,59.1 455.2,56.4 456.4,52.2 457.8,48.4 457.9,48.3 459.2,44.8 460.8,42.5 461.2,41.3 462.5,39.6 464.5,37.7 464.6,37.3 466.8,35.3 467.9,34.5 469.4,33.2 471.2,32.6 472.6,31 474.6,30.7 476.5,30.6 477.9,30.6 481.2,28.7 481.4,29 484.5,28.4 487.7,28.2 487.9,28.3 491.2,28 494.5,26.3" stroke="#98d858"/>
<polyline points="295,24 298,23.2 298.3,23.2 301.6,23.6 305,23.4 308.3,23.6 311.6,23.2 314.9,22.8 318.3,22.9 321.6,23.1 324.9,22.9 328.2,23.7 331.6,22.6 334.9,23.3 338.2,23.7 339.9,23.4 341.6,23.5 344.9,23.4 348.2,23.4 351.5,24.2 354.9,23.3 358.2,23.3 361.3,24.2 361.5,23.5 364.8,23.7 368.1,23.9 371.5,24 374.3,25.1 374.8,24.5 378.1,25.3 381.4,24.7 383.1,25.8 384.8,26.2 388.1,26 389.5,26.4 391.4,27 394.3,27.8 394.8,27.8 398.1,28.6 398.2,29.4 401.4,31 401.4,31 404,32.6 404.7,33.2 406.3,35 408.1,36.5 408.3,37.3 410.1,39.6 411.4,42 411.6,42.5 413.1,45.2 414.4,48.9 414.7,50.1 415.6,53.1 416.7,58.4 417.8,63.4 418,65 418.8,70.2 419.8,77.8 420.7,86.3 420.8,87.3 421,88.8 421.2,91.7 421.4,93.5 421.5,95.4 421.7,98.7 421.7,98.6 422,102.6 422.3,106.5 422.5,110.3 422.6,111.7 422.8,114.6 423.1,118.8 423.3,121.8 423.6,123.9 423.6,124.8 423.9,126.3 424.1,126.9 424.4,124.4 424.5,124.5 424.7,121.6 424.9,118.5 425.2,114.3 425.4,111.8 425.5,110.7 425.7,105.3 426,102.7 426.3,98.5 426.3,98.5 426.5,95.1 426.8,91.4 427.1,89.3 427.2,87.1 427.3,85.7 428,79.4 428.2,77.7 429.2,70.4 430.2,64.2 431.3,58.5 431.3,58.1 432.4,53.1 433.6,49.1 434.6,45.8 435,45.4 436.4,42.1 438,39.1 438,39.7 439.7,36.4 441.3,35 441.7,34.4 444,31.5 444.6,32 446.6,30.3 448,29.5 449.8,28.6 451.3,28 453.7,27.4 454.6,26.3 457.9,26.6 458.6,26.2 461.2,24.9 464.6,24.6 465,25 467.9,24.6 471.2,24.1 473.7,23 474.6,23.5 477.9,23.7 481.2,23.1 484.5,23.2 486.7,22.4 487.9,22.7 491.2,22.3 494.5,22.5" stroke="#f4bc3c"/>
<polyline points="295,25 298.3,24.8 301.6,24.5 302,24.8 305,23.9 308.3,24.6 311.6,24.8 314.9,24.3 318.3,24.8 321.6,24.5 324.9,24.7 328.2,24.9 331.6,24.3 334.9,24.7 338.2,24.4 341.6,24.9 343.9,25.3 344.9,25.2 348.2,25.1 351.5,25 354.9,25 358.2,25 361.5,25.6 364.8,25.3 365.3,25.7 368.1,25.7 371.5,24.9 374.8,25.4 378.1,26.1 378.3,25.5 381.4,25.9 384.8,26.3 387.1,26.4 388.1,27.1 391.4,27.5 393.4,28.1 394.8,27.9 398.1,29.3 398.3,29.2 401.4,29.9 402.2,30.5 404.7,31.5 405.4,31.4 408,34 408.1,33.3 410.3,35.9 411.4,37.2 412.3,37.9 414,40.2 414.7,41.9 415.6,43.6 417,46.8 418,49.5 418.4,50.3 419.6,54.7 420.7,59.3 421.4,62.1 421.8,64.8 422.8,70.7 423.8,78.8 424.7,86.6 424.8,86.9 424.9,88.7 425.2,92.1 425.5,95.1 425.7,98.3 425.7,98.8 426,101.9 426.3,105.7 426.5,109.2 426.6,111.5 426.8,113.1 427.1,116.8 427.3,120.2 427.5,122.1 427.6,122.5 427.9,124.1 428,124.1 428.1,123.5 428.4,122.9 428.5,122.1 428.7,120.7 428.9,117 429.2,113.2 429.4,111 429.5,109.5 429.7,106.1 430,101.9 430.3,98.8 430.3,98.1 430.5,95.2 430.8,92.2 431.1,88.7 431.2,87.6 431.3,86 432.2,78.4 433.2,70.9 434.2,64.2 434.6,61.9 435.3,59 436.4,54.3 437.6,50 438,49 439,46.5 440.4,43.4 441.3,42.1 442,40.2 443.7,37.7 444.6,36.1 445.7,35.2 448,32.9 448,32.7 450.6,31.4 451.3,31.3 453.8,29.5 454.6,29.6 457.7,28.4 457.9,27.8 461.2,27.2 462.6,26.7 464.6,27.1 467.9,26.1 468.9,25.6 471.2,26.1 474.6,25.3 477.7,24.9 477.9,25.7 481.2,24.3 484.5,24.8 487.9,24.5 490.7,23.8 491.2,24.8 494.5,24" stroke="#60c0a8"/>
<polyline points="295,24.7 298.3,25.4 301.6,24.9 305,24.8 308.3,25 311.6,25 314.9,24.9 318.3,24.5 321.6,24.6 324.9,24.8 325.7,25 328.2,24.6 331.6,24.5 334.9,24.6 338.2,24.2 341.6,25.1 344.9,23.8 348.2,24.6 351.5,24.9 354.9,25.1 358.2,24.3 361.5,24.4 364.8,24.7 367.6,24.7 368.1,24.6 371.5,24.9 374.8,24.5 378.1,24.7 381.4,25 384.8,25.6 388.1,24.8 388.9,25.4 391.4,25.7 394.8,25.1 398.1,25.6 401.4,26.5 401.9,26.5 404.7,26.3 408.1,26.9 410.7,26.9 411.4,26.2 414.7,26.6 417.1,27.9 418,27.9 421.4,28.7 422,29.2 424.7,30.5 425.9,30.2 428,31.6 429,32 431.3,33.4 431.7,34.2 434,35.5 434.6,36.7 436,38.2 437.7,41 438,41.1 439.3,43.4 440.7,47.2 441.3,48.4 442,50.8 443.3,55.2 444.4,59.8 444.6,60.5 445.5,65 446.5,71.3 447.5,79.5 448,83.5 448.3,87.4 448.5,88.4 448.6,90.3 448.9,93.7 449.1,97.2 449.4,99.6 449.4,99.9 449.7,104.2 449.9,107.5 450.2,112.1 450.3,113.5 450.5,115.9 450.7,120.5 451,124.4 451.2,127 451.3,126.9 451.5,128.5 451.8,128.4 452.1,126.8 452.1,126.5 452.3,123.8 452.6,120.7 452.9,116.1 453,113.5 453.1,112.1 453.4,107.4 453.7,103.8 453.9,99.8 454,99.6 454.2,96.7 454.5,92.7 454.6,91.4 454.7,90.2 454.9,88.5 455,87.6 455.8,79.3 456.8,71.6 457.9,65 457.9,64.8 458.9,59.3 460.1,54.7 461.2,51.1 461.3,50.6 462.6,47 464.1,43.8 464.6,42.5 465.6,40.2 467.4,38.2 467.9,37.8 469.4,35.6 471.2,32.9 471.7,33.7 474.3,31.5 474.6,31.6 477.5,29.7 477.9,29.4 481.2,28.6 481.3,28.2 484.5,27.9 486.2,27.1 487.9,27.3 491.2,26.2 492.6,26.3 494.5,25.7" stroke="#f08c2c"/>
<polyline points="295,25.7 298.3,25.8 301.6,25.9 305,25.6 308.3,25.4 311.6,25.6 314.9,25.5 318.3,25.2 321.6,25.7 324.9,25.5 327.3,25.3 328.2,25.5 331.6,25.5 334.9,25.7 338.2,25.2 341.6,25.8 344.9,26 348.2,25.8 348.6,25.5 351.5,25.7 354.9,26.3 358.2,26.2 361.5,26.5 361.6,26.6 364.8,26.7 368.1,27.1 370.4,27.5 371.5,27.1 374.8,28.3 376.8,28.1 378.1,28.2 381.4,29 381.7,29.6 384.8,30.8 385.6,31.6 388.1,32.3 388.7,32 391.4,35 391.4,35 393.7,36.3 394.8,37.5 395.7,39.4 397.4,41.5 398.1,42.5 399,44.8 400.4,47.4 401.4,50.7 401.7,51 403,55.5 404.1,60.6 404.7,64 405.2,66.2 406.2,72.7 407.2,80.6 408.1,89.1 408.2,90.2 408.3,91.7 408.6,95.5 408.8,98.9 409.1,102.2 409.1,102.7 409.4,106.5 409.6,110.8 409.9,116.1 410,117.9 410.2,122 410.4,126.3 410.7,130.9 410.9,134.7 411,134.7 411.2,138 411.4,137.4 411.5,137.6 411.8,135.4 411.8,134.6 412,131.2 412.3,126.5 412.6,121.5 412.7,118.1 412.8,115.7 413.1,111.1 413.4,106.4 413.6,102.8 413.7,102.5 413.9,98.9 414.2,95.2 414.4,91.8 414.6,89.6 414.7,88.7 415.5,80.4 416.5,72.2 417.6,66.2 418,63.8 418.6,60.1 419.8,55.4 421,51.2 421.4,49.9 422.3,47.6 423.8,44.2 424.7,42.3 425.3,41.1 427.1,38.4 428,37.5 429.1,36.2 431.3,35 431.4,33.9 434,32.9 434.6,32 437.2,30 438,30.5 441,29.8 441.3,28.8 444.6,28.5 445.9,28.1 448,27.7 451.3,26.9 452.3,26.7 454.6,26.7 457.9,26 461.1,26.3 461.2,25.8 464.6,25.9 467.9,25.3 471.2,25.5 474.1,25.3 474.6,24.7 477.9,25.4 481.2,25.2 484.5,24.6 487.9,24.8 491.2,24.7 494.5,24.5" stroke="#d05038"/>
<polyline points="295,23.2 298.3,23.5 301.6,23.2 305,23 308.3,23.4 311.6,22.8 313.3,23.4 314.9,23.1 318.3,23 321.6,22.1 324.9,23.5 328.2,22.9 331.6,22.2 334.9,23.1 338.2,22.6 341.6,22.8 344.9,23.3 348.2,22.8 351.5,23.2 354.9,22.9 355.2,23.4 358.2,22.7 361.5,23.7 364.8,23.1 368.1,22.7 371.5,23 374.8,23.3 376.6,23.4 378.1,23.5 381.4,22.7 384.8,23.7 388.1,23.9 389.6,24.2 391.4,24.3 394.8,24.2 398.1,25 398.4,25.1 401.4,25.4 404.7,26 404.8,25.8 408.1,26.8 409.6,27.1 411.4,27.9 413.5,28.1 414.7,29 416.7,30.2 418,30.9 419.3,31.9 421.4,34.2 421.6,34 423.6,35.8 424.7,37.6 425.3,38.5 426.9,42 428,44.6 428.4,45.2 429.7,48.3 430.9,53.2 431.3,54.9 432,57.4 433.1,63.4 434.1,69.8 434.6,73.4 435.1,77.4 436,85.7 436.1,86.7 436.2,88.7 436.5,91.6 436.8,94.8 437,98.6 437,98.6 437.3,102.7 437.6,106.1 437.8,110.4 437.9,111.9 438,112.4 438.1,114.6 438.4,118.9 438.6,123.2 438.9,125.2 438.9,126.2 439.2,126.9 439.4,127.6 439.7,125.8 439.8,125.8 440,122.6 440.2,118.8 440.5,115.3 440.7,112.4 440.8,110.7 441,106.5 441.3,101.9 441.6,97.9 441.6,98.6 441.8,94.6 442.1,91.7 442.4,88.1 442.5,87.5 442.6,85.7 443.5,77.1 444.5,70 444.6,68.3 445.5,63.4 446.6,57.3 447.7,52.7 448,52.2 448.9,48.9 450.3,45 451.3,42.2 451.7,41.7 453.3,38.9 454.6,35.7 455,36.6 457,33.9 457.9,32.8 459.3,32.1 461.2,30.4 461.9,30 464.6,29 465.1,28.2 467.9,27.5 469,27.1 471.2,25.8 473.9,25.9 474.6,25.3 477.9,24.5 480.2,24.2 481.2,24.2 484.5,24 487.9,24 489,23.4 491.2,23.2 494.5,23.2" stroke="#e47a2c"/>
<polyline points="295,27 298.3,27.2 301.6,27.5 305,26.5 308.3,26.7 311.6,26.7 314,27.2 314.9,26.8 318.3,26.6 321.6,26.9 324.9,26.2 328.2,27.2 331.6,26.4 334.9,27.2 338.2,27.1 341.6,27 344.9,26.4 348.2,26.8 351.5,26.9 354.9,27 355.9,27.2 358.2,27 361.5,27.1 364.8,27 368.1,27.1 371.5,27.8 374.8,27.4 377.2,27 378.1,27.5 381.4,27.6 384.8,28 388.1,28.2 390.2,28.2 391.4,28.7 394.8,28.6 398.1,29.4 399,29 401.4,29.9 404.7,29.8 405.4,29.8 408.1,31.2 410.3,31.1 411.4,31.8 414.2,32.4 414.7,33.1 417.3,34.4 418,34.8 420,35.7 421.4,37.8 422.3,37.9 424.3,40.4 424.7,41.1 426,43 427.6,45.5 428,46.4 429,48.5 430.3,52.9 431.3,56.5 431.6,57 432.7,61.5 433.8,67 434.6,71.7 434.8,72.4 435.8,80.3 436.6,88.5 436.8,88.8 436.9,90.8 437.2,93.5 437.4,96.2 437.7,99.2 437.7,99.5 438,102.7 438.2,105.8 438.5,109.2 438.6,110 438.8,113.6 439,115.9 439.3,118.5 439.5,119.7 439.6,120.2 439.8,121.1 440.1,121.7 440.4,120.3 440.4,119.8 440.6,118.3 440.9,115.8 441.2,112.6 441.3,110.5 441.3,111.2 441.4,108.9 441.7,105.9 442,102.9 442.2,99.3 442.2,99.2 442.5,96 442.8,93.6 443,90.3 443.2,89.3 443.3,87.8 444.1,80.1 444.6,76.6 445.1,72.8 446.2,66.9 447.2,61 448,58.4 448.4,56.8 449.6,52.5 450.9,48.8 451.3,48.1 452.4,45.3 453.9,42.6 454.6,41.3 455.7,40.4 457.7,38.1 457.9,37.5 459.9,35.9 461.2,34.7 462.6,33.6 464.6,32.3 465.8,31.7 467.9,31 469.6,30.8 471.2,30 474.5,29.5 474.6,29.2 477.9,29 480.9,27.8 481.2,28 484.5,27.8 487.9,27.7 489.7,27.1 491.2,27.2 494.5,26.7" stroke="#bce048"/>
<polyline points="295,26.4 298.3,27.1 301.6,26.8 305,26.6 308.3,26.7 311.6,26.8 314.9,26 318.3,26.9 321.6,26.5 324.9,26.7 327.9,26.6 328.2,27.3 331.6,26.3 334.9,26.6 338.2,26.9 341.6,26.1 344.9,26.7 348.2,26.8 351.5,26.9 354.9,26.4 358.2,26.7 361.5,26.8 364.8,27.2 368.1,27.1 369.9,26.8 371.5,26.9 374.8,27.6 378.1,27.3 381.4,27 384.8,26.4 388.1,27.5 391.2,28.1 391.4,27.2 394.8,27.7 398.1,28.1 401.4,27.7 404.2,28.1 404.7,28.4 408.1,28.7 411.4,28.7 413,28.8 414.7,29.6 418,29.3 419.4,30.2 421.4,29.8 424.3,30.9 424.7,31.1 428,32.1 428.1,32.5 431.3,33.9 431.3,33.4 434,35.8 434.6,35.9 436.2,37.9 438,39.6 438.2,39.6 440,42.8 441.3,44.7 441.6,45.9 443,48.8 444.3,52.2 444.6,52.8 445.5,56 446.7,61.1 447.7,66.2 448,67.3 448.8,72.8 449.8,79.5 450.6,86.6 450.7,87.7 450.9,89.8 451.1,92.5 451.3,94.1 451.4,95.4 451.7,98.1 451.7,98.1 451.9,101.3 452.2,104.8 452.5,107.5 452.6,108.7 452.7,111 453,113.7 453.3,116.1 453.5,118.1 453.5,117.9 453.8,118.7 454.1,118.3 454.3,117.8 454.4,117.7 454.6,116.1 454.9,113.5 455.1,110.6 455.3,109.1 455.4,107.6 455.7,104.3 455.9,101.9 456.2,97.8 456.2,98 456.5,94.9 456.7,92.3 457,89.6 457.1,88 457.3,86.9 457.9,80.7 458.1,79.6 459.1,72.6 460.1,66.2 461.2,60.9 461.2,60.2 462.4,56.2 463.6,51.4 464.6,48.9 464.9,48.2 466.3,44.5 467.9,42.1 467.9,42.1 469.7,39.2 471.2,37.4 471.6,37.4 473.9,34.4 474.6,34.4 476.6,33.6 477.9,32.6 479.7,31.4 481.2,31 483.6,30 484.5,29.3 487.9,28.8 488.5,28.4 491.2,28.3 494.5,28.2" stroke="#d4e044"/>
<polyline points="295,24.4 298.3,24.9 301.6,24.9 305,24.9 308.1,24.8 308.3,24.5 311.6,25 314.9,24.6 318.3,25 321.1,25.6 321.6,25.7 324.9,25.7 328.2,26.2 329.9,26.2 331.6,26.1 334.9,26.8 336.3,26.8 338.2,27.7 341.1,28.4 341.6,28.7 344.9,30 345,29.6 348.2,31 348.2,31.1 350.8,32.8 351.5,32.7 353.1,35.1 354.9,36.8 355.1,37.2 356.9,39.9 358.2,41.6 358.4,42.5 359.9,45.3 361.2,49.7 361.5,49.8 362.4,52.9 363.5,58.6 364.6,63.8 364.8,65 365.6,70.1 366.6,78.3 367.5,85.8 367.6,86.9 367.8,89 368,92.6 368.1,93.7 368.3,95.3 368.5,98.2 368.5,98.9 368.8,102.8 369.1,106.2 369.3,110.3 369.4,111.8 369.6,114.6 369.9,118.3 370.1,122.1 370.4,125.2 370.4,125 370.7,126.4 370.9,126.7 371.2,124.7 371.3,124.7 371.5,122 371.7,119 372,114.5 372.2,112.1 372.3,110.7 372.5,106.7 372.8,102.3 373.1,98.5 373.1,98.6 373.3,95.5 373.6,92.1 373.9,88.5 374,87.4 374.1,85.5 374.8,79.8 375,77.7 376,69.9 377,63.2 378.1,58.2 378.1,58.1 379.2,53.7 380.4,48.8 381.4,46.2 381.8,45.5 383.2,42.2 384.8,39.1 384.8,39.1 386.5,36.2 388.1,35.3 388.5,34 390.8,32.3 391.4,31.7 393.4,30.4 394.8,29.6 396.6,28.5 398.1,28.1 400.5,27.7 401.4,27.1 404.7,26.3 405.4,26 408.1,25.6 411.4,25.2 411.8,24.8 414.7,25.1 418,23.8 420.5,24.4 421.4,24.5 424.7,23.8 428,23.5 431.3,23.4 433.5,23.2 434.6,23.5 438,23.5 441.3,23.4 444.6,23.4 448,23.5 451.3,22.8 454.6,22.7 454.9,23.2 457.9,23.3 461.2,23.3 464.6,23.6 467.9,23.3 471.2,23.2 474.6,23 477.9,23.2 481.2,23.4 484.5,22.6 487.9,22.2 491.2,23.3 494.5,22.7" stroke="#e0866a"/>
<polyline points="295,25.2 298.3,25.3 301.6,25.4 305,24.7 308.3,24.7 311.6,24.9 314.9,25.2 318.3,25.2 321.6,24.9 324.9,25.2 328.2,24.8 331.6,24.9 331.9,25.4 334.9,25 338.2,24.8 341.6,25.1 344.9,25.7 348.2,25.5 351.5,25.6 354.9,25.5 358.2,25.6 361.5,25.8 364.8,25.4 368.1,25.4 371.5,26 373.9,26.3 374.8,25.8 378.1,25.9 381.4,25.9 384.8,26.3 388.1,26.1 391.4,26.5 394.8,26 395.2,25.8 398.1,26.7 401.4,27.3 404.7,26.8 408.1,27 408.2,26.8 411.4,27 414.7,27.2 417,26.7 418,27.8 421.4,28.2 423.4,28.3 424.7,29.2 428,29.2 428.3,29.7 431.3,31 432.1,31.1 434.6,31.9 435.3,32.1 437.9,33.7 438,34 440.2,36.3 441.3,37.1 442.2,38.3 444,40.1 444.6,42.6 445.5,43.2 447,46.6 448,49.3 448.3,50.5 449.5,54.7 450.7,59.5 451.3,62.6 451.7,63.9 452.8,70.4 453.8,77.6 454.6,85.1 454.7,86.8 454.9,87.9 455.1,90.5 455.4,93 455.6,96.4 455.7,96.2 455.9,99.4 456.2,102.5 456.5,105.8 456.6,106.6 456.7,108.6 457,111.9 457.3,113.3 457.5,114.5 457.5,115.7 457.8,116 457.9,116.7 458.1,116.5 458.3,114.9 458.4,115.1 458.6,113.2 458.9,111.2 459.1,108.2 459.3,106.7 459.4,105.1 459.7,101.9 459.9,99.1 460.2,96.4 460.2,96.1 460.5,93.5 460.7,90.2 461,87.5 461.1,86.4 461.2,84.8 462.1,77.9 463.1,70 464.1,64.1 464.6,61.4 465.2,59.2 466.3,54.6 467.6,50.7 467.9,49 468.9,46.9 470.3,42.9 471.2,41.5 471.9,40.2 473.6,38.2 474.6,36.9 475.6,35.5 477.9,33.3 477.9,33.9 480.6,31.6 481.2,31.6 483.7,29.9 484.5,29.8 487.6,28.8 487.9,28.5 491.2,27.5 492.5,27.6 494.5,26.8" stroke="#c8ea5c"/>
<polyline points="295,27.2 298.3,27.6 301.6,27.3 305,27.1 308.3,27.5 311.6,27.7 314.9,27.3 318.3,27 321.6,27.1 324.9,27.4 326,26.9 328.2,27.3 331.6,26.9 334.9,27.4 338.2,27.1 341.6,26.9 344.9,27.5 347.3,27.4 348.2,27.2 351.5,27.3 354.9,27.5 358.2,27.8 360.3,28.3 361.5,27.9 364.8,28.6 368.1,28.5 369.1,29.3 371.5,28.5 374.8,28.9 375.5,29.5 378.1,30.4 380.4,30.9 381.4,30.9 384.2,32 384.8,32.6 387.4,33.4 388.1,34 390.1,35.4 391.4,36.9 392.3,37.7 394.3,40.2 394.8,40.5 396.1,42.8 397.7,45.1 398.1,46.3 399.1,48.7 400.4,52.4 401.4,55.7 401.6,57.1 402.8,61.1 403.9,67.1 404.7,72.7 404.9,73.9 405.9,81.6 406.7,89.8 406.8,90.8 407,92.8 407.3,95.7 407.5,99.1 407.8,102.7 407.8,102.1 408.1,106.7 408.3,110.8 408.6,115.2 408.7,117 408.8,119.6 409.1,123.9 409.4,128.4 409.6,131.4 409.6,131.5 409.9,134.2 410.2,133.5 410.4,131.7 410.5,131 410.7,128.8 411,124.4 411.2,120.1 411.4,117.7 411.4,116.8 411.5,115.3 411.8,111.1 412,106.4 412.3,102.8 412.3,103.2 412.6,99.5 412.8,95.7 413.1,92.5 413.3,90.8 413.4,89.6 414.2,81.7 414.7,77.5 415.2,74 416.2,67.4 417.3,61.9 418,58.8 418.5,56.9 419.7,52.6 421,49.1 421.4,47.7 422.4,45.7 424,42.2 424.7,41.3 425.8,40.5 427.7,37.5 428,38 430,35.3 431.3,34.7 432.7,34.2 434.6,33.5 435.8,32.5 438,31.9 439.7,30.6 441.3,30.9 444.6,29.8 444.6,29.6 448,29.1 451,28.6 451.3,28.7 454.6,28.1 457.9,28.2 459.8,27.6 461.2,28 464.6,27.4 467.9,27.6 471.2,27.1 472.8,26.8 474.6,26.5 477.9,27.2 481.2,26.8 484.5,26.7 487.9,25.9 491.2,26.4 494.1,25.9 494.5,26.2" stroke="#70b8c8"/>
<polyline points="295,25.3 298.3,25.2 299.3,25.1 301.6,25.8 305,25 308.3,25.2 311.6,26.1 314.9,24.9 318.3,25.1 321.6,25.9 324.9,25.6 328.2,26.1 331.6,25.8 334.9,25.8 338.2,25.7 341.3,26.2 341.6,25.9 344.9,26.3 348.2,26 351.5,26 354.9,26.2 358.2,26 361.5,26.2 362.6,26.4 364.8,26.2 368.1,27.1 371.5,26.9 374.8,27.6 375.6,27.1 378.1,27.4 381.4,27.4 384.4,28 384.8,28.1 388.1,28.4 390.8,28.9 391.4,28.8 394.8,30 395.7,30.5 398.1,31.3 399.5,31 401.4,32.6 402.7,33.1 404.7,34.5 405.4,34.4 407.6,36.9 408.1,36.8 409.6,39.2 411.4,41.5 411.4,41.3 413,44.2 414.4,48.1 414.7,48.6 415.7,51.4 416.9,56.1 418,60 418.1,60.3 419.1,65.8 420.2,72.9 421.2,80.2 421.4,81.8 422,88.3 422.1,90 422.3,91.4 422.5,94.2 422.8,98.4 423.1,101.8 423.1,102 423.3,106.4 423.6,110.3 423.9,114.2 424,116.8 424.1,119.5 424.4,123.8 424.7,128.3 424.9,131.4 424.9,132.1 425.2,134.1 425.5,134 425.7,131.8 425.8,131.4 426,128.2 426.3,124.6 426.5,119.1 426.7,116.6 426.8,114.7 427.1,110.3 427.3,105.7 427.6,101.9 427.6,101.4 427.9,98.4 428,96.3 428.1,94.3 428.4,91.1 428.6,89.8 428.7,88.4 429.5,80.3 430.5,72.4 431.3,67 431.5,65.4 432.6,60 433.8,54.9 434.6,51.7 435,51.5 436.3,47.3 437.7,44.2 438,44 439.3,41.4 441.1,38.6 441.3,37.7 443,36.1 444.6,34.7 445.3,34.1 448,32.5 448,32.2 451.1,30.6 451.3,31 454.6,29.4 455,28.2 457.9,28.2 459.9,27.9 461.2,27.4 464.6,27.4 466.3,26.8 467.9,26.4 471.2,26.8 474.6,26.2 475.1,26.1 477.9,25.8 481.2,25.7 484.5,25.3 487.9,25 488.1,25.2 491.2,24.9 494.5,24.8" stroke="#f08020"/>
<polyline points="295,24.7 298.3,25 301.6,24.9 305,24.4 308.3,24.9 311.3,25.3 311.6,24.8 314.9,24.8 318.3,25.1 321.6,24.9 324.9,24.7 328.2,25.1 331.6,25.1 334.9,25.3 338.2,25 341.6,25.2 344.9,25.4 348.2,25.3 351.5,24.7 353.2,25.8 354.9,25.7 358.2,25.3 361.5,25.8 364.8,24.9 368.1,26 371.5,26 374.6,25.9 374.8,25.4 378.1,25.6 381.4,25.8 384.8,26.1 387.6,26 388.1,26.9 391.4,26.5 394.8,26.5 396.4,27.4 398.1,27.2 401.4,27.4 402.8,27.7 404.7,28.5 407.6,28.6 408.1,29.2 411.4,30.2 411.5,30.8 414.7,32.3 414.7,32.3 417.3,33.3 418,35.1 419.6,36.4 421.4,37.6 421.6,38.1 423.4,41.6 424.7,43.2 424.9,43.7 426.4,46.5 427.7,51.2 428,51.8 428.9,54.5 430,59.4 431.1,65.5 431.3,66.5 432.1,72.2 433.1,79.2 434,88.1 434.1,88.8 434.3,90.8 434.5,94.5 434.6,96 434.8,97.6 435,101.1 435,101.1 435.3,105.3 435.6,109.9 435.8,114.4 435.9,116.7 436.1,119.7 436.4,124.2 436.6,129 436.9,132.5 436.9,132.8 437.2,135.2 437.4,135.1 437.7,132.4 437.8,132.4 438,129.2 438.2,124.2 438.5,119.4 438.7,116.4 438.8,115 439,109.9 439.3,105.6 439.6,101.7 439.6,101.3 439.8,97.8 440.1,93.9 440.4,90.4 440.5,89.1 440.6,87.5 441.3,81.1 441.5,79.9 442.5,71.6 443.5,64.7 444.6,59 444.6,59.5 445.7,54 446.9,50.6 448,47.6 448.3,46.8 449.7,42.9 451.3,40.3 451.3,40.1 453,38.4 454.6,35.9 455,35.5 457.3,33.2 457.9,33 459.9,31.2 461.2,31 463.1,30.3 464.6,29.8 467,28.1 467.9,28 471.2,27.6 471.9,26.9 474.6,26.8 477.9,26.3 478.3,26.6 481.2,26 484.5,25.5 487,25.3 487.9,25.5 491.2,24.8 494.5,24.5" stroke="#c86038"/>
<polyline points="295,24.9 298.3,25.3 301.6,25.1 305,25 308.3,25.1 310,24.7 311.6,25.3 314.9,25.2 318.3,25 321.6,25.1 324.9,25 328.2,25.2 331.6,25.4 334.9,25 338.2,25.2 341.6,25 344.9,24.9 348.2,25.4 351.5,25.6 351.9,25.5 354.9,25.6 358.2,26 361.5,25.1 364.8,25.5 368.1,25 371.5,25.9 373.3,25.6 374.8,25.8 378.1,26 381.4,25.8 384.8,26.3 386.2,26.4 388.1,26.5 391.4,27.4 394.8,27.3 395,27.4 398.1,27.1 401.4,27.9 401.4,27.9 404.7,28.7 406.3,29.3 408.1,29.3 410.2,30.7 411.4,31.5 413.3,32 414.7,32.7 416,33.9 418,35.6 418.3,35.7 420.3,37.8 421.4,39.6 422,40.3 423.6,43.6 424.7,45.5 425,47.4 426.3,50.4 427.6,54.8 428,56.6 428.7,60 429.8,64.9 430.8,71.8 431.3,75.8 431.8,79.7 432.7,87.8 432.8,88.9 432.9,90.9 433.2,94.1 433.5,97.1 433.7,100.6 433.7,100.3 434,104.9 434.3,108.7 434.5,112.8 434.6,115.1 434.6,115.3 434.8,117.7 435,122.3 435.3,126 435.5,129.4 435.6,129.9 435.8,132.1 436.1,131.6 436.4,129.4 436.4,129.2 436.6,126.2 436.9,122.5 437.2,117.5 437.3,115 437.4,113.4 437.7,108.4 438,104.7 438.2,100.7 438.3,100.5 438.5,97 438.8,93.7 439,90.9 439.2,88.8 439.3,87.5 440.2,79.3 441.1,71.7 441.3,70 442.2,65.3 443.3,59.5 444.4,54.6 444.6,54.1 445.6,50.8 446.9,46.6 448,44.1 448.4,43.4 449.9,41 451.3,38.6 451.7,37.8 453.7,35.4 454.6,34.4 456,33.4 457.9,31.9 458.6,31.2 461.2,31 461.8,29.8 464.6,29.1 465.7,28.5 467.9,28 470.5,27.7 471.2,27.6 474.6,26.6 476.9,26.4 477.9,26.1 481.2,26 484.5,25 485.7,25.6 487.9,24.8 491.2,25.4 494.5,24.8" stroke="#8a6aa8"/>
<polyline points="295,25.2 298.3,25 301.6,24.9 305,25.2 307.3,25 308.3,25.7 311.6,25.5 314.9,24.9 318.3,25.5 321.6,25.4 324.9,25.9 328.2,25.5 331.6,25.9 334.9,25.4 338.2,25.1 341.6,25.4 344.9,25.5 348.2,25.7 349.3,25.4 351.5,25.9 354.9,25.8 358.2,25.1 361.5,26.2 364.8,26 368.1,26.4 370.6,25.7 371.5,26.1 374.8,26.5 378.1,26.7 381.4,26.2 383.6,26.4 384.8,26.5 388.1,27 391.4,27 392.4,27 394.8,27.5 398.1,28.7 398.8,28.9 401.4,29.3 403.6,29.4 404.7,30.3 407.5,31.2 408.1,31.1 410.7,32.7 411.4,33.2 413.3,33.9 414.7,35.2 415.6,36 417.6,38.2 418,38.6 419.4,41 420.9,44 421.4,45.3 422.4,47.2 423.7,51 424.7,53.8 424.9,54.8 426,59.3 427.1,64.8 428,70.1 428.2,71.3 429.1,78.9 430,86.9 430.1,87.9 430.3,89.9 430.5,92.4 430.8,95.7 431,99.3 431.1,99.8 431.3,102.7 431.6,106.2 431.9,109.9 432,110.8 432.1,113.7 432.4,117.4 432.7,120 432.9,121.8 432.9,122 433.2,124 433.5,123.8 433.7,122.6 433.8,121.6 434,119.9 434.3,117 434.5,113.3 434.6,111.7 434.7,111.2 434.8,109.8 435,106.2 435.3,102.5 435.6,98.8 435.6,98.6 435.8,95.2 436.1,92.2 436.4,89.6 436.5,88.5 436.6,87.2 437.5,79.1 438,75.2 438.5,71.8 439.5,65.1 440.6,59.5 441.3,56.7 441.7,54.8 443,50.7 444.3,47.1 444.6,46.3 445.7,43.7 447.3,40.7 448,40 449,38.8 451,36.1 451.3,35.5 453.3,34.3 454.6,32.6 456,32.2 457.9,30.9 459.1,30.6 461.2,29.4 463,29 464.6,28.4 467.9,28.3 467.9,27.5 471.2,27.6 474.3,26.8 474.6,26.5 477.9,26.3 481.2,25.8 483.1,25.8 484.5,25.7 487.9,25.7 491.2,25 494.5,24.8" stroke="#a8d848"/>
<polyline points="295,25.5 298.3,25.3 301.6,25.1 305,25.2 308.3,25 311.6,25.3 314.9,25.7 318.3,25.7 321.6,25.3 324.9,24.9 328.2,25.6 331.6,25.8 332,25.1 334.9,25.6 338.2,25.4 341.6,25.3 344.9,25.9 348.2,25.8 351.5,25.9 353.3,25.6 354.9,25.6 358.2,26 361.5,25.9 364.8,26.7 366.3,26.2 368.1,26.3 371.5,26.6 374.8,27.4 375.1,27 378.1,27.7 381.4,27.5 381.5,28 384.8,28.7 386.4,29.1 388.1,29.5 390.2,30.4 391.4,30.8 393.4,32.2 394.8,32.5 396.1,33.9 398.1,35.3 398.3,35.7 400.3,37.8 401.4,39.6 402.1,41.1 403.6,43.9 404.7,46.1 405.1,46.5 406.4,50.7 407.6,54.8 408.1,56.2 408.8,59.9 409.8,65.2 410.9,71.9 411.4,75.9 411.9,79.8 412.7,88 412.8,89.3 413,91.5 413.2,93.9 413.5,98.2 413.8,102 413.8,102.4 414,106.7 414.3,110.8 414.6,116.7 414.7,117.9 414.7,118.8 414.8,121.1 415.1,126.5 415.4,132 415.6,135.4 415.6,135.5 415.9,138.6 416.2,138.4 416.4,136 416.5,134.9 416.7,131.3 417,126.2 417.2,120.9 417.4,117.7 417.5,116.2 417.8,110.6 418,106.6 418.3,102.4 418.3,102 418.6,98.5 418.8,94.6 419.1,91.2 419.2,89.2 419.4,88.3 420.2,80 421.2,72 421.4,71.1 422.2,65.5 423.3,59.1 424.4,55 424.7,54.1 425.7,50.4 427,46.7 428,44.2 428.4,43.8 430,40.9 431.3,38.2 431.7,38.2 433.7,35.7 434.6,34.7 436,34.1 438,32.3 438.7,32 441.3,30.3 441.8,30.3 444.6,29.8 445.7,28.6 448,28.9 450.6,27.7 451.3,27.7 454.6,27.1 457,26.6 457.9,26.2 461.2,26.4 464.6,26 465.8,25.6 467.9,25.5 471.2,25.2 474.6,25.2 477.9,25.2 478.8,25.2 481.2,25.1 484.5,24.6 487.9,24.3 491.2,24.1 494.5,24.8" stroke="#d83c14"/>
<polyline points="295,25.4 298.3,24.4 301.6,24.6 305,25 308.3,25.1 311.6,25 314.9,25.3 318.3,25 321.6,24.7 324.9,24.5 328.2,24.7 331.6,24.6 333.3,25.3 334.9,25.9 338.2,24.6 341.6,25 344.9,25.1 348.2,24.7 351.5,25.5 354.6,25.6 354.9,25.5 358.2,25 361.5,25.3 364.8,26.2 367.6,25.5 368.1,25.9 371.5,26.1 374.8,26.8 376.4,26.2 378.1,26.8 381.4,27.1 382.8,28 384.8,28 387.7,28.9 388.1,29.1 391.4,30.5 391.6,30.5 394.7,32.3 394.8,32.1 397.4,33.8 398.1,34.1 399.7,36.2 401.4,38.1 401.6,38.3 403.4,41.2 404.7,43.2 405,43.7 406.4,46.9 407.7,50.5 408.1,51.4 408.9,54.6 410.1,59.5 411.2,65 411.4,66.6 412.2,71.9 413.2,79.2 414,87.5 414.1,88.2 414.3,90.6 414.6,94 414.7,95.3 414.8,97.3 415.1,100.8 415.1,100.4 415.4,104.1 415.6,108.7 415.9,113.3 416,114.7 416.2,117.6 416.4,122.4 416.7,125.8 416.9,128.6 417,128.9 417.2,131.3 417.5,131.1 417.8,129.3 417.8,129.2 418,125.4 418.3,122.6 418.6,117.9 418.7,114.9 418.8,113.6 419.1,108.6 419.4,104.8 419.6,100.7 419.6,100.4 419.9,97.1 420.2,93.7 420.4,90.6 420.6,88.7 420.7,87.4 421.4,81.1 421.5,79.5 422.5,71.8 423.6,65 424.6,59.7 424.7,59.5 425.8,55.2 427,50 428,48 428.3,46.3 429.7,43.3 431.3,40.3 431.3,40.5 433.1,37.9 434.6,36 435.1,35.5 437.3,33.4 438,32.7 440,32.1 441.3,30.9 443.2,29.7 444.6,29.2 447,29 448,28.4 451.3,27.6 451.9,27.4 454.6,27.6 457.9,26.2 458.3,26.9 461.2,25.4 464.6,25.5 467.1,25.5 467.9,25.2 471.2,25.1 474.6,25.1 477.9,24.7 480.1,24.5 481.2,24.8 484.5,24.2 487.9,23.9 491.2,23.8 494.5,23.7" stroke="#f0b040"/>
<polyline points="295,25.3 298.3,25.2 301.6,24.9 303.3,24.8 305,25.4 308.3,25.8 311.6,24.8 314.9,25.1 318.3,24.9 321.6,25.2 324.9,25.4 328.2,25.7 331.6,25.8 334.9,25.1 338.2,25.3 341.6,25.5 344.9,25.9 345.3,25.8 348.2,25.8 351.5,25.8 354.9,26.5 358.2,25.7 361.5,25.4 364.8,26.1 366.6,26 368.1,25.9 371.5,26.4 374.8,26.1 378.1,26.7 379.6,26.6 381.4,26.6 384.8,26.9 388.1,27.2 388.4,27.5 391.4,27.4 394.8,28.5 394.8,28 398.1,29.1 399.7,29.7 401.4,29.9 403.5,31 404.7,31.4 406.7,32.3 408.1,32.8 409.4,33.8 411.4,35.6 411.6,36.1 413.6,38.7 414.7,39.9 415.4,40.9 416.9,43.7 418,46.2 418.4,47.1 419.7,50.4 420.9,55.1 421.4,56.4 422.1,59.1 423.1,65.1 424.2,71.4 424.7,74.8 425.2,78.7 426,86.2 426.1,87 426.3,89 426.5,91.7 426.8,95.1 427.1,98 427.1,98 427.3,101.6 427.6,104.6 427.9,108.5 428,109.8 428,110.5 428.1,112 428.4,115.4 428.7,118.1 428.9,120.3 428.9,120.1 429.2,120.8 429.5,121.8 429.7,119.6 429.8,119.8 430,117.7 430.3,115.4 430.5,111.3 430.7,110 430.8,108.4 431.1,104.4 431.3,101.8 431.6,98.7 431.6,97.9 431.9,95.1 432.1,92.1 432.4,89.2 432.5,87.7 432.7,85.8 433.5,78.1 434.5,71.5 434.6,70.1 435.5,64.9 436.6,59 437.7,54.9 438,53.3 439,50.5 440.3,47 441.3,44.4 441.7,43.7 443.3,40 444.6,38.6 445,38.2 447,35.7 448,34.4 449.3,34 451.3,32.8 452,31.5 454.6,30.4 455.1,30.5 457.9,29.3 459,28.6 461.2,29.1 463.9,27.3 464.6,27.6 467.9,26.8 470.3,26.7 471.2,25.7 474.6,26.4 477.9,25.6 479.1,26.6 481.2,25.7 484.5,25.2 487.9,25.7 491.2,25.7 492.1,25.1 494.5,24.7" stroke="#90d870"/>
<polyline points="295,24.4 298.3,23.4 301.6,24.1 305,23.5 308.3,24 309.3,24 311.6,23.4 314.9,24.1 318.3,23.4 321.6,23.9 324.9,24 328.2,24 331.6,23.4 334.9,23.7 338.2,23.8 341.6,24.1 344.9,23.3 348.2,23.4 351.3,23.6 351.5,23.5 354.9,24.7 358.2,23.9 361.5,23.7 364.8,23.8 368.1,24.1 371.5,23.9 372.6,24.3 374.8,24.3 378.1,24.6 381.4,24.4 384.8,24.8 385.6,24.8 388.1,24.5 391.4,25.2 394.4,25.5 394.8,26 398.1,26.2 400.8,26.3 401.4,26.5 404.7,27.5 405.6,27.8 408.1,28.6 409.5,29 411.4,30.1 412.7,31.5 414.7,31.5 415.3,32.2 417.6,34.7 418,34.6 419.6,37.3 421.4,39.1 421.4,39.5 422.9,42.2 424.4,45.8 424.7,46.5 425.7,49.3 426.9,53.3 428,58.1 428,58.3 429.1,64.2 430.2,70.1 431.1,78.3 431.3,80 432,86.7 432.1,88.1 432.3,89.7 432.5,93.2 432.8,96.1 433,99.5 433.1,99.7 433.3,104.1 433.6,108 433.9,112.4 434,113.7 434.1,117.2 434.4,121.7 434.6,125 434.9,128.1 434.9,129.2 435.2,130.2 435.4,130.1 435.7,128.4 435.8,128.8 436,125.4 436.2,121.5 436.5,116.9 436.7,114.4 436.8,111.7 437,108 437.3,103.6 437.6,99.5 437.6,99.3 437.8,96 438,94.5 438.1,92.6 438.4,89.6 438.5,88.4 438.6,86.3 439.5,78.5 440.5,70.7 441.3,65.4 441.5,64.4 442.6,58.8 443.7,54.2 444.6,50.3 445,49.1 446.3,45.7 447.7,42.7 448,41.5 449.3,39.6 451,37.3 451.3,37.1 453,34.5 454.6,32.6 455.3,32.6 457.9,30.9 457.9,30.7 461.1,29.3 461.2,29.1 464.6,27.7 465,27.8 467.9,26.5 469.9,26.6 471.2,25.9 474.6,25.4 476.3,25.3 477.9,25.1 481.2,24.7 484.5,23.8 485.1,24.5 487.9,23.7 491.2,23.5 494.5,23.7" stroke="#e86e1a"/>
<polyline points="295,25.3 298.3,25.3 301.6,25.1 305,25.5 308.3,25.4 311.6,25 314.9,25.4 318,25.7 318.3,25.2 321.6,25.4 324.9,25.5 328.2,25.2 331.6,25.5 334.9,25.6 338.2,25.3 341.6,25.3 344.9,25.2 348.2,25.5 351.5,24.6 354.9,24.9 358.2,25 359.9,25 361.5,25.8 364.8,24.8 368.1,25.4 371.5,24.9 374.8,25.5 378.1,24.9 381.2,25.4 381.4,25.3 384.8,24.8 388.1,25.1 391.4,26 394.2,25.9 394.8,25.7 398.1,26.1 401.4,26.1 403,26.7 404.7,27.3 408.1,27.5 409.4,27.6 411.4,27.8 414.3,28.5 414.7,28.5 418,30 418.2,30.2 421.3,31.5 421.4,31.8 424,33.7 424.7,34.2 426.3,35.3 428,37.1 428.2,37.5 430,41 431.3,42.6 431.6,43.7 433,46.8 434.3,50.2 434.6,51.8 435.5,54.9 436.7,59.5 437.8,64.3 438,65.6 438.8,71.4 439.8,78.6 440.6,86.5 440.7,87.6 440.9,89.5 441.2,91.8 441.3,93.9 441.4,95.2 441.7,99 441.7,98.6 442,102.2 442.2,105.5 442.5,110.4 442.6,110.9 442.8,113.1 443,117 443.3,119.7 443.5,121.4 443.6,122.2 443.8,123.5 444.1,123.3 444.4,122.3 444.4,121.7 444.6,119.9 444.9,117.1 445.2,113.7 445.3,110.7 445.4,109.5 445.7,106.1 446,102.3 446.2,98.3 446.2,99 446.5,95.7 446.8,92.1 447,89.1 447.2,88 447.3,86.9 448,80.2 448.1,78.3 449.1,71.2 450.2,65.5 451.2,59.1 451.3,59.2 452.4,54.8 453.6,50.8 454.6,47.3 454.9,46.7 456.3,43.4 457.9,40.6 457.9,40.5 459.7,37.9 461.2,35.7 461.7,36.1 463.9,33.8 464.6,33.4 466.6,31.5 467.9,31.4 469.8,30.9 471.2,29.8 473.6,29.2 474.6,29 477.9,28.1 478.5,28.2 481.2,27.9 484.5,26.2 484.9,26.8 487.9,26.6 491.2,25.8 493.7,25.4 494.5,26.2" stroke="#98d858"/>
<polyline points="295,24.8 298.3,25.2 301.6,24.8 305,25.3 308.3,25.1 311.6,24.9 314.9,24.8 318.3,24.9 321.6,25.1 324.7,25.1 324.9,25.6 328.2,24.4 331.6,25.2 334.9,25.3 338.2,25.2 341.6,25.2 344.9,25.4 346,25.7 348.2,26.1 351.5,25.8 354.9,26.2 358.2,26.4 359,26.3 361.5,26.4 364.8,26.4 367.8,27.2 368.1,27.7 371.5,27.5 374.2,27.9 374.8,28.8 378.1,29 379,29.4 381.4,30.4 382.9,30.8 384.8,31.6 386.1,32.2 388.1,33.4 388.7,34.2 391,36.3 391.4,36 393,38.9 394.8,41.3 394.8,41.3 396.3,43.9 397.8,47.1 398.1,48.6 399.1,50.8 400.3,55.7 401.4,59.3 401.4,60.4 402.5,65.5 403.6,72.6 404.5,80.2 404.7,82.4 405.4,89 405.5,90.2 405.7,92.1 405.9,95.2 406.2,99.2 406.4,102.8 406.5,103.4 406.7,107.4 407,112.1 407.3,116.8 407.4,118.8 407.5,122.6 407.8,127.9 408.1,133.1 408.3,137.4 408.3,138.5 408.6,140.1 408.8,140.7 409.1,137.9 409.2,136.5 409.4,133.7 409.6,127.9 409.9,123 410.1,118.9 410.2,116.9 410.4,112.2 410.7,107.5 411,103 411,102.8 411.2,98.6 411.4,97.3 411.5,95.4 411.8,92.1 411.9,90.7 412,89.1 412.9,80.8 413.9,72.4 414.7,67.6 414.9,66.1 416,60 417.1,55.8 418,52.5 418.4,50.6 419.7,47.6 421.1,43.9 421.4,43.3 422.7,41.2 424.4,38.8 424.7,37.5 426.4,36.1 428,34.3 428.7,34.1 431.3,31.9 431.3,32.4 434.5,30.7 434.6,30.6 438,29.2 438.4,29 441.3,28.1 443.3,27.4 444.6,27.4 448,26.4 449.7,26.6 451.3,26 454.6,25.4 457.9,24.9 458.5,26 461.2,24.7 464.6,25.5 467.9,24.3 471.2,24.6 471.4,24.4 474.6,24.7 477.9,24 481.2,23.9 484.5,24.2 487.9,24.1 491.2,23.6 492.8,23.6 494.5,23.6" stroke="#e04a14"/>
<polyline points="295,26.3 298.3,26.2 301.6,26.5 305,26.8 308.3,26.5 311.6,26.5 314.9,26.8 318.3,26.5 321.6,26.9 323.3,26.6 324.9,26.9 328.2,26.1 331.6,26.4 334.9,26.6 338.2,27.1 341.6,27.1 344.9,26.5 348.2,26.8 351.5,26.6 354.9,27.2 358.2,27.1 361.5,26.7 364.8,26.7 365.2,27.1 368.1,26.9 371.5,26.5 374.8,26.8 378.1,26.6 381.4,26.3 384.8,26.7 386.6,26.8 388.1,27.1 391.4,26.6 394.8,27.5 398.1,27.6 399.5,27.4 401.4,27.9 404.7,27.4 408.1,28.3 408.3,27.9 411.4,28.6 414.7,29.1 414.7,29.1 418,30.4 419.6,30.5 421.4,30.9 423.5,30.9 424.7,31.9 426.6,33 428,34.3 429.3,34.7 431.3,36.4 431.6,36.8 433.6,38.5 434.6,41.2 435.3,42.2 436.9,44.9 438,47.5 438.3,48 439.6,51.6 440.9,55.9 441.3,57.6 442,60.5 443.1,65.9 444.1,72.7 444.6,76.4 445.1,79.7 446,88.1 446.1,89.4 446.2,90.7 446.5,93.9 446.8,97 447,100.2 447,100.2 447.3,103.7 447.6,107.9 447.8,111.9 447.9,112.5 448,113.7 448.1,115.8 448.3,119.6 448.6,122.3 448.8,124.6 448.9,125.4 449.1,126.5 449.4,126.5 449.7,124.5 449.7,124.3 449.9,122.3 450.2,119.4 450.5,115.4 450.6,112.8 450.7,111.5 451,107.4 451.3,103.9 451.5,100.2 451.6,100 451.8,97.2 452.1,93.4 452.3,90.7 452.5,88.9 452.6,88.3 453.5,80.4 454.4,72.6 454.6,71.7 455.5,66 456.6,60.6 457.7,55.6 457.9,54.9 458.9,52.1 460.2,47.8 461.2,45.9 461.7,45.1 463.2,41.9 464.6,39.9 465,39.1 467,36.2 467.9,36.1 469.3,34.6 471.2,33.7 471.9,33.1 474.6,32 475.1,31.8 477.9,30.2 479,30.1 481.2,29.5 483.8,29.3 484.5,28.4 487.9,28.4 490.2,28.2 491.2,27.9 494.5,27.4" stroke="#c4e050"/>
<polyline points="295,26.4 298.3,25.8 301.6,25.5 305,26.4 308.3,26.2 311.4,26.7 311.6,26.4 314.9,26.5 318.3,26.2 321.6,26.6 324.9,26 328.2,26.3 331.6,26.4 332.7,26.1 334.9,26.5 338.2,26.9 341.6,26.6 344.9,26.2 345.7,26.8 348.2,26.9 351.5,27.4 354.5,27.7 354.9,27.5 358.2,28.9 360.9,28.9 361.5,28.9 364.8,29.6 365.7,29.3 368.1,29.8 369.6,30.9 371.5,31.9 372.8,32.5 374.8,33.6 375.4,34.8 377.7,36.7 378.1,37 379.7,38.8 381.4,42 381.5,41.4 383,44.9 384.5,47.5 384.8,48.3 385.8,52.1 387,55.5 388.1,60.2 388.1,60.6 389.2,65.8 390.3,72 391.2,80.2 391.4,82.3 392.1,89.1 392.2,90.2 392.4,91.9 392.6,94.5 392.9,98.2 393.1,101.7 393.2,101.7 393.4,105.9 393.7,110.1 394,114.9 394.1,116.6 394.2,119.2 394.5,124.2 394.8,127.7 395,131 395,131.8 395.3,133.3 395.5,133.9 395.8,131.3 395.9,131 396.1,127.6 396.3,124.1 396.6,119.4 396.8,116.6 396.9,115 397.1,110.1 397.4,106.2 397.7,101.9 397.7,101.9 397.9,98 398.1,97.3 398.2,94.7 398.5,91.6 398.6,89.9 398.7,88.9 399.6,79.9 400.6,72.7 401.4,67.2 401.6,66.2 402.7,60.6 403.8,55.7 404.7,52.3 405.1,51.8 406.4,47.9 407.8,44.9 408.1,43.9 409.4,41.8 411.1,39.2 411.4,38.5 413.1,36.7 414.7,35.1 415.4,34.7 418,32.7 418,32.8 421.2,31.6 421.4,31.1 424.7,30.1 425.1,29.9 428,29 430,28.8 431.3,28.7 434.6,27.5 436.4,27.1 438,27.5 441.3,26.7 444.6,26.7 445.2,26.9 448,26.8 451.3,26.4 454.6,26.2 457.9,26 458.1,26 461.2,26.1 464.6,25.4 467.9,25.8 471.2,25.7 474.6,25 477.9,24.9 479.5,24.6 481.2,25 484.5,25.1 487.9,24.5 491.2,24.7 494.5,24.6" stroke="#7c80c8"/>
<polyline points="295,26.7 298.1,27.5 298.3,26.6 301.6,27.3 305,26.7 308.3,26.1 311.6,27 314.9,27.2 318.3,26.3 321.6,27.1 324.9,27.3 328.2,26.6 331.6,27.9 334.9,27.5 338.2,27.5 340,27.3 341.6,27.7 344.9,26.9 348.2,26.9 351.5,27.3 354.9,27.5 358.2,27.9 361.4,27.4 361.5,27.8 364.8,27.5 368.1,27.5 371.5,28 374.4,28.8 374.8,28.5 378.1,28.1 381.4,28.7 383.2,28.6 384.8,29.9 388.1,29.7 389.6,30 391.4,30.8 394.4,31.3 394.8,30.9 398.1,32.2 398.3,32.6 401.4,33.9 401.5,33.7 404.1,36.1 404.7,36.2 406.4,37.5 408.1,39.8 408.4,39.7 410.1,42.6 411.4,44.4 411.7,45.2 413.2,48.6 414.5,52.4 414.7,53.2 415.7,56.4 416.8,61.1 417.9,66.1 418,67.1 418.9,72.7 419.9,79.6 420.8,87.6 420.9,88.7 421.1,89.9 421.3,93.2 421.4,93.5 421.6,96 421.8,99.1 421.8,99.6 422.1,103 422.4,106 422.6,109 422.7,110.3 422.9,112.1 423.2,115.5 423.4,118.6 423.7,120.5 423.7,120.5 424,121.5 424.2,121.7 424.5,120.1 424.6,120.3 424.7,119 424.8,118.1 425,116.2 425.3,112.7 425.5,110.2 425.6,109 425.8,105.8 426.1,102.8 426.4,99.5 426.4,99 426.6,95.7 426.9,93 427.2,90.3 427.3,88.7 427.4,87.4 428,82.9 428.3,80.3 429.3,72.6 430.3,66 431.3,60.9 431.4,61.2 432.5,56.2 433.7,52.3 434.6,49.6 435.1,48.4 436.5,45.3 438,42.6 438.1,42.6 439.8,40.2 441.3,38 441.8,37.3 444.1,35.2 444.6,35.2 446.7,33.7 448,32.5 449.9,31.8 451.3,31.1 453.8,30.7 454.6,30.5 457.9,29.8 458.7,29 461.2,29.1 464.6,28.8 465,28.4 467.9,27.5 471.2,27.5 473.8,27.2 474.6,27.2 477.9,27 481.2,26.9 484.5,27.1 486.8,26.1 487.9,26.6 491.2,26.1 494.5,26.8" stroke="#60c0a8"/>
<polyline points="295,24 298.3,23.8 301.3,23.7 301.6,23.7 305,24.2 308.3,23.9 311.6,24.3 314.9,24.4 318.3,24.2 321.6,24.3 324.9,24.1 328.2,24.9 331.6,24.1 334.9,24.6 338.2,24.1 341.6,24.2 343.3,24.9 344.9,24.6 348.2,24.5 351.5,25 354.9,25 358.2,25 361.5,24.8 364.6,24.8 364.8,25.2 368.1,25 371.5,24.9 374.8,25.2 377.6,25.9 378.1,25.9 381.4,25.8 384.8,26 386.4,26.3 388.1,26.7 391.4,27.4 392.8,27 394.8,27.8 397.7,27.9 398.1,28.9 401.4,29.8 401.5,30 404.7,30.8 404.7,31 407.4,33.3 408.1,34.2 409.6,34.8 411.4,37 411.6,37.7 413.4,40.4 414.7,42.2 415,42.9 416.4,46.1 417.7,49.7 418,51 418.9,54.1 420.1,58.6 421.1,64.4 421.4,65.7 422.2,70.7 423.2,79.3 424,86.6 424.1,88.1 424.3,90.2 424.5,93.3 424.7,94.6 424.8,96.5 425.1,100.6 425.1,100.7 425.3,104.3 425.6,108.1 425.9,113 426,115 426.1,117.7 426.4,122.6 426.7,127.1 426.9,129.8 426.9,131.2 427.2,132.2 427.5,132.4 427.7,130.7 427.8,130.2 428,127.3 428.3,122.5 428.5,117.8 428.7,114.9 428.8,112.6 429.1,109.3 429.3,104.5 429.6,100.6 429.6,99.8 429.9,96.7 430.1,93.4 430.4,89.9 430.5,88 430.7,86.4 431.3,80.2 431.5,78.7 432.5,70.9 433.5,64.5 434.6,58.5 434.6,58.2 435.8,53.8 437,49.6 438,46.2 438.3,45.8 439.7,42.4 441.3,39.9 441.3,39.7 443.1,37.6 444.6,35.5 445,34.5 447.3,32.2 448,32.1 450,31.1 451.3,30 453.1,28.8 454.6,28.6 457,27.4 457.9,27.4 461.2,27 461.9,26.7 464.6,26.1 467.9,24.8 468.3,25.3 471.2,25.2 474.6,24.7 477.1,24.5 477.9,24.7 481.2,24.4 484.5,24.2 487.9,23.8 490.1,23.5 491.2,23.5 494.5,23.9" stroke="#d04a18"/>
<polyline points="295,25.9 298.3,25.8 301.6,26 305,25.7 308.3,25.7 311.6,25.8 314.9,26 318.3,26.4 319.6,25.5 321.6,26.1 324.9,25.8 328.2,25.9 331.6,26.1 334.9,25.4 338.2,25.8 341.6,26 344.9,26.1 348.2,26.2 351.5,26.3 354.9,25.8 358.2,26.1 361.5,26.1 361.6,25.8 364.8,26 368.1,25.8 371.5,26.2 374.8,26.2 378.1,25.8 381.4,26.3 382.9,26 384.8,26 388.1,26.3 391.4,26.9 394.8,27 395.9,27 398.1,27.2 401.4,26.8 404.7,27.7 404.7,27.8 408.1,28 411.1,28.4 411.4,29 414.7,29.1 416,29.4 418,30.4 419.8,30.7 421.4,32.1 423,32.7 424.7,33.7 425.7,34.3 427.9,36.1 428,36.5 429.9,39 431.3,40.6 431.7,41.2 433.3,44 434.6,47.4 434.7,47.4 436,51.2 437.2,55.1 438,58.4 438.4,60.2 439.4,65.1 440.5,72 441.3,77.9 441.5,79.2 442.3,87.2 442.4,88 442.6,90.1 442.8,92.6 443.1,96.5 443.4,99.5 443.4,99.3 443.6,102.4 443.9,105.9 444.2,110.4 444.3,111.5 444.4,113.9 444.6,116.8 444.7,117.1 445,120.5 445.2,121.9 445.2,122.6 445.5,124.2 445.8,124.2 446,122.8 446.1,122.2 446.3,120.5 446.6,116.5 446.8,113.7 447,111.9 447.1,110.1 447.4,106.1 447.6,102.7 447.9,99.4 447.9,99.3 448,98.9 448.2,96.4 448.4,93 448.7,89.9 448.9,88.5 449,86.7 449.8,79.2 450.8,72 451.3,68.8 451.8,65.1 452.9,60.5 454.1,55.2 454.6,52.5 455.3,50.8 456.6,47.7 457.9,44.4 458,44.3 459.6,40.5 461.2,39.1 461.4,38.8 463.3,36.5 464.6,35.7 465.6,35.4 467.9,32.9 468.3,32.4 471.2,31.2 471.4,30.9 474.6,29.6 475.3,29.4 477.9,29.4 480.2,28 481.2,28 484.5,27.4 486.6,27.4 487.9,27.2 491.2,27 494.5,26.4" stroke="#c4e050"/>
<polyline points="295,24.4 298.3,24 301.6,24.2 305,23.9 308.3,23.6 311.6,24 314.9,24.3 318.3,24.2 318.7,23.9 321.6,24.3 324.9,23.9 328.2,24.1 331.6,23.9 334.9,24.4 338.2,24.6 340,24.6 341.6,24.3 344.9,24.8 348.2,24.5 351.5,25.5 353,25.2 354.9,25.2 358.2,26 361.5,26 361.8,26.3 364.8,26.3 368.1,27 368.2,26.7 371.5,27.9 373.1,28.6 374.8,28.9 376.9,29.5 378.1,30.1 380.1,31.1 381.4,31.7 382.8,33.1 384.8,34.9 385,35.3 387,37.6 388.1,38.6 388.8,39.9 390.3,43.7 391.4,45 391.8,46.8 393.1,50.1 394.3,54 394.8,56 395.5,59 396.5,64.5 397.6,71.4 398.1,75.7 398.6,79.4 399.4,88.3 399.5,90.1 399.7,91.3 399.9,94.5 400.2,98.3 400.5,102 400.5,101.8 400.7,106.6 401,111.2 401.3,116.6 401.4,118.3 401.4,119.6 401.5,122 401.8,127.8 402.1,134.3 402.3,138 402.3,139.6 402.6,142.2 402.9,142.1 403.1,139.5 403.2,138.8 403.4,134.1 403.7,128.4 403.9,122.3 404.1,118.7 404.2,116.5 404.5,111.1 404.7,106.6 405,102.8 405,101.9 405.3,98.2 405.5,94.6 405.8,90.8 405.9,89.3 406.1,88.2 406.9,79.3 407.9,71.9 408.1,70.1 408.9,64.8 410,58.7 411.1,54.1 411.4,53.3 412.4,50 413.7,46.6 414.7,43.9 415.1,42.9 416.7,39.7 418,37.8 418.4,37.2 420.4,34.9 421.4,34.3 422.7,32.9 424.7,31.7 425.4,31.5 428,30.2 428.5,29.3 431.3,28 432.4,27.7 434.6,27.7 437.3,26.4 438,26.2 441.3,26.3 443.7,25.6 444.6,25.1 448,25.2 451.3,24.5 452.5,24.9 454.6,24.7 457.9,24.1 461.2,24.1 464.6,23.9 465.5,23.8 467.9,24 471.2,23.1 474.6,23.4 477.9,23.4 481.2,23.3 484.5,23 486.8,23.2 487.9,22.7 491.2,22.9 494.5,22.5" stroke="#9a1c14"/>
<polyline points="295,25.2 298.3,25.7 301.6,25.1 305,25.4 308.3,25.1 311.6,25.5 314.9,25.1 318.3,25.7 321.3,25.8 321.6,25.3 324.9,25.7 328.2,25.2 331.6,25.8 334.9,25.5 338.2,26 341.6,26.4 342.7,25.5 344.9,26.1 348.2,25.9 351.5,26.3 354.9,27 355.7,26.5 358.2,26.5 361.5,26.7 364.4,26.9 364.8,27.4 368.1,28 370.8,28.4 371.5,28.9 374.8,29.1 375.7,29.4 378.1,30.3 379.6,31.2 381.4,31.7 382.8,32.8 384.8,33.6 385.4,34.6 387.7,36.6 388.1,37 389.7,39.1 391.4,41.6 391.4,41.4 393,45 394.4,47 394.8,48.3 395.8,51.3 397,55.9 398.1,60.3 398.1,60.5 399.2,66.2 400.2,73.4 401.2,81.1 401.4,83.4 402.1,89.9 402.2,91.4 402.3,93.3 402.6,96.7 402.9,100.2 403.1,104 403.1,104.7 403.4,109.7 403.7,114.1 403.9,120.7 404,122.8 404.2,126.7 404.5,133.9 404.7,140.7 404.9,146.6 405,147.6 405.3,152.6 405.5,152.2 405.8,148 405.8,146.7 406.1,141 406.3,133.5 406.6,126.5 406.8,122.7 406.9,120.7 407.1,114.6 407.4,110.1 407.7,104.7 407.7,104.6 407.9,100.2 408.1,99.3 408.2,96 408.4,93.2 408.6,91.6 408.7,89.7 409.6,80.9 410.6,72.7 411.4,66.7 411.6,66.3 412.7,60.3 413.8,55.4 414.7,52.4 415,51.1 416.3,47 417.8,44.3 418,43.4 419.3,40.8 421.1,38.3 421.4,38.6 423.1,36 424.7,34.7 425.4,33.7 428,32.2 428,31.6 431.2,30.9 431.3,30.3 434.6,29.5 435.1,28.6 438,27.8 439.9,28.1 441.3,27.3 444.6,27 446.3,27.2 448,26.8 451.3,26.1 454.6,25.7 455.1,25.9 457.9,25.5 461.2,25.3 464.6,25.1 467.9,25.3 468.1,24.9 471.2,24.7 474.6,25.2 477.9,24.2 481.2,24.1 484.5,24.4 487.9,23.8 489.5,24.6 491.2,24.6 494.5,24.4" stroke="#8c1010"/>
</g>
<text x="292.5" y="19" font-size="9.6" text-anchor="end" fill="#444444" font-family="'Liberation Sans', Arial, sans-serif" font-weight="normal" >0</text>
<text x="292.5" y="43.8" font-size="9.6" text-anchor="end" fill="#444444" font-family="'Liberation Sans', Arial, sans-serif" font-weight="normal" >-5</text>
<text x="292.5" y="68.5" font-size="9.6" text-anchor="end" fill="#444444" font-family="'Liberation Sans', Arial, sans-serif" font-weight="normal" >-10</text>
<text x="292.5" y="93.2" font-size="9.6" text-anchor="end" fill="#444444" font-family="'Liberation Sans', Arial, sans-serif" font-weight="normal" >-15</text>
<text x="292.5" y="118" font-size="9.6" text-anchor="end" fill="#444444" font-family="'Liberation Sans', Arial, sans-serif" font-weight="normal" >-20</text>
<text x="292.5" y="142.8" font-size="9.6" text-anchor="end" fill="#444444" font-family="'Liberation Sans', Arial, sans-serif" font-weight="normal" >-25</text>
<text x="292.5" y="167.5" font-size="9.6" text-anchor="end" fill="#444444" font-family="'Liberation Sans', Arial, sans-serif" font-weight="normal" >-30</text>
<text x="295" y="176.2" font-size="9.6" text-anchor="middle" fill="#444444" font-family="'Liberation Sans', Arial, sans-serif" font-weight="normal" >1580</text>
<text x="361.5" y="176.2" font-size="9.6" text-anchor="middle" fill="#444444" font-family="'Liberation Sans', Arial, sans-serif" font-weight="normal" >1585</text>
<text x="428" y="176.2" font-size="9.6" text-anchor="middle" fill="#444444" font-family="'Liberation Sans', Arial, sans-serif" font-weight="normal" >1590</text>
<text x="494.5" y="176.2" font-size="9.6" text-anchor="middle" fill="#444444" font-family="'Liberation Sans', Arial, sans-serif" font-weight="normal" >1595</text>
<text x="394.7" y="189.3" font-size="11" text-anchor="middle" fill="#444444" font-family="'Liberation Sans', Arial, sans-serif" font-weight="normal" >Wavelength [nm]</text>
<text x="273.5" y="88" font-size="11" text-anchor="middle" fill="#444444" font-family="'Liberation Sans', Arial, sans-serif" font-weight="normal" transform="rotate(-90 273.5 88)">Transmission [dB]</text>
<line x1="295.0" y1="15.0" x2="494.5" y2="15.0" stroke="#1a6fb8" stroke-width="3" stroke-dasharray="24.6 1.2 1.2 1.2" stroke-dashoffset="0" stroke-linecap="butt"/>
<line x1="295.0" y1="15.0" x2="295.0" y2="163.5" stroke="#1a6fb8" stroke-width="3" stroke-dasharray="24.6 1.2 1.2 1.2" stroke-dashoffset="0" stroke-linecap="butt"/>
<line x1="494.5" y1="15.0" x2="494.5" y2="163.5" stroke="#1a6fb8" stroke-width="3" stroke-dasharray="24.6 1.2 1.2 1.2" stroke-dashoffset="0" stroke-linecap="butt"/>
<line x1="295.0" y1="163.5" x2="494.5" y2="163.5" stroke="#1a6fb8" stroke-width="3" stroke-dasharray="24.6 1.2 1.2 1.2" stroke-dashoffset="0" stroke-linecap="butt"/>
<rect x="300" y="145" width="92" height="17" fill="#fff"/>
<text x="303" y="158.8" font-size="12.5" text-anchor="start" fill="#111" font-family="'DejaVu Sans', Verdana, sans-serif" font-weight="normal" >1σ = 1.29 nm</text>
<line x1="403.1" y1="155.4" x2="432.1" y2="155.4" stroke="#000" stroke-width="1.8"/><polygon points="398.2,155.4 405.2,151.8 403.4,155.4 405.2,159" fill="#000"/><polygon points="437,155.4 430,151.8 431.8,155.4 430,159" fill="#000"/>
<text x="264" y="11.6" font-size="14" text-anchor="start" fill="#000" font-family="'DejaVu Sans', Verdana, sans-serif" font-weight="bold" letter-spacing="-0.8">b)</text>
<line x1="102.8" y1="201.0" x2="102.8" y2="372.5" stroke="#dedede" stroke-width="0.9"/>
<line x1="168.1" y1="201.0" x2="168.1" y2="372.5" stroke="#dedede" stroke-width="0.9"/>
<line x1="233.4" y1="201.0" x2="233.4" y2="372.5" stroke="#dedede" stroke-width="0.9"/>
<line x1="298.6" y1="201.0" x2="298.6" y2="372.5" stroke="#dedede" stroke-width="0.9"/>
<line x1="363.9" y1="201.0" x2="363.9" y2="372.5" stroke="#dedede" stroke-width="0.9"/>
<line x1="429.2" y1="201.0" x2="429.2" y2="372.5" stroke="#dedede" stroke-width="0.9"/>
<line x1="37.5" y1="343.9" x2="494.5" y2="343.9" stroke="#dedede" stroke-width="0.9"/>
<line x1="37.5" y1="315.3" x2="494.5" y2="315.3" stroke="#dedede" stroke-width="0.9"/>
<line x1="37.5" y1="286.8" x2="494.5" y2="286.8" stroke="#dedede" stroke-width="0.9"/>
<line x1="37.5" y1="258.2" x2="494.5" y2="258.2" stroke="#dedede" stroke-width="0.9"/>
<line x1="37.5" y1="229.6" x2="494.5" y2="229.6" stroke="#dedede" stroke-width="0.9"/>
<polyline points="50.6,218.9 54.3,222.8 58,226.5 61.7,230.2 65.5,233.7 69.2,237.1 72.9,240.4 76.7,243.5 80.4,246.6 84.1,249.6 87.9,252.5 91.6,255.3 95.3,258 99.1,260.6 102.8,263.2 106.5,265.7 110.2,268.1 114,270.4 117.7,272.7 121.4,274.9 125.2,277.1 128.9,279.2 132.6,281.2 136.4,283.2 140.1,285.1 143.8,287 147.6,288.9 151.3,290.7 155,292.4 158.7,294.1 162.5,295.8 166.2,297.4 169.9,299 173.7,300.6 177.4,302.1 181.1,303.6 184.9,305 188.6,306.5 192.3,307.9 196.1,309.2 199.8,310.5 203.5,311.8 207.2,313.1 211,314.4 214.7,315.6 218.4,316.8 222.2,318 225.9,319.1 229.6,320.2 233.4,321.4 237.1,322.4 240.8,323.5 244.5,324.5 248.3,325.6 252,326.6 255.7,327.6 259.5,328.5 263.2,329.5 266.9,330.4 270.7,331.3 274.4,332.2 278.1,333.1 281.9,334 285.6,334.8 289.3,335.7 293,336.5 296.8,337.3 300.5,338.1 304.2,338.9 308,339.7 311.7,340.4 315.4,341.2 319.2,341.9 322.9,342.6 326.6,343.3 330.4,344 334.1,344.7 337.8,345.4 341.5,346.1 345.3,346.7 349,347.4 352.7,348 356.5,348.7 360.2,349.3 363.9,349.9 367.7,350.5 371.4,351.1 375.1,351.7 378.9,352.3 382.6,352.8 386.3,353.4 390,353.9 393.8,354.5 397.5,355 401.2,355.5 405,356.1 408.7,356.6 412.4,357.1 416.2,357.6 419.9,358.1 423.6,358.6 427.3,359.1 431.1,359.5 434.8,360 438.5,360.5 442.3,360.9 446,361.4 449.7,361.8 453.5,362.3 457.2,362.7 460.9,363.1 464.7,363.6 468.4,364 472.1,364.4 475.8,364.8 479.6,365.2 483.3,365.6 487,366 490.8,366.4 494.5,366.8" fill="none" stroke="#e8c020" stroke-width="1.3" stroke-dasharray="5 3"/>
<polyline points="50.6,218 54.3,221.9 58,225.6 61.7,229.3 65.5,232.8 69.2,236.2 72.9,239.5 76.7,242.6 80.4,245.7 84.1,248.7 87.9,251.6 91.6,254.4 95.3,257.1 99.1,259.7 102.8,262.3 106.5,264.8 110.2,267.2 114,269.5 117.7,271.8 121.4,274 125.2,276.2 128.9,278.3 132.6,280.3 136.4,282.3 140.1,284.2 143.8,286.1 147.6,288 151.3,289.8 155,291.5 158.7,293.2 162.5,294.9 166.2,296.5 169.9,298.1 173.7,299.7 177.4,301.2 181.1,302.7 184.9,304.1 188.6,305.6 192.3,307 196.1,308.3 199.8,309.6 203.5,310.9 207.2,312.2 211,313.5 214.7,314.7 218.4,315.9 222.2,317.1 225.9,318.2 229.6,319.3 233.4,320.5 237.1,321.5 240.8,322.6 244.5,323.6 248.3,324.7 252,325.7 255.7,326.7 259.5,327.6 263.2,328.6 266.9,329.5 270.7,330.4 274.4,331.3 278.1,332.2 281.9,333.1 285.6,333.9 289.3,334.8 293,335.6 296.8,336.4 300.5,337.2 304.2,338 308,338.8 311.7,339.5 315.4,340.3 319.2,341 322.9,341.7 326.6,342.4 330.4,343.1 334.1,343.8 337.8,344.5 341.5,345.2 345.3,345.8 349,346.5 352.7,347.1 356.5,347.8 360.2,348.4 363.9,349 367.7,349.6 371.4,350.2 375.1,350.8 378.9,351.4 382.6,351.9 386.3,352.5 390,353 393.8,353.6 397.5,354.1 401.2,354.6 405,355.2 408.7,355.7 412.4,356.2 416.2,356.7 419.9,357.2 423.6,357.7 427.3,358.2 431.1,358.6 434.8,359.1 438.5,359.6 442.3,360 446,360.5 449.7,360.9 453.5,361.4 457.2,361.8 460.9,362.2 464.7,362.7 468.4,363.1 472.1,363.5 475.8,363.9 479.6,364.3 483.3,364.7 487,365.1 490.8,365.5 494.5,365.9" fill="none" stroke="#111" stroke-width="1.4"/>
<rect x="48.7" y="219.1" width="3.8" height="3.8" fill="#ff7070" stroke="#f00000" stroke-width="1.5"/>
<rect x="100.9" y="262" width="3.8" height="3.8" fill="#ff7070" stroke="#f00000" stroke-width="1.5"/>
<rect x="127" y="276.8" width="3.8" height="3.8" fill="#ff7070" stroke="#f00000" stroke-width="1.5"/>
<rect x="166.2" y="293.4" width="3.8" height="3.8" fill="#ff7070" stroke="#f00000" stroke-width="1.5"/>
<rect x="231.5" y="322.6" width="3.8" height="3.8" fill="#ff7070" stroke="#f00000" stroke-width="1.5"/>
<rect x="296.7" y="336" width="3.8" height="3.8" fill="#ff7070" stroke="#f00000" stroke-width="1.5"/>
<rect x="362" y="349.2" width="3.8" height="3.8" fill="#ff7070" stroke="#f00000" stroke-width="1.5"/>
<rect x="427.3" y="357.7" width="3.8" height="3.8" fill="#ff7070" stroke="#f00000" stroke-width="1.5"/>
<rect x="37.5" y="201.0" width="457" height="171.5" fill="none" stroke="#262626" stroke-width="1.2"/>
<line x1="102.8" y1="372.5" x2="102.8" y2="368.5" stroke="#262626" stroke-width="1"/>
<line x1="102.8" y1="201.0" x2="102.8" y2="205.0" stroke="#262626" stroke-width="1"/>
<line x1="168.1" y1="372.5" x2="168.1" y2="368.5" stroke="#262626" stroke-width="1"/>
<line x1="168.1" y1="201.0" x2="168.1" y2="205.0" stroke="#262626" stroke-width="1"/>
<line x1="233.4" y1="372.5" x2="233.4" y2="368.5" stroke="#262626" stroke-width="1"/>
<line x1="233.4" y1="201.0" x2="233.4" y2="205.0" stroke="#262626" stroke-width="1"/>
<line x1="298.6" y1="372.5" x2="298.6" y2="368.5" stroke="#262626" stroke-width="1"/>
<line x1="298.6" y1="201.0" x2="298.6" y2="205.0" stroke="#262626" stroke-width="1"/>
<line x1="363.9" y1="372.5" x2="363.9" y2="368.5" stroke="#262626" stroke-width="1"/>
<line x1="363.9" y1="201.0" x2="363.9" y2="205.0" stroke="#262626" stroke-width="1"/>
<line x1="429.2" y1="372.5" x2="429.2" y2="368.5" stroke="#262626" stroke-width="1"/>
<line x1="429.2" y1="201.0" x2="429.2" y2="205.0" stroke="#262626" stroke-width="1"/>
<line x1="37.5" y1="343.9" x2="41.5" y2="343.9" stroke="#262626" stroke-width="1"/>
<line x1="494.5" y1="343.9" x2="490.5" y2="343.9" stroke="#262626" stroke-width="1"/>
<line x1="37.5" y1="315.3" x2="41.5" y2="315.3" stroke="#262626" stroke-width="1"/>
<line x1="494.5" y1="315.3" x2="490.5" y2="315.3" stroke="#262626" stroke-width="1"/>
<line x1="37.5" y1="286.8" x2="41.5" y2="286.8" stroke="#262626" stroke-width="1"/>
<line x1="494.5" y1="286.8" x2="490.5" y2="286.8" stroke="#262626" stroke-width="1"/>
<line x1="37.5" y1="258.2" x2="41.5" y2="258.2" stroke="#262626" stroke-width="1"/>
<line x1="494.5" y1="258.2" x2="490.5" y2="258.2" stroke="#262626" stroke-width="1"/>
<line x1="37.5" y1="229.6" x2="41.5" y2="229.6" stroke="#262626" stroke-width="1"/>
<line x1="494.5" y1="229.6" x2="490.5" y2="229.6" stroke="#262626" stroke-width="1"/>
<text x="32.6" y="377.5" font-size="10.5" text-anchor="end" fill="#444444" font-family="'Liberation Sans', Arial, sans-serif" font-weight="normal" >20</text>
<text x="32.6" y="348.9" font-size="10.5" text-anchor="end" fill="#444444" font-family="'Liberation Sans', Arial, sans-serif" font-weight="normal" >30</text>
<text x="32.6" y="320.3" font-size="10.5" text-anchor="end" fill="#444444" font-family="'Liberation Sans', Arial, sans-serif" font-weight="normal" >40</text>
<text x="32.6" y="291.8" font-size="10.5" text-anchor="end" fill="#444444" font-family="'Liberation Sans', Arial, sans-serif" font-weight="normal" >50</text>
<text x="32.6" y="263.2" font-size="10.5" text-anchor="end" fill="#444444" font-family="'Liberation Sans', Arial, sans-serif" font-weight="normal" >60</text>
<text x="32.6" y="234.6" font-size="10.5" text-anchor="end" fill="#444444" font-family="'Liberation Sans', Arial, sans-serif" font-weight="normal" >70</text>
<text x="32.6" y="206" font-size="10.5" text-anchor="end" fill="#444444" font-family="'Liberation Sans', Arial, sans-serif" font-weight="normal" >80</text>
<text x="37.5" y="388.5" font-size="10.5" text-anchor="middle" fill="#444444" font-family="'Liberation Sans', Arial, sans-serif" font-weight="normal" >1.5</text>
<text x="102.8" y="388.5" font-size="10.5" text-anchor="middle" fill="#444444" font-family="'Liberation Sans', Arial, sans-serif" font-weight="normal" >2</text>
<text x="168.1" y="388.5" font-size="10.5" text-anchor="middle" fill="#444444" font-family="'Liberation Sans', Arial, sans-serif" font-weight="normal" >2.5</text>
<text x="233.4" y="388.5" font-size="10.5" text-anchor="middle" fill="#444444" font-family="'Liberation Sans', Arial, sans-serif" font-weight="normal" >3</text>
<text x="298.6" y="388.5" font-size="10.5" text-anchor="middle" fill="#444444" font-family="'Liberation Sans', Arial, sans-serif" font-weight="normal" >3.5</text>
<text x="363.9" y="388.5" font-size="10.5" text-anchor="middle" fill="#444444" font-family="'Liberation Sans', Arial, sans-serif" font-weight="normal" >4</text>
<text x="429.2" y="388.5" font-size="10.5" text-anchor="middle" fill="#444444" font-family="'Liberation Sans', Arial, sans-serif" font-weight="normal" >4.5</text>
<text x="494.5" y="388.5" font-size="10.5" text-anchor="middle" fill="#444444" font-family="'Liberation Sans', Arial, sans-serif" font-weight="normal" >5</text>
<text x="266.2" y="404.3" font-size="12.5" text-anchor="middle" fill="#444444" font-family="'Liberation Sans', Arial, sans-serif" font-weight="normal" >Disk Radius [um]</text>
<text x="14.9" y="286.6" font-size="12.7" text-anchor="middle" fill="#444444" font-family="'Liberation Sans', Arial, sans-serif" font-weight="normal" transform="rotate(-90 14.9 286.6)">FSR [nm]</text>
<rect x="398.1" y="208.1" width="80" height="42.3" fill="#fff" stroke="#262626" stroke-width="1"/>
<line x1="400" y1="216.3" x2="421" y2="216.3" stroke="#111" stroke-width="1.4"/>
<rect x="408.9" y="227.9" width="3.8" height="3.8" fill="#ff7070" stroke="#f00000" stroke-width="1.5"/>
<line x1="400" y1="243.3" x2="421" y2="243.3" stroke="#e8c020" stroke-width="1.3" stroke-dasharray="5 3"/>
<text x="423" y="220.3" font-size="10.5" text-anchor="start" fill="#444444" font-family="'Liberation Sans', Arial, sans-serif" font-weight="normal" >Simulated</text>
<text x="423" y="233.8" font-size="10.5" text-anchor="start" fill="#444444" font-family="'Liberation Sans', Arial, sans-serif" font-weight="normal" >Measured</text>
<text x="423" y="247.3" font-size="10.5" text-anchor="start" fill="#444444" font-family="'Liberation Sans', Arial, sans-serif" font-weight="normal" >Fit-to-Meas</text>
<text x="6" y="203.8" font-size="14" text-anchor="start" fill="#000" font-family="'DejaVu Sans', Verdana, sans-serif" font-weight="bold" letter-spacing="-0.8">c)</text>
<line x1="107.8" y1="424.2" x2="107.8" y2="597.5" stroke="#dedede" stroke-width="0.9"/>
<line x1="168.1" y1="424.2" x2="168.1" y2="597.5" stroke="#dedede" stroke-width="0.9"/>
<line x1="228.4" y1="424.2" x2="228.4" y2="597.5" stroke="#dedede" stroke-width="0.9"/>
<line x1="288.6" y1="424.2" x2="288.6" y2="597.5" stroke="#dedede" stroke-width="0.9"/>
<line x1="348.9" y1="424.2" x2="348.9" y2="597.5" stroke="#dedede" stroke-width="0.9"/>
<line x1="409.2" y1="424.2" x2="409.2" y2="597.5" stroke="#dedede" stroke-width="0.9"/>
<line x1="47.5" y1="562.8" x2="469.5" y2="562.8" stroke="#dedede" stroke-width="0.9"/>
<line x1="47.5" y1="528.2" x2="469.5" y2="528.2" stroke="#dedede" stroke-width="0.9"/>
<line x1="47.5" y1="493.5" x2="469.5" y2="493.5" stroke="#dedede" stroke-width="0.9"/>
<line x1="47.5" y1="458.9" x2="469.5" y2="458.9" stroke="#dedede" stroke-width="0.9"/>
<polyline points="59.6,551.6 63.5,553 67.4,554.4 71.2,555.7 75.1,556.9 79,558.1 82.9,559.2 86.8,560.2 90.7,561.3 94.6,562.2 98.5,563.2 102.4,564.1 106.3,564.9 110.2,565.7 114.1,566.5 118,567.3 121.9,568 125.8,568.7 129.7,569.4 133.6,570 137.5,570.6 141.4,571.2 145.3,571.8 149.2,572.4 153.1,572.9 157,573.4 160.9,573.9 164.8,574.4 168.7,574.9 172.6,575.3 176.5,575.8 180.4,576.2 184.3,576.6 188.2,577 192.1,577.4 196,577.8 199.9,578.1 203.8,578.5 207.7,578.8 211.6,579.2 215.4,579.5 219.3,579.8 223.2,580.1 227.1,580.4 231,580.7 234.9,581 238.8,581.2 242.7,581.5 246.6,581.8 250.5,582 254.4,582.3 258.3,582.5 262.2,582.7 266.1,583 270,583.2 273.9,583.4 277.8,583.6 281.7,583.8 285.6,584 289.5,584.2 293.4,584.4 297.3,584.6 301.2,584.8 305.1,584.9 309,585.1 312.9,585.3 316.8,585.5 320.7,585.6 324.6,585.8 328.5,585.9 332.4,586.1 336.3,586.2 340.2,586.4 344.1,586.5 348,586.7 351.9,586.8 355.7,586.9 359.6,587.1 363.5,587.2 367.4,587.3 371.3,587.5 375.2,587.6 379.1,587.7 383,587.8 386.9,587.9 390.8,588 394.7,588.1 398.6,588.3 402.5,588.4 406.4,588.5 410.3,588.6 414.2,588.7 418.1,588.8 422,588.9 425.9,589 429.8,589 433.7,589.1 437.6,589.2 441.5,589.3 445.4,589.4" fill="none" stroke="#111" stroke-width="1.8"/>
<polyline points="59.6,506.2 63.5,508 67.4,509.8 71.2,511.5 75.1,513.2 79,514.8 82.9,516.3 86.8,517.8 90.7,519.3 94.6,520.7 98.5,522.1 102.4,523.5 106.3,524.8 110.2,526.1 114.1,527.3 118,528.6 121.9,529.7 125.8,530.9 129.7,532 133.6,533.1 137.5,534.2 141.4,535.3 145.3,536.3 149.2,537.3 153.1,538.3 157,539.3 160.9,540.2 164.8,541.1 168.7,542 172.6,542.9 176.5,543.8 180.4,544.6 184.3,545.5 188.2,546.3 192.1,547.1 196,547.9 199.9,548.7 203.8,549.4 207.7,550.2 211.6,550.9 215.4,551.6 219.3,552.3 223.2,553 227.1,553.7 231,554.3 234.9,555 238.8,555.6 242.7,556.3 246.6,556.9 250.5,557.5 254.4,558.1 258.3,558.7 262.2,559.3 266.1,559.9 270,560.4 273.9,561 277.8,561.5 281.7,562.1 285.6,562.6 289.5,563.1 293.4,563.7 297.3,564.2 301.2,564.7 305.1,565.2 309,565.7 312.9,566.1 316.8,566.6 320.7,567.1 324.6,567.5 328.5,568 332.4,568.4 336.3,568.9 340.2,569.3 344.1,569.7 348,570.2 351.9,570.6 355.7,571 359.6,571.4 363.5,571.8 367.4,572.2 371.3,572.6 375.2,573 379.1,573.4 383,573.8 386.9,574.1 390.8,574.5 394.7,574.9 398.6,575.2 402.5,575.6 406.4,575.9 410.3,576.3 414.2,576.6 418.1,577 422,577.3 425.9,577.7 429.8,578 433.7,578.3 437.6,578.6 441.5,578.9 445.4,579.3" fill="none" stroke="#e2232a" stroke-width="1.5" stroke-dasharray="5.5 3.5"/>
<rect x="57.7" y="504.7" width="3.8" height="3.8" fill="#ff7070" stroke="#f00000" stroke-width="1.5"/>
<rect x="105.9" y="518.5" width="3.8" height="3.8" fill="#ff7070" stroke="#f00000" stroke-width="1.5"/>
<rect x="166.2" y="540.1" width="3.8" height="3.8" fill="#ff7070" stroke="#f00000" stroke-width="1.5"/>
<rect x="226.5" y="553.4" width="3.8" height="3.8" fill="#ff7070" stroke="#f00000" stroke-width="1.5"/>
<rect x="286.7" y="559.3" width="3.8" height="3.8" fill="#ff7070" stroke="#f00000" stroke-width="1.5"/>
<circle cx="204.3" cy="446.9" r="2" fill="#000"/>
<circle cx="203.9" cy="470.4" r="2.8" fill="none" stroke="#e2232a" stroke-width="1.6"/>
<line x1="200.3" y1="453.3" x2="200.3" y2="571" stroke="#000" stroke-width="1.7"/><polygon points="200.3,449.1 196.7,455.1 200.3,453.9 203.9,455.1" fill="#000"/><polygon points="200.3,575.2 196.7,569.2 200.3,570.4 203.9,569.2" fill="#000"/>
<line x1="205.7" y1="480.4" x2="205.7" y2="540.3" stroke="#e2232a" stroke-width="1.6" stroke-dasharray="3.2 2"/><polygon points="205.7,476.3 202.4,482.1 205.7,480.9 209,482.1" fill="#e2232a"/><polygon points="205.7,544.4 202.4,538.6 205.7,539.8 209,538.6" fill="#e2232a"/>
<line x1="53.3" y1="567.1" x2="107" y2="567.1" stroke="#000" stroke-width="1.8"/><polygon points="48.8,567.1 55.3,563.9 53.7,567.1 55.3,570.3" fill="#000"/>
<line x1="357" y1="567.3" x2="455" y2="567.3" stroke="#e2232a" stroke-width="1.7"/>
<polygon points="460.5,567.3 453.5,563.8 455.2,567.3 453.5,570.8" fill="#e2232a"/>
<rect x="208" y="445" width="101" height="29.5" fill="#fff"/>
<text x="209.2" y="456.9" font-size="11.6" text-anchor="start" fill="#111" font-family="'DejaVu Sans', Verdana, sans-serif" font-weight="normal" >Equivalent FSR</text>
<text x="210.4" y="470.8" font-size="11.6" text-anchor="start" fill="#111" font-family="'DejaVu Sans', Verdana, sans-serif" font-weight="normal" >single-mode ring</text>
<line x1="47.5" y1="424.2" x2="469.5" y2="424.2" stroke="#262626" stroke-width="1.2"/>
<line x1="47.5" y1="597.5" x2="469.5" y2="597.5" stroke="#262626" stroke-width="1.2"/>
<line x1="47.5" y1="424.2" x2="47.5" y2="597.5" stroke="#262626" stroke-width="1.2"/>
<line x1="469.5" y1="424.2" x2="469.5" y2="597.5" stroke="#e2232a" stroke-width="1.2"/>
<line x1="107.8" y1="597.5" x2="107.8" y2="593.5" stroke="#262626" stroke-width="1"/>
<line x1="107.8" y1="424.2" x2="107.8" y2="428.2" stroke="#262626" stroke-width="1"/>
<line x1="168.1" y1="597.5" x2="168.1" y2="593.5" stroke="#262626" stroke-width="1"/>
<line x1="168.1" y1="424.2" x2="168.1" y2="428.2" stroke="#262626" stroke-width="1"/>
<line x1="228.4" y1="597.5" x2="228.4" y2="593.5" stroke="#262626" stroke-width="1"/>
<line x1="228.4" y1="424.2" x2="228.4" y2="428.2" stroke="#262626" stroke-width="1"/>
<line x1="288.6" y1="597.5" x2="288.6" y2="593.5" stroke="#262626" stroke-width="1"/>
<line x1="288.6" y1="424.2" x2="288.6" y2="428.2" stroke="#262626" stroke-width="1"/>
<line x1="348.9" y1="597.5" x2="348.9" y2="593.5" stroke="#262626" stroke-width="1"/>
<line x1="348.9" y1="424.2" x2="348.9" y2="428.2" stroke="#262626" stroke-width="1"/>
<line x1="409.2" y1="597.5" x2="409.2" y2="593.5" stroke="#262626" stroke-width="1"/>
<line x1="409.2" y1="424.2" x2="409.2" y2="428.2" stroke="#262626" stroke-width="1"/>
<line x1="47.5" y1="562.8" x2="51.5" y2="562.8" stroke="#262626" stroke-width="1"/>
<line x1="47.5" y1="528.2" x2="51.5" y2="528.2" stroke="#262626" stroke-width="1"/>
<line x1="47.5" y1="493.5" x2="51.5" y2="493.5" stroke="#262626" stroke-width="1"/>
<line x1="47.5" y1="458.9" x2="51.5" y2="458.9" stroke="#262626" stroke-width="1"/>
<line x1="469.5" y1="539.7" x2="465.5" y2="539.7" stroke="#e2232a" stroke-width="1"/>
<line x1="469.5" y1="482" x2="465.5" y2="482" stroke="#e2232a" stroke-width="1"/>
<text x="42.8" y="602.8" font-size="10.5" text-anchor="end" fill="#444444" font-family="'Liberation Sans', Arial, sans-serif" font-weight="normal" >0</text>
<text x="42.8" y="568.1" font-size="10.5" text-anchor="end" fill="#444444" font-family="'Liberation Sans', Arial, sans-serif" font-weight="normal" >0.2</text>
<text x="42.8" y="533.5" font-size="10.5" text-anchor="end" fill="#444444" font-family="'Liberation Sans', Arial, sans-serif" font-weight="normal" >0.4</text>
<text x="42.8" y="498.8" font-size="10.5" text-anchor="end" fill="#444444" font-family="'Liberation Sans', Arial, sans-serif" font-weight="normal" >0.6</text>
<text x="42.8" y="464.2" font-size="10.5" text-anchor="end" fill="#444444" font-family="'Liberation Sans', Arial, sans-serif" font-weight="normal" >0.8</text>
<text x="42.8" y="429.5" font-size="10.5" text-anchor="end" fill="#444444" font-family="'Liberation Sans', Arial, sans-serif" font-weight="normal" >1</text>
<text x="474" y="602.1" font-size="10.5" text-anchor="start" fill="#e2232a" font-family="'Liberation Sans', Arial, sans-serif" font-weight="normal" >0.5</text>
<text x="474" y="544.3" font-size="10.5" text-anchor="start" fill="#e2232a" font-family="'Liberation Sans', Arial, sans-serif" font-weight="normal" >1</text>
<text x="474" y="486.6" font-size="10.5" text-anchor="start" fill="#e2232a" font-family="'Liberation Sans', Arial, sans-serif" font-weight="normal" >1.5</text>
<text x="474" y="428.8" font-size="10.5" text-anchor="start" fill="#e2232a" font-family="'Liberation Sans', Arial, sans-serif" font-weight="normal" >2</text>
<text x="47.5" y="613.8" font-size="10.5" text-anchor="middle" fill="#444444" font-family="'Liberation Sans', Arial, sans-serif" font-weight="normal" >1.5</text>
<text x="107.8" y="613.8" font-size="10.5" text-anchor="middle" fill="#444444" font-family="'Liberation Sans', Arial, sans-serif" font-weight="normal" >2</text>
<text x="168.1" y="613.8" font-size="10.5" text-anchor="middle" fill="#444444" font-family="'Liberation Sans', Arial, sans-serif" font-weight="normal" >2.5</text>
<text x="228.4" y="613.8" font-size="10.5" text-anchor="middle" fill="#444444" font-family="'Liberation Sans', Arial, sans-serif" font-weight="normal" >3</text>
<text x="288.6" y="613.8" font-size="10.5" text-anchor="middle" fill="#444444" font-family="'Liberation Sans', Arial, sans-serif" font-weight="normal" >3.5</text>
<text x="348.9" y="613.8" font-size="10.5" text-anchor="middle" fill="#444444" font-family="'Liberation Sans', Arial, sans-serif" font-weight="normal" >4</text>
<text x="409.2" y="613.8" font-size="10.5" text-anchor="middle" fill="#444444" font-family="'Liberation Sans', Arial, sans-serif" font-weight="normal" >4.5</text>
<text x="469.5" y="613.8" font-size="10.5" text-anchor="middle" fill="#444444" font-family="'Liberation Sans', Arial, sans-serif" font-weight="normal" >5</text>
<text x="258.6" y="629.7" font-size="13" text-anchor="middle" fill="#444444" font-family="'Liberation Sans', Arial, sans-serif" font-weight="normal" >Disk Radius [um]</text>
<text x="47.6" y="420.8" font-size="11" text-anchor="start" fill="#444444" font-family="'Liberation Sans', Arial, sans-serif" font-weight="normal" ><tspan font-size="12.5">×</tspan><tspan x="57.0">10</tspan><tspan x="70.3" font-size="9.5" dy="-5.3">-3</tspan></text>
<text x="15" y="503" font-size="11.9" text-anchor="middle" fill="#444444" font-family="'Liberation Sans', Arial, sans-serif" font-weight="normal" transform="rotate(-90 15.0 503)">|∂ n<tspan font-size="8" dy="3">eff</tspan><tspan dy="-3">/∂ Radius| [1/nm]</tspan></text>
<text x="506.3" y="511" font-size="12.6" text-anchor="middle" fill="#e2232a" font-family="'Liberation Sans', Arial, sans-serif" font-weight="normal" transform="rotate(-90 506.3 511)">1σ [nm]</text>
<rect x="375.7" y="431.1" width="83.5" height="70.8" fill="#fff" stroke="#262626" stroke-width="1"/>
<line x1="377.3" y1="440.3" x2="399.7" y2="440.3" stroke="#111" stroke-width="1.5"/>
<circle cx="388.8" cy="454.6" r="1.9" fill="#000"/>
<rect x="386.3" y="465.5" width="5" height="5" fill="#ff6060" stroke="#ee0000" stroke-width="1.6"/>
<line x1="377.3" y1="481.8" x2="399.7" y2="481.8" stroke="#e2232a" stroke-width="1.4" stroke-dasharray="4.5 3"/>
<circle cx="388.8" cy="495" r="2.5" fill="none" stroke="#e2232a" stroke-width="1.6"/>
<text x="402" y="444.1" font-size="10.5" text-anchor="start" fill="#444444" font-family="'Liberation Sans', Arial, sans-serif" font-weight="normal" >Simulated</text>
<text x="402" y="458.4" font-size="10.5" text-anchor="start" fill="#444444" font-family="'Liberation Sans', Arial, sans-serif" font-weight="normal" >Ring Sim.</text>
<text x="402" y="471.8" font-size="10.5" text-anchor="start" fill="#444444" font-family="'Liberation Sans', Arial, sans-serif" font-weight="normal" >Measured</text>
<text x="402" y="485.6" font-size="10.5" text-anchor="start" fill="#444444" font-family="'Liberation Sans', Arial, sans-serif" font-weight="normal" >Fit-to-Meas</text>
<text x="402" y="498.8" font-size="10.5" text-anchor="start" fill="#444444" font-family="'Liberation Sans', Arial, sans-serif" font-weight="normal" >Ring Meas.</text>
<text x="6" y="413" font-size="14" text-anchor="start" fill="#000" font-family="'DejaVu Sans', Verdana, sans-serif" font-weight="bold" letter-spacing="-0.8">d)</text>
</svg>
</body></html>
